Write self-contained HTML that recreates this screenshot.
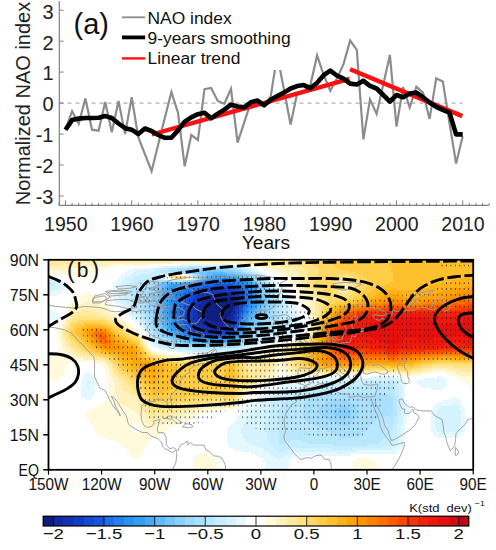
<!DOCTYPE html>
<html><head><meta charset="utf-8"><style>
html,body{margin:0;padding:0;background:#fff;}
svg{display:block;}
</style></head><body>
<svg width="496" height="550" viewBox="0 0 496 550">
<rect width="496" height="550" fill="#fff"/>
<line x1="59.5" y1="103.1" x2="462.5" y2="103.1" stroke="#9a9a9a" stroke-width="1" stroke-dasharray="4,4"/>
<polyline points="65.5,129.4 72.1,111.2 78.7,123.8 85.4,98.5 92.0,129.7 98.6,130.7 105.2,101.9 111.8,132.2 118.5,100.9 125.1,134.1 131.7,97.2 138.3,137.2 144.9,154.2 151.6,171.2 158.2,144.6 164.8,118.0 171.4,92.0 178.0,112.7 184.7,166.3 191.3,135.0 197.9,140.0 204.5,89.2 211.1,87.9 217.8,100.9 224.4,103.7 231.0,88.9 237.6,142.7 244.2,122.3 250.9,102.5 257.5,100.6 264.1,105.9 270.7,96.3 277.3,55.1 284.0,89.8 290.6,124.5 297.2,93.2 303.8,91.0 310.4,85.1 317.1,55.4 323.7,75.2 330.3,90.7 336.9,78.6 343.5,64.1 350.2,40.5 356.8,49.8 363.4,139.3 370.0,99.4 376.6,113.9 383.3,84.5 389.9,55.1 396.5,126.6 403.1,87.0 409.7,107.4 416.4,86.7 423.0,92.6 429.6,118.9 436.2,78.3 442.8,81.4 449.5,123.2 456.1,163.5 462.7,136.2" fill="none" stroke="#8c8c8c" stroke-width="2.2" stroke-linejoin="miter"/>
<line x1="151.9" y1="134.5" x2="349.5" y2="78.8" stroke="#ff1010" stroke-width="4.4"/>
<line x1="350.1" y1="69.3" x2="462.3" y2="116.1" stroke="#ff1010" stroke-width="4.4"/>
<polyline points="65.5,129.7 72.1,120.1 78.7,118.6 85.4,118.0 92.0,118.0 98.6,117.7 105.2,116.1 111.8,118.0 118.5,123.5 125.1,128.2 131.7,129.7 138.3,134.1 144.9,128.5 151.6,131.0 158.2,135.0 164.8,137.8 171.4,137.8 178.0,130.4 184.7,121.7 191.3,117.3 197.9,114.2 204.5,112.7 211.1,118.3 217.8,113.6 224.4,109.6 231.0,104.6 237.6,106.5 244.2,107.4 250.9,102.2 257.5,100.6 264.1,105.3 270.7,99.7 277.3,96.0 284.0,92.6 290.6,88.5 297.2,86.1 303.8,85.1 310.4,88.2 317.1,82.7 323.7,75.2 330.3,70.6 336.9,75.5 343.5,78.6 350.2,83.6 356.8,84.5 363.4,80.8 370.0,85.8 376.6,88.5 383.3,95.0 389.9,101.6 396.5,95.0 403.1,97.2 409.7,93.5 416.4,92.6 423.0,97.2 429.6,102.5 436.2,106.8 442.8,109.9 449.5,112.7 456.1,134.4 462.7,134.4" fill="none" stroke="#000" stroke-width="4.6" stroke-linejoin="round"/>
<rect x="118" y="0" width="185" height="70" fill="#fff"/>
<line x1="122" y1="17.3" x2="145.2" y2="17.3" stroke="#8c8c8c" stroke-width="1.8"/>
<line x1="122" y1="37.4" x2="145.2" y2="37.4" stroke="#000" stroke-width="3.8"/>
<line x1="122" y1="58.4" x2="145.2" y2="58.4" stroke="#ff1010" stroke-width="2.4"/>
<text x="147.5" y="23.8" font-size="17.4" font-family="Liberation Sans, sans-serif" fill="#111">NAO index</text>
<text x="147.5" y="44" font-size="17.4" font-family="Liberation Sans, sans-serif" fill="#111">9-years smoothing</text>
<text x="147.5" y="64.1" font-size="17.4" font-family="Liberation Sans, sans-serif" fill="#111">Linear trend</text>
<text x="73.5" y="33.6" font-size="29" font-family="Liberation Sans, sans-serif" fill="#111">(a)</text>
<line x1="59.3" y1="1" x2="59.3" y2="205.9" stroke="#808080" stroke-width="1.2"/>
<line x1="59.3" y1="205.3" x2="489" y2="205.3" stroke="#808080" stroke-width="1.2"/>
<line x1="59.3" y1="196.0" x2="63.6" y2="196.0" stroke="#808080" stroke-width="1"/>
<text x="53.5" y="204.3" font-size="20" text-anchor="end" font-family="Liberation Sans, sans-serif" fill="#222">-3</text>
<line x1="59.3" y1="165.0" x2="63.6" y2="165.0" stroke="#808080" stroke-width="1"/>
<text x="53.5" y="173.3" font-size="20" text-anchor="end" font-family="Liberation Sans, sans-serif" fill="#222">-2</text>
<line x1="59.3" y1="134.1" x2="63.6" y2="134.1" stroke="#808080" stroke-width="1"/>
<text x="53.5" y="142.4" font-size="20" text-anchor="end" font-family="Liberation Sans, sans-serif" fill="#222">-1</text>
<line x1="59.3" y1="103.1" x2="63.6" y2="103.1" stroke="#808080" stroke-width="1"/>
<text x="53.5" y="111.4" font-size="20" text-anchor="end" font-family="Liberation Sans, sans-serif" fill="#222">0</text>
<line x1="59.3" y1="72.1" x2="63.6" y2="72.1" stroke="#808080" stroke-width="1"/>
<text x="53.5" y="80.4" font-size="20" text-anchor="end" font-family="Liberation Sans, sans-serif" fill="#222">1</text>
<line x1="59.3" y1="41.2" x2="63.6" y2="41.2" stroke="#808080" stroke-width="1"/>
<text x="53.5" y="49.5" font-size="20" text-anchor="end" font-family="Liberation Sans, sans-serif" fill="#222">2</text>
<line x1="59.3" y1="10.2" x2="63.6" y2="10.2" stroke="#808080" stroke-width="1"/>
<text x="53.5" y="18.5" font-size="20" text-anchor="end" font-family="Liberation Sans, sans-serif" fill="#222">3</text>
<line x1="58.9" y1="205.3" x2="58.9" y2="202.8" stroke="#808080" stroke-width="1"/>
<line x1="65.5" y1="205.3" x2="65.5" y2="200.3" stroke="#808080" stroke-width="1"/>
<line x1="72.1" y1="205.3" x2="72.1" y2="202.8" stroke="#808080" stroke-width="1"/>
<line x1="78.7" y1="205.3" x2="78.7" y2="202.8" stroke="#808080" stroke-width="1"/>
<line x1="85.4" y1="205.3" x2="85.4" y2="202.8" stroke="#808080" stroke-width="1"/>
<line x1="92.0" y1="205.3" x2="92.0" y2="202.8" stroke="#808080" stroke-width="1"/>
<line x1="98.6" y1="205.3" x2="98.6" y2="202.8" stroke="#808080" stroke-width="1"/>
<line x1="105.2" y1="205.3" x2="105.2" y2="202.8" stroke="#808080" stroke-width="1"/>
<line x1="111.8" y1="205.3" x2="111.8" y2="202.8" stroke="#808080" stroke-width="1"/>
<line x1="118.5" y1="205.3" x2="118.5" y2="202.8" stroke="#808080" stroke-width="1"/>
<line x1="125.1" y1="205.3" x2="125.1" y2="202.8" stroke="#808080" stroke-width="1"/>
<line x1="131.7" y1="205.3" x2="131.7" y2="200.3" stroke="#808080" stroke-width="1"/>
<line x1="138.3" y1="205.3" x2="138.3" y2="202.8" stroke="#808080" stroke-width="1"/>
<line x1="144.9" y1="205.3" x2="144.9" y2="202.8" stroke="#808080" stroke-width="1"/>
<line x1="151.6" y1="205.3" x2="151.6" y2="202.8" stroke="#808080" stroke-width="1"/>
<line x1="158.2" y1="205.3" x2="158.2" y2="202.8" stroke="#808080" stroke-width="1"/>
<line x1="164.8" y1="205.3" x2="164.8" y2="202.8" stroke="#808080" stroke-width="1"/>
<line x1="171.4" y1="205.3" x2="171.4" y2="202.8" stroke="#808080" stroke-width="1"/>
<line x1="178.0" y1="205.3" x2="178.0" y2="202.8" stroke="#808080" stroke-width="1"/>
<line x1="184.7" y1="205.3" x2="184.7" y2="202.8" stroke="#808080" stroke-width="1"/>
<line x1="191.3" y1="205.3" x2="191.3" y2="202.8" stroke="#808080" stroke-width="1"/>
<line x1="197.9" y1="205.3" x2="197.9" y2="200.3" stroke="#808080" stroke-width="1"/>
<line x1="204.5" y1="205.3" x2="204.5" y2="202.8" stroke="#808080" stroke-width="1"/>
<line x1="211.1" y1="205.3" x2="211.1" y2="202.8" stroke="#808080" stroke-width="1"/>
<line x1="217.8" y1="205.3" x2="217.8" y2="202.8" stroke="#808080" stroke-width="1"/>
<line x1="224.4" y1="205.3" x2="224.4" y2="202.8" stroke="#808080" stroke-width="1"/>
<line x1="231.0" y1="205.3" x2="231.0" y2="202.8" stroke="#808080" stroke-width="1"/>
<line x1="237.6" y1="205.3" x2="237.6" y2="202.8" stroke="#808080" stroke-width="1"/>
<line x1="244.2" y1="205.3" x2="244.2" y2="202.8" stroke="#808080" stroke-width="1"/>
<line x1="250.9" y1="205.3" x2="250.9" y2="202.8" stroke="#808080" stroke-width="1"/>
<line x1="257.5" y1="205.3" x2="257.5" y2="202.8" stroke="#808080" stroke-width="1"/>
<line x1="264.1" y1="205.3" x2="264.1" y2="200.3" stroke="#808080" stroke-width="1"/>
<line x1="270.7" y1="205.3" x2="270.7" y2="202.8" stroke="#808080" stroke-width="1"/>
<line x1="277.3" y1="205.3" x2="277.3" y2="202.8" stroke="#808080" stroke-width="1"/>
<line x1="284.0" y1="205.3" x2="284.0" y2="202.8" stroke="#808080" stroke-width="1"/>
<line x1="290.6" y1="205.3" x2="290.6" y2="202.8" stroke="#808080" stroke-width="1"/>
<line x1="297.2" y1="205.3" x2="297.2" y2="202.8" stroke="#808080" stroke-width="1"/>
<line x1="303.8" y1="205.3" x2="303.8" y2="202.8" stroke="#808080" stroke-width="1"/>
<line x1="310.4" y1="205.3" x2="310.4" y2="202.8" stroke="#808080" stroke-width="1"/>
<line x1="317.1" y1="205.3" x2="317.1" y2="202.8" stroke="#808080" stroke-width="1"/>
<line x1="323.7" y1="205.3" x2="323.7" y2="202.8" stroke="#808080" stroke-width="1"/>
<line x1="330.3" y1="205.3" x2="330.3" y2="200.3" stroke="#808080" stroke-width="1"/>
<line x1="336.9" y1="205.3" x2="336.9" y2="202.8" stroke="#808080" stroke-width="1"/>
<line x1="343.5" y1="205.3" x2="343.5" y2="202.8" stroke="#808080" stroke-width="1"/>
<line x1="350.2" y1="205.3" x2="350.2" y2="202.8" stroke="#808080" stroke-width="1"/>
<line x1="356.8" y1="205.3" x2="356.8" y2="202.8" stroke="#808080" stroke-width="1"/>
<line x1="363.4" y1="205.3" x2="363.4" y2="202.8" stroke="#808080" stroke-width="1"/>
<line x1="370.0" y1="205.3" x2="370.0" y2="202.8" stroke="#808080" stroke-width="1"/>
<line x1="376.6" y1="205.3" x2="376.6" y2="202.8" stroke="#808080" stroke-width="1"/>
<line x1="383.3" y1="205.3" x2="383.3" y2="202.8" stroke="#808080" stroke-width="1"/>
<line x1="389.9" y1="205.3" x2="389.9" y2="202.8" stroke="#808080" stroke-width="1"/>
<line x1="396.5" y1="205.3" x2="396.5" y2="200.3" stroke="#808080" stroke-width="1"/>
<line x1="403.1" y1="205.3" x2="403.1" y2="202.8" stroke="#808080" stroke-width="1"/>
<line x1="409.7" y1="205.3" x2="409.7" y2="202.8" stroke="#808080" stroke-width="1"/>
<line x1="416.4" y1="205.3" x2="416.4" y2="202.8" stroke="#808080" stroke-width="1"/>
<line x1="423.0" y1="205.3" x2="423.0" y2="202.8" stroke="#808080" stroke-width="1"/>
<line x1="429.6" y1="205.3" x2="429.6" y2="202.8" stroke="#808080" stroke-width="1"/>
<line x1="436.2" y1="205.3" x2="436.2" y2="202.8" stroke="#808080" stroke-width="1"/>
<line x1="442.8" y1="205.3" x2="442.8" y2="202.8" stroke="#808080" stroke-width="1"/>
<line x1="449.5" y1="205.3" x2="449.5" y2="202.8" stroke="#808080" stroke-width="1"/>
<line x1="456.1" y1="205.3" x2="456.1" y2="202.8" stroke="#808080" stroke-width="1"/>
<line x1="462.7" y1="205.3" x2="462.7" y2="200.3" stroke="#808080" stroke-width="1"/>
<line x1="469.3" y1="205.3" x2="469.3" y2="202.8" stroke="#808080" stroke-width="1"/>
<line x1="475.9" y1="205.3" x2="475.9" y2="202.8" stroke="#808080" stroke-width="1"/>
<line x1="482.6" y1="205.3" x2="482.6" y2="202.8" stroke="#808080" stroke-width="1"/>
<line x1="489.2" y1="205.3" x2="489.2" y2="202.8" stroke="#808080" stroke-width="1"/>
<text x="65.8" y="230.6" font-size="19.5" text-anchor="middle" font-family="Liberation Sans, sans-serif" fill="#222">1950</text>
<text x="132.0" y="230.6" font-size="19.5" text-anchor="middle" font-family="Liberation Sans, sans-serif" fill="#222">1960</text>
<text x="198.2" y="230.6" font-size="19.5" text-anchor="middle" font-family="Liberation Sans, sans-serif" fill="#222">1970</text>
<text x="264.4" y="230.6" font-size="19.5" text-anchor="middle" font-family="Liberation Sans, sans-serif" fill="#222">1980</text>
<text x="330.6" y="230.6" font-size="19.5" text-anchor="middle" font-family="Liberation Sans, sans-serif" fill="#222">1990</text>
<text x="396.8" y="230.6" font-size="19.5" text-anchor="middle" font-family="Liberation Sans, sans-serif" fill="#222">2000</text>
<text x="463.0" y="230.6" font-size="19.5" text-anchor="middle" font-family="Liberation Sans, sans-serif" fill="#222">2010</text>
<text x="265.9" y="248.5" font-size="19.2" text-anchor="middle" font-family="Liberation Sans, sans-serif" fill="#111">Years</text>
<text transform="translate(29.8,103.5) rotate(-90)" font-size="20" text-anchor="middle" font-family="Liberation Sans, sans-serif" fill="#222">Normalized NAO index</text>
<defs><clipPath id="mclip"><rect x="48.5" y="259.8" width="424.7" height="210.0"/></clipPath>
<pattern id="dots" x="48.22" y="256.95" width="4.43" height="5.83" patternUnits="userSpaceOnUse"><rect x="3.63" y="2.1" width="1.6" height="1.6" fill="#1a1a1a"/></pattern></defs>
<g clip-path="url(#mclip)">
<g shape-rendering="crispEdges">
<rect x="48.5" y="259.8" width="196.0" height="2.0" fill="#ffeaa0"/>
<rect x="244.5" y="259.8" width="58.0" height="2.0" fill="#ffe282"/>
<rect x="302.5" y="259.8" width="26.0" height="2.0" fill="#ffd864"/>
<rect x="328.5" y="259.8" width="58.0" height="2.0" fill="#ffcd46"/>
<rect x="386.5" y="259.8" width="88.0" height="2.0" fill="#ffc02d"/>
<rect x="48.5" y="261.8" width="32.0" height="2.0" fill="#ffeaa0"/>
<rect x="80.5" y="261.8" width="90.0" height="2.0" fill="#fff2be"/>
<rect x="170.5" y="261.8" width="66.0" height="2.0" fill="#fffadc"/>
<rect x="236.5" y="261.8" width="12.0" height="2.0" fill="#fff2be"/>
<rect x="248.5" y="261.8" width="14.0" height="2.0" fill="#ffeaa0"/>
<rect x="262.5" y="261.8" width="46.0" height="2.0" fill="#ffe282"/>
<rect x="308.5" y="261.8" width="22.0" height="2.0" fill="#ffd864"/>
<rect x="330.5" y="261.8" width="58.0" height="2.0" fill="#ffcd46"/>
<rect x="388.5" y="261.8" width="86.0" height="2.0" fill="#ffc02d"/>
<rect x="48.5" y="263.8" width="14.0" height="2.0" fill="#ffeaa0"/>
<rect x="62.5" y="263.8" width="46.0" height="2.0" fill="#fff2be"/>
<rect x="108.5" y="263.8" width="40.0" height="2.0" fill="#fffadc"/>
<rect x="180.5" y="263.8" width="52.0" height="2.0" fill="#e4f8ff"/>
<rect x="246.5" y="263.8" width="8.0" height="2.0" fill="#fffadc"/>
<rect x="254.5" y="263.8" width="6.0" height="2.0" fill="#fff2be"/>
<rect x="260.5" y="263.8" width="36.0" height="2.0" fill="#ffeaa0"/>
<rect x="296.5" y="263.8" width="16.0" height="2.0" fill="#ffe282"/>
<rect x="312.5" y="263.8" width="20.0" height="2.0" fill="#ffd864"/>
<rect x="332.5" y="263.8" width="56.0" height="2.0" fill="#ffcd46"/>
<rect x="388.5" y="263.8" width="86.0" height="2.0" fill="#ffc02d"/>
<rect x="48.5" y="265.8" width="36.0" height="2.0" fill="#fff2be"/>
<rect x="84.5" y="265.8" width="30.0" height="2.0" fill="#fffadc"/>
<rect x="156.5" y="265.8" width="8.0" height="2.0" fill="#e4f8ff"/>
<rect x="164.5" y="265.8" width="12.0" height="2.0" fill="#d4f3ff"/>
<rect x="176.5" y="265.8" width="12.0" height="2.0" fill="#c6eefe"/>
<rect x="188.5" y="265.8" width="40.0" height="2.0" fill="#b8e7fe"/>
<rect x="228.5" y="265.8" width="8.0" height="2.0" fill="#c6eefe"/>
<rect x="236.5" y="265.8" width="4.0" height="2.0" fill="#d4f3ff"/>
<rect x="240.5" y="265.8" width="6.0" height="2.0" fill="#e4f8ff"/>
<rect x="256.5" y="265.8" width="6.0" height="2.0" fill="#fffadc"/>
<rect x="262.5" y="265.8" width="18.0" height="2.0" fill="#fff2be"/>
<rect x="280.5" y="265.8" width="22.0" height="2.0" fill="#ffeaa0"/>
<rect x="302.5" y="265.8" width="14.0" height="2.0" fill="#ffe282"/>
<rect x="316.5" y="265.8" width="18.0" height="2.0" fill="#ffd864"/>
<rect x="334.5" y="265.8" width="56.0" height="2.0" fill="#ffcd46"/>
<rect x="390.5" y="265.8" width="84.0" height="2.0" fill="#ffc02d"/>
<rect x="48.5" y="267.8" width="22.0" height="2.0" fill="#fff2be"/>
<rect x="70.5" y="267.8" width="34.0" height="2.0" fill="#fffadc"/>
<rect x="132.5" y="267.8" width="20.0" height="2.0" fill="#e4f8ff"/>
<rect x="152.5" y="267.8" width="8.0" height="2.0" fill="#d4f3ff"/>
<rect x="160.5" y="267.8" width="8.0" height="2.0" fill="#c6eefe"/>
<rect x="168.5" y="267.8" width="8.0" height="2.0" fill="#b8e7fe"/>
<rect x="176.5" y="267.8" width="10.0" height="2.0" fill="#aae0fd"/>
<rect x="186.5" y="267.8" width="44.0" height="2.0" fill="#9bd8fd"/>
<rect x="230.5" y="267.8" width="6.0" height="2.0" fill="#aae0fd"/>
<rect x="236.5" y="267.8" width="4.0" height="2.0" fill="#b8e7fe"/>
<rect x="240.5" y="267.8" width="4.0" height="2.0" fill="#c6eefe"/>
<rect x="244.5" y="267.8" width="6.0" height="2.0" fill="#d4f3ff"/>
<rect x="250.5" y="267.8" width="4.0" height="2.0" fill="#e4f8ff"/>
<rect x="262.5" y="267.8" width="10.0" height="2.0" fill="#fffadc"/>
<rect x="272.5" y="267.8" width="22.0" height="2.0" fill="#fff2be"/>
<rect x="294.5" y="267.8" width="12.0" height="2.0" fill="#ffeaa0"/>
<rect x="306.5" y="267.8" width="12.0" height="2.0" fill="#ffe282"/>
<rect x="318.5" y="267.8" width="20.0" height="2.0" fill="#ffd864"/>
<rect x="338.5" y="267.8" width="52.0" height="2.0" fill="#ffcd46"/>
<rect x="390.5" y="267.8" width="84.0" height="2.0" fill="#ffc02d"/>
<rect x="48.5" y="269.8" width="50.0" height="2.0" fill="#fffadc"/>
<rect x="126.5" y="269.8" width="10.0" height="2.0" fill="#e4f8ff"/>
<rect x="136.5" y="269.8" width="18.0" height="2.0" fill="#d4f3ff"/>
<rect x="154.5" y="269.8" width="6.0" height="2.0" fill="#c6eefe"/>
<rect x="160.5" y="269.8" width="8.0" height="2.0" fill="#b8e7fe"/>
<rect x="168.5" y="269.8" width="10.0" height="2.0" fill="#aae0fd"/>
<rect x="178.5" y="269.8" width="10.0" height="2.0" fill="#9bd8fd"/>
<rect x="188.5" y="269.8" width="12.0" height="2.0" fill="#8ad0fc"/>
<rect x="200.5" y="269.8" width="22.0" height="2.0" fill="#76c6fb"/>
<rect x="222.5" y="269.8" width="12.0" height="2.0" fill="#8ad0fc"/>
<rect x="234.5" y="269.8" width="4.0" height="2.0" fill="#9bd8fd"/>
<rect x="238.5" y="269.8" width="4.0" height="2.0" fill="#aae0fd"/>
<rect x="242.5" y="269.8" width="4.0" height="2.0" fill="#b8e7fe"/>
<rect x="246.5" y="269.8" width="4.0" height="2.0" fill="#c6eefe"/>
<rect x="250.5" y="269.8" width="4.0" height="2.0" fill="#d4f3ff"/>
<rect x="254.5" y="269.8" width="4.0" height="2.0" fill="#e4f8ff"/>
<rect x="268.5" y="269.8" width="10.0" height="2.0" fill="#fffadc"/>
<rect x="278.5" y="269.8" width="18.0" height="2.0" fill="#fff2be"/>
<rect x="296.5" y="269.8" width="10.0" height="2.0" fill="#ffeaa0"/>
<rect x="306.5" y="269.8" width="12.0" height="2.0" fill="#ffe282"/>
<rect x="318.5" y="269.8" width="30.0" height="2.0" fill="#ffd864"/>
<rect x="348.5" y="269.8" width="42.0" height="2.0" fill="#ffcd46"/>
<rect x="390.5" y="269.8" width="84.0" height="2.0" fill="#ffc02d"/>
<rect x="48.5" y="271.8" width="42.0" height="2.0" fill="#fffadc"/>
<rect x="124.5" y="271.8" width="8.0" height="2.0" fill="#e4f8ff"/>
<rect x="132.5" y="271.8" width="18.0" height="2.0" fill="#d4f3ff"/>
<rect x="150.5" y="271.8" width="10.0" height="2.0" fill="#c6eefe"/>
<rect x="160.5" y="271.8" width="20.0" height="2.0" fill="#b8e7fe"/>
<rect x="180.5" y="271.8" width="6.0" height="2.0" fill="#aae0fd"/>
<rect x="186.5" y="271.8" width="6.0" height="2.0" fill="#9bd8fd"/>
<rect x="192.5" y="271.8" width="6.0" height="2.0" fill="#8ad0fc"/>
<rect x="198.5" y="271.8" width="8.0" height="2.0" fill="#76c6fb"/>
<rect x="206.5" y="271.8" width="18.0" height="2.0" fill="#5fb9fa"/>
<rect x="224.5" y="271.8" width="10.0" height="2.0" fill="#76c6fb"/>
<rect x="234.5" y="271.8" width="6.0" height="2.0" fill="#8ad0fc"/>
<rect x="240.5" y="271.8" width="4.0" height="2.0" fill="#9bd8fd"/>
<rect x="244.5" y="271.8" width="4.0" height="2.0" fill="#aae0fd"/>
<rect x="248.5" y="271.8" width="4.0" height="2.0" fill="#b8e7fe"/>
<rect x="252.5" y="271.8" width="4.0" height="2.0" fill="#c6eefe"/>
<rect x="256.5" y="271.8" width="2.0" height="2.0" fill="#d4f3ff"/>
<rect x="258.5" y="271.8" width="4.0" height="2.0" fill="#e4f8ff"/>
<rect x="274.5" y="271.8" width="10.0" height="2.0" fill="#fffadc"/>
<rect x="284.5" y="271.8" width="14.0" height="2.0" fill="#fff2be"/>
<rect x="298.5" y="271.8" width="8.0" height="2.0" fill="#ffeaa0"/>
<rect x="306.5" y="271.8" width="12.0" height="2.0" fill="#ffe282"/>
<rect x="318.5" y="271.8" width="36.0" height="2.0" fill="#ffd864"/>
<rect x="354.5" y="271.8" width="38.0" height="2.0" fill="#ffcd46"/>
<rect x="392.5" y="271.8" width="82.0" height="2.0" fill="#ffc02d"/>
<rect x="68.5" y="273.8" width="12.0" height="2.0" fill="#fffadc"/>
<rect x="120.5" y="273.8" width="10.0" height="2.0" fill="#e4f8ff"/>
<rect x="130.5" y="273.8" width="10.0" height="2.0" fill="#d4f3ff"/>
<rect x="140.5" y="273.8" width="20.0" height="2.0" fill="#c6eefe"/>
<rect x="160.5" y="273.8" width="6.0" height="2.0" fill="#d4f3ff"/>
<rect x="166.5" y="273.8" width="4.0" height="2.0" fill="#e4f8ff"/>
<rect x="184.5" y="273.8" width="4.0" height="2.0" fill="#e4f8ff"/>
<rect x="188.5" y="273.8" width="2.0" height="2.0" fill="#d4f3ff"/>
<rect x="190.5" y="273.8" width="2.0" height="2.0" fill="#c6eefe"/>
<rect x="192.5" y="273.8" width="2.0" height="2.0" fill="#b8e7fe"/>
<rect x="194.5" y="273.8" width="2.0" height="2.0" fill="#aae0fd"/>
<rect x="196.5" y="273.8" width="2.0" height="2.0" fill="#9bd8fd"/>
<rect x="198.5" y="273.8" width="2.0" height="2.0" fill="#8ad0fc"/>
<rect x="200.5" y="273.8" width="4.0" height="2.0" fill="#76c6fb"/>
<rect x="204.5" y="273.8" width="8.0" height="2.0" fill="#5fb9fa"/>
<rect x="212.5" y="273.8" width="14.0" height="2.0" fill="#46aaf8"/>
<rect x="226.5" y="273.8" width="10.0" height="2.0" fill="#5fb9fa"/>
<rect x="236.5" y="273.8" width="4.0" height="2.0" fill="#76c6fb"/>
<rect x="240.5" y="273.8" width="6.0" height="2.0" fill="#8ad0fc"/>
<rect x="246.5" y="273.8" width="4.0" height="2.0" fill="#9bd8fd"/>
<rect x="250.5" y="273.8" width="2.0" height="2.0" fill="#aae0fd"/>
<rect x="252.5" y="273.8" width="4.0" height="2.0" fill="#b8e7fe"/>
<rect x="256.5" y="273.8" width="2.0" height="2.0" fill="#c6eefe"/>
<rect x="258.5" y="273.8" width="4.0" height="2.0" fill="#d4f3ff"/>
<rect x="262.5" y="273.8" width="4.0" height="2.0" fill="#e4f8ff"/>
<rect x="278.5" y="273.8" width="10.0" height="2.0" fill="#fffadc"/>
<rect x="288.5" y="273.8" width="10.0" height="2.0" fill="#fff2be"/>
<rect x="298.5" y="273.8" width="8.0" height="2.0" fill="#ffeaa0"/>
<rect x="306.5" y="273.8" width="10.0" height="2.0" fill="#ffe282"/>
<rect x="316.5" y="273.8" width="22.0" height="2.0" fill="#ffd864"/>
<rect x="338.5" y="273.8" width="10.0" height="2.0" fill="#ffe282"/>
<rect x="348.5" y="273.8" width="10.0" height="2.0" fill="#ffd864"/>
<rect x="358.5" y="273.8" width="34.0" height="2.0" fill="#ffcd46"/>
<rect x="392.5" y="273.8" width="82.0" height="2.0" fill="#ffc02d"/>
<rect x="118.5" y="275.8" width="8.0" height="2.0" fill="#e4f8ff"/>
<rect x="126.5" y="275.8" width="8.0" height="2.0" fill="#d4f3ff"/>
<rect x="134.5" y="275.8" width="22.0" height="2.0" fill="#c6eefe"/>
<rect x="156.5" y="275.8" width="4.0" height="2.0" fill="#d4f3ff"/>
<rect x="160.5" y="275.8" width="2.0" height="2.0" fill="#e4f8ff"/>
<rect x="166.5" y="275.8" width="2.0" height="2.0" fill="#fffadc"/>
<rect x="168.5" y="275.8" width="2.0" height="2.0" fill="#fff2be"/>
<rect x="170.5" y="275.8" width="2.0" height="2.0" fill="#ffeaa0"/>
<rect x="172.5" y="275.8" width="2.0" height="2.0" fill="#ffe282"/>
<rect x="174.5" y="275.8" width="2.0" height="2.0" fill="#ffd864"/>
<rect x="176.5" y="275.8" width="4.0" height="2.0" fill="#ffcd46"/>
<rect x="180.5" y="275.8" width="2.0" height="2.0" fill="#ffd864"/>
<rect x="182.5" y="275.8" width="2.0" height="2.0" fill="#ffe282"/>
<rect x="184.5" y="275.8" width="2.0" height="2.0" fill="#ffeaa0"/>
<rect x="186.5" y="275.8" width="2.0" height="2.0" fill="#fff2be"/>
<rect x="188.5" y="275.8" width="2.0" height="2.0" fill="#fffadc"/>
<rect x="192.5" y="275.8" width="2.0" height="2.0" fill="#d4f3ff"/>
<rect x="194.5" y="275.8" width="2.0" height="2.0" fill="#c6eefe"/>
<rect x="196.5" y="275.8" width="2.0" height="2.0" fill="#aae0fd"/>
<rect x="198.5" y="275.8" width="2.0" height="2.0" fill="#9bd8fd"/>
<rect x="200.5" y="275.8" width="2.0" height="2.0" fill="#8ad0fc"/>
<rect x="202.5" y="275.8" width="2.0" height="2.0" fill="#76c6fb"/>
<rect x="204.5" y="275.8" width="4.0" height="2.0" fill="#5fb9fa"/>
<rect x="208.5" y="275.8" width="6.0" height="2.0" fill="#46aaf8"/>
<rect x="214.5" y="275.8" width="16.0" height="2.0" fill="#349ef5"/>
<rect x="230.5" y="275.8" width="6.0" height="2.0" fill="#46aaf8"/>
<rect x="236.5" y="275.8" width="6.0" height="2.0" fill="#5fb9fa"/>
<rect x="242.5" y="275.8" width="6.0" height="2.0" fill="#76c6fb"/>
<rect x="248.5" y="275.8" width="2.0" height="2.0" fill="#8ad0fc"/>
<rect x="250.5" y="275.8" width="4.0" height="2.0" fill="#9bd8fd"/>
<rect x="254.5" y="275.8" width="2.0" height="2.0" fill="#aae0fd"/>
<rect x="256.5" y="275.8" width="2.0" height="2.0" fill="#b8e7fe"/>
<rect x="258.5" y="275.8" width="4.0" height="2.0" fill="#c6eefe"/>
<rect x="262.5" y="275.8" width="4.0" height="2.0" fill="#d4f3ff"/>
<rect x="266.5" y="275.8" width="4.0" height="2.0" fill="#e4f8ff"/>
<rect x="280.5" y="275.8" width="10.0" height="2.0" fill="#fffadc"/>
<rect x="290.5" y="275.8" width="10.0" height="2.0" fill="#fff2be"/>
<rect x="300.5" y="275.8" width="6.0" height="2.0" fill="#ffeaa0"/>
<rect x="306.5" y="275.8" width="10.0" height="2.0" fill="#ffe282"/>
<rect x="316.5" y="275.8" width="18.0" height="2.0" fill="#ffd864"/>
<rect x="334.5" y="275.8" width="18.0" height="2.0" fill="#ffe282"/>
<rect x="352.5" y="275.8" width="10.0" height="2.0" fill="#ffd864"/>
<rect x="362.5" y="275.8" width="30.0" height="2.0" fill="#ffcd46"/>
<rect x="392.5" y="275.8" width="74.0" height="2.0" fill="#ffc02d"/>
<rect x="466.5" y="275.8" width="8.0" height="2.0" fill="#ffb219"/>
<rect x="48.5" y="277.8" width="10.0" height="2.0" fill="#e4f8ff"/>
<rect x="116.5" y="277.8" width="8.0" height="2.0" fill="#e4f8ff"/>
<rect x="124.5" y="277.8" width="8.0" height="2.0" fill="#d4f3ff"/>
<rect x="132.5" y="277.8" width="14.0" height="2.0" fill="#c6eefe"/>
<rect x="146.5" y="277.8" width="2.0" height="2.0" fill="#b8e7fe"/>
<rect x="148.5" y="277.8" width="12.0" height="2.0" fill="#c6eefe"/>
<rect x="160.5" y="277.8" width="4.0" height="2.0" fill="#d4f3ff"/>
<rect x="164.5" y="277.8" width="2.0" height="2.0" fill="#e4f8ff"/>
<rect x="170.5" y="277.8" width="2.0" height="2.0" fill="#fffadc"/>
<rect x="172.5" y="277.8" width="2.0" height="2.0" fill="#fff2be"/>
<rect x="174.5" y="277.8" width="8.0" height="2.0" fill="#ffeaa0"/>
<rect x="182.5" y="277.8" width="2.0" height="2.0" fill="#fff2be"/>
<rect x="184.5" y="277.8" width="2.0" height="2.0" fill="#fffadc"/>
<rect x="190.5" y="277.8" width="2.0" height="2.0" fill="#d4f3ff"/>
<rect x="192.5" y="277.8" width="2.0" height="2.0" fill="#c6eefe"/>
<rect x="194.5" y="277.8" width="2.0" height="2.0" fill="#aae0fd"/>
<rect x="196.5" y="277.8" width="2.0" height="2.0" fill="#9bd8fd"/>
<rect x="198.5" y="277.8" width="2.0" height="2.0" fill="#8ad0fc"/>
<rect x="200.5" y="277.8" width="2.0" height="2.0" fill="#76c6fb"/>
<rect x="202.5" y="277.8" width="2.0" height="2.0" fill="#5fb9fa"/>
<rect x="204.5" y="277.8" width="2.0" height="2.0" fill="#46aaf8"/>
<rect x="206.5" y="277.8" width="6.0" height="2.0" fill="#349ef5"/>
<rect x="212.5" y="277.8" width="18.0" height="2.0" fill="#2a91f2"/>
<rect x="230.5" y="277.8" width="8.0" height="2.0" fill="#349ef5"/>
<rect x="238.5" y="277.8" width="6.0" height="2.0" fill="#46aaf8"/>
<rect x="244.5" y="277.8" width="4.0" height="2.0" fill="#5fb9fa"/>
<rect x="248.5" y="277.8" width="4.0" height="2.0" fill="#76c6fb"/>
<rect x="252.5" y="277.8" width="2.0" height="2.0" fill="#8ad0fc"/>
<rect x="254.5" y="277.8" width="2.0" height="2.0" fill="#9bd8fd"/>
<rect x="256.5" y="277.8" width="4.0" height="2.0" fill="#aae0fd"/>
<rect x="260.5" y="277.8" width="2.0" height="2.0" fill="#b8e7fe"/>
<rect x="262.5" y="277.8" width="4.0" height="2.0" fill="#c6eefe"/>
<rect x="266.5" y="277.8" width="2.0" height="2.0" fill="#d4f3ff"/>
<rect x="268.5" y="277.8" width="4.0" height="2.0" fill="#e4f8ff"/>
<rect x="282.5" y="277.8" width="10.0" height="2.0" fill="#fffadc"/>
<rect x="292.5" y="277.8" width="8.0" height="2.0" fill="#fff2be"/>
<rect x="300.5" y="277.8" width="6.0" height="2.0" fill="#ffeaa0"/>
<rect x="306.5" y="277.8" width="8.0" height="2.0" fill="#ffe282"/>
<rect x="314.5" y="277.8" width="20.0" height="2.0" fill="#ffd864"/>
<rect x="334.5" y="277.8" width="6.0" height="2.0" fill="#ffe282"/>
<rect x="340.5" y="277.8" width="8.0" height="2.0" fill="#ffeaa0"/>
<rect x="348.5" y="277.8" width="6.0" height="2.0" fill="#ffe282"/>
<rect x="354.5" y="277.8" width="12.0" height="2.0" fill="#ffd864"/>
<rect x="366.5" y="277.8" width="26.0" height="2.0" fill="#ffcd46"/>
<rect x="392.5" y="277.8" width="66.0" height="2.0" fill="#ffc02d"/>
<rect x="458.5" y="277.8" width="16.0" height="2.0" fill="#ffb219"/>
<rect x="48.5" y="279.8" width="8.0" height="2.0" fill="#d4f3ff"/>
<rect x="56.5" y="279.8" width="6.0" height="2.0" fill="#e4f8ff"/>
<rect x="114.5" y="279.8" width="8.0" height="2.0" fill="#e4f8ff"/>
<rect x="122.5" y="279.8" width="8.0" height="2.0" fill="#d4f3ff"/>
<rect x="130.5" y="279.8" width="8.0" height="2.0" fill="#c6eefe"/>
<rect x="138.5" y="279.8" width="14.0" height="2.0" fill="#b8e7fe"/>
<rect x="152.5" y="279.8" width="18.0" height="2.0" fill="#aae0fd"/>
<rect x="170.5" y="279.8" width="12.0" height="2.0" fill="#b8e7fe"/>
<rect x="182.5" y="279.8" width="4.0" height="2.0" fill="#aae0fd"/>
<rect x="186.5" y="279.8" width="2.0" height="2.0" fill="#9bd8fd"/>
<rect x="188.5" y="279.8" width="4.0" height="2.0" fill="#8ad0fc"/>
<rect x="192.5" y="279.8" width="2.0" height="2.0" fill="#76c6fb"/>
<rect x="194.5" y="279.8" width="2.0" height="2.0" fill="#5fb9fa"/>
<rect x="196.5" y="279.8" width="4.0" height="2.0" fill="#46aaf8"/>
<rect x="200.5" y="279.8" width="4.0" height="2.0" fill="#349ef5"/>
<rect x="204.5" y="279.8" width="8.0" height="2.0" fill="#2a91f2"/>
<rect x="212.5" y="279.8" width="20.0" height="2.0" fill="#2480ee"/>
<rect x="232.5" y="279.8" width="8.0" height="2.0" fill="#2a91f2"/>
<rect x="240.5" y="279.8" width="6.0" height="2.0" fill="#349ef5"/>
<rect x="246.5" y="279.8" width="4.0" height="2.0" fill="#46aaf8"/>
<rect x="250.5" y="279.8" width="2.0" height="2.0" fill="#5fb9fa"/>
<rect x="252.5" y="279.8" width="2.0" height="2.0" fill="#76c6fb"/>
<rect x="254.5" y="279.8" width="2.0" height="2.0" fill="#8ad0fc"/>
<rect x="256.5" y="279.8" width="4.0" height="2.0" fill="#9bd8fd"/>
<rect x="260.5" y="279.8" width="2.0" height="2.0" fill="#aae0fd"/>
<rect x="262.5" y="279.8" width="2.0" height="2.0" fill="#b8e7fe"/>
<rect x="264.5" y="279.8" width="4.0" height="2.0" fill="#c6eefe"/>
<rect x="268.5" y="279.8" width="4.0" height="2.0" fill="#d4f3ff"/>
<rect x="272.5" y="279.8" width="2.0" height="2.0" fill="#e4f8ff"/>
<rect x="284.5" y="279.8" width="10.0" height="2.0" fill="#fffadc"/>
<rect x="294.5" y="279.8" width="6.0" height="2.0" fill="#fff2be"/>
<rect x="300.5" y="279.8" width="6.0" height="2.0" fill="#ffeaa0"/>
<rect x="306.5" y="279.8" width="8.0" height="2.0" fill="#ffe282"/>
<rect x="314.5" y="279.8" width="18.0" height="2.0" fill="#ffd864"/>
<rect x="332.5" y="279.8" width="6.0" height="2.0" fill="#ffe282"/>
<rect x="338.5" y="279.8" width="12.0" height="2.0" fill="#ffeaa0"/>
<rect x="350.5" y="279.8" width="6.0" height="2.0" fill="#ffe282"/>
<rect x="356.5" y="279.8" width="12.0" height="2.0" fill="#ffd864"/>
<rect x="368.5" y="279.8" width="24.0" height="2.0" fill="#ffcd46"/>
<rect x="392.5" y="279.8" width="58.0" height="2.0" fill="#ffc02d"/>
<rect x="450.5" y="279.8" width="24.0" height="2.0" fill="#ffb219"/>
<rect x="48.5" y="281.8" width="12.0" height="2.0" fill="#d4f3ff"/>
<rect x="60.5" y="281.8" width="6.0" height="2.0" fill="#e4f8ff"/>
<rect x="112.5" y="281.8" width="8.0" height="2.0" fill="#e4f8ff"/>
<rect x="120.5" y="281.8" width="8.0" height="2.0" fill="#d4f3ff"/>
<rect x="128.5" y="281.8" width="6.0" height="2.0" fill="#c6eefe"/>
<rect x="134.5" y="281.8" width="10.0" height="2.0" fill="#b8e7fe"/>
<rect x="144.5" y="281.8" width="10.0" height="2.0" fill="#aae0fd"/>
<rect x="154.5" y="281.8" width="4.0" height="2.0" fill="#9bd8fd"/>
<rect x="158.5" y="281.8" width="4.0" height="2.0" fill="#8ad0fc"/>
<rect x="162.5" y="281.8" width="4.0" height="2.0" fill="#76c6fb"/>
<rect x="166.5" y="281.8" width="12.0" height="2.0" fill="#5fb9fa"/>
<rect x="178.5" y="281.8" width="8.0" height="2.0" fill="#46aaf8"/>
<rect x="186.5" y="281.8" width="6.0" height="2.0" fill="#349ef5"/>
<rect x="192.5" y="281.8" width="8.0" height="2.0" fill="#2a91f2"/>
<rect x="200.5" y="281.8" width="10.0" height="2.0" fill="#2480ee"/>
<rect x="210.5" y="281.8" width="24.0" height="2.0" fill="#1e6ee6"/>
<rect x="234.5" y="281.8" width="6.0" height="2.0" fill="#2480ee"/>
<rect x="240.5" y="281.8" width="6.0" height="2.0" fill="#2a91f2"/>
<rect x="246.5" y="281.8" width="4.0" height="2.0" fill="#349ef5"/>
<rect x="250.5" y="281.8" width="2.0" height="2.0" fill="#46aaf8"/>
<rect x="252.5" y="281.8" width="2.0" height="2.0" fill="#5fb9fa"/>
<rect x="254.5" y="281.8" width="2.0" height="2.0" fill="#76c6fb"/>
<rect x="256.5" y="281.8" width="4.0" height="2.0" fill="#8ad0fc"/>
<rect x="260.5" y="281.8" width="2.0" height="2.0" fill="#9bd8fd"/>
<rect x="262.5" y="281.8" width="2.0" height="2.0" fill="#aae0fd"/>
<rect x="264.5" y="281.8" width="4.0" height="2.0" fill="#b8e7fe"/>
<rect x="268.5" y="281.8" width="2.0" height="2.0" fill="#c6eefe"/>
<rect x="270.5" y="281.8" width="4.0" height="2.0" fill="#d4f3ff"/>
<rect x="274.5" y="281.8" width="2.0" height="2.0" fill="#e4f8ff"/>
<rect x="286.5" y="281.8" width="8.0" height="2.0" fill="#fffadc"/>
<rect x="294.5" y="281.8" width="6.0" height="2.0" fill="#fff2be"/>
<rect x="300.5" y="281.8" width="6.0" height="2.0" fill="#ffeaa0"/>
<rect x="306.5" y="281.8" width="8.0" height="2.0" fill="#ffe282"/>
<rect x="314.5" y="281.8" width="18.0" height="2.0" fill="#ffd864"/>
<rect x="332.5" y="281.8" width="4.0" height="2.0" fill="#ffe282"/>
<rect x="336.5" y="281.8" width="6.0" height="2.0" fill="#ffeaa0"/>
<rect x="342.5" y="281.8" width="4.0" height="2.0" fill="#fff2be"/>
<rect x="346.5" y="281.8" width="6.0" height="2.0" fill="#ffeaa0"/>
<rect x="352.5" y="281.8" width="6.0" height="2.0" fill="#ffe282"/>
<rect x="358.5" y="281.8" width="10.0" height="2.0" fill="#ffd864"/>
<rect x="368.5" y="281.8" width="20.0" height="2.0" fill="#ffcd46"/>
<rect x="388.5" y="281.8" width="54.0" height="2.0" fill="#ffc02d"/>
<rect x="442.5" y="281.8" width="32.0" height="2.0" fill="#ffb219"/>
<rect x="48.5" y="283.8" width="6.0" height="2.0" fill="#c6eefe"/>
<rect x="54.5" y="283.8" width="6.0" height="2.0" fill="#d4f3ff"/>
<rect x="60.5" y="283.8" width="6.0" height="2.0" fill="#e4f8ff"/>
<rect x="112.5" y="283.8" width="8.0" height="2.0" fill="#e4f8ff"/>
<rect x="120.5" y="283.8" width="6.0" height="2.0" fill="#d4f3ff"/>
<rect x="126.5" y="283.8" width="6.0" height="2.0" fill="#c6eefe"/>
<rect x="132.5" y="283.8" width="10.0" height="2.0" fill="#b8e7fe"/>
<rect x="142.5" y="283.8" width="8.0" height="2.0" fill="#aae0fd"/>
<rect x="150.5" y="283.8" width="4.0" height="2.0" fill="#9bd8fd"/>
<rect x="154.5" y="283.8" width="4.0" height="2.0" fill="#8ad0fc"/>
<rect x="158.5" y="283.8" width="4.0" height="2.0" fill="#76c6fb"/>
<rect x="162.5" y="283.8" width="4.0" height="2.0" fill="#5fb9fa"/>
<rect x="166.5" y="283.8" width="4.0" height="2.0" fill="#46aaf8"/>
<rect x="170.5" y="283.8" width="8.0" height="2.0" fill="#349ef5"/>
<rect x="178.5" y="283.8" width="8.0" height="2.0" fill="#2a91f2"/>
<rect x="186.5" y="283.8" width="12.0" height="2.0" fill="#2480ee"/>
<rect x="198.5" y="283.8" width="14.0" height="2.0" fill="#1e6ee6"/>
<rect x="212.5" y="283.8" width="20.0" height="2.0" fill="#1955dc"/>
<rect x="232.5" y="283.8" width="8.0" height="2.0" fill="#1e6ee6"/>
<rect x="240.5" y="283.8" width="6.0" height="2.0" fill="#2480ee"/>
<rect x="246.5" y="283.8" width="4.0" height="2.0" fill="#2a91f2"/>
<rect x="250.5" y="283.8" width="2.0" height="2.0" fill="#349ef5"/>
<rect x="252.5" y="283.8" width="2.0" height="2.0" fill="#46aaf8"/>
<rect x="254.5" y="283.8" width="2.0" height="2.0" fill="#5fb9fa"/>
<rect x="256.5" y="283.8" width="2.0" height="2.0" fill="#76c6fb"/>
<rect x="258.5" y="283.8" width="4.0" height="2.0" fill="#8ad0fc"/>
<rect x="262.5" y="283.8" width="2.0" height="2.0" fill="#9bd8fd"/>
<rect x="264.5" y="283.8" width="2.0" height="2.0" fill="#aae0fd"/>
<rect x="266.5" y="283.8" width="4.0" height="2.0" fill="#b8e7fe"/>
<rect x="270.5" y="283.8" width="2.0" height="2.0" fill="#c6eefe"/>
<rect x="272.5" y="283.8" width="2.0" height="2.0" fill="#d4f3ff"/>
<rect x="274.5" y="283.8" width="4.0" height="2.0" fill="#e4f8ff"/>
<rect x="288.5" y="283.8" width="8.0" height="2.0" fill="#fffadc"/>
<rect x="296.5" y="283.8" width="6.0" height="2.0" fill="#fff2be"/>
<rect x="302.5" y="283.8" width="6.0" height="2.0" fill="#ffeaa0"/>
<rect x="308.5" y="283.8" width="6.0" height="2.0" fill="#ffe282"/>
<rect x="314.5" y="283.8" width="18.0" height="2.0" fill="#ffd864"/>
<rect x="332.5" y="283.8" width="4.0" height="2.0" fill="#ffe282"/>
<rect x="336.5" y="283.8" width="4.0" height="2.0" fill="#ffeaa0"/>
<rect x="340.5" y="283.8" width="6.0" height="2.0" fill="#fff2be"/>
<rect x="346.5" y="283.8" width="6.0" height="2.0" fill="#ffeaa0"/>
<rect x="352.5" y="283.8" width="6.0" height="2.0" fill="#ffe282"/>
<rect x="358.5" y="283.8" width="10.0" height="2.0" fill="#ffd864"/>
<rect x="368.5" y="283.8" width="16.0" height="2.0" fill="#ffcd46"/>
<rect x="384.5" y="283.8" width="50.0" height="2.0" fill="#ffc02d"/>
<rect x="434.5" y="283.8" width="40.0" height="2.0" fill="#ffb219"/>
<rect x="48.5" y="285.8" width="12.0" height="2.0" fill="#d4f3ff"/>
<rect x="60.5" y="285.8" width="6.0" height="2.0" fill="#e4f8ff"/>
<rect x="112.5" y="285.8" width="6.0" height="2.0" fill="#e4f8ff"/>
<rect x="118.5" y="285.8" width="8.0" height="2.0" fill="#d4f3ff"/>
<rect x="126.5" y="285.8" width="6.0" height="2.0" fill="#c6eefe"/>
<rect x="132.5" y="285.8" width="8.0" height="2.0" fill="#b8e7fe"/>
<rect x="140.5" y="285.8" width="10.0" height="2.0" fill="#aae0fd"/>
<rect x="150.5" y="285.8" width="4.0" height="2.0" fill="#9bd8fd"/>
<rect x="154.5" y="285.8" width="4.0" height="2.0" fill="#8ad0fc"/>
<rect x="158.5" y="285.8" width="2.0" height="2.0" fill="#76c6fb"/>
<rect x="160.5" y="285.8" width="4.0" height="2.0" fill="#5fb9fa"/>
<rect x="164.5" y="285.8" width="4.0" height="2.0" fill="#46aaf8"/>
<rect x="168.5" y="285.8" width="6.0" height="2.0" fill="#349ef5"/>
<rect x="174.5" y="285.8" width="8.0" height="2.0" fill="#2a91f2"/>
<rect x="182.5" y="285.8" width="8.0" height="2.0" fill="#2480ee"/>
<rect x="190.5" y="285.8" width="12.0" height="2.0" fill="#1e6ee6"/>
<rect x="202.5" y="285.8" width="14.0" height="2.0" fill="#1955dc"/>
<rect x="216.5" y="285.8" width="14.0" height="2.0" fill="#1648d2"/>
<rect x="230.5" y="285.8" width="8.0" height="2.0" fill="#1955dc"/>
<rect x="238.5" y="285.8" width="4.0" height="2.0" fill="#1e6ee6"/>
<rect x="242.5" y="285.8" width="6.0" height="2.0" fill="#2480ee"/>
<rect x="248.5" y="285.8" width="2.0" height="2.0" fill="#2a91f2"/>
<rect x="250.5" y="285.8" width="2.0" height="2.0" fill="#349ef5"/>
<rect x="252.5" y="285.8" width="4.0" height="2.0" fill="#46aaf8"/>
<rect x="256.5" y="285.8" width="2.0" height="2.0" fill="#5fb9fa"/>
<rect x="258.5" y="285.8" width="2.0" height="2.0" fill="#76c6fb"/>
<rect x="260.5" y="285.8" width="2.0" height="2.0" fill="#8ad0fc"/>
<rect x="262.5" y="285.8" width="2.0" height="2.0" fill="#9bd8fd"/>
<rect x="264.5" y="285.8" width="4.0" height="2.0" fill="#aae0fd"/>
<rect x="268.5" y="285.8" width="2.0" height="2.0" fill="#b8e7fe"/>
<rect x="270.5" y="285.8" width="4.0" height="2.0" fill="#c6eefe"/>
<rect x="274.5" y="285.8" width="2.0" height="2.0" fill="#d4f3ff"/>
<rect x="276.5" y="285.8" width="4.0" height="2.0" fill="#e4f8ff"/>
<rect x="290.5" y="285.8" width="6.0" height="2.0" fill="#fffadc"/>
<rect x="296.5" y="285.8" width="6.0" height="2.0" fill="#fff2be"/>
<rect x="302.5" y="285.8" width="6.0" height="2.0" fill="#ffeaa0"/>
<rect x="308.5" y="285.8" width="10.0" height="2.0" fill="#ffe282"/>
<rect x="318.5" y="285.8" width="14.0" height="2.0" fill="#ffd864"/>
<rect x="332.5" y="285.8" width="4.0" height="2.0" fill="#ffe282"/>
<rect x="336.5" y="285.8" width="6.0" height="2.0" fill="#ffeaa0"/>
<rect x="342.5" y="285.8" width="4.0" height="2.0" fill="#fff2be"/>
<rect x="346.5" y="285.8" width="6.0" height="2.0" fill="#ffeaa0"/>
<rect x="352.5" y="285.8" width="6.0" height="2.0" fill="#ffe282"/>
<rect x="358.5" y="285.8" width="8.0" height="2.0" fill="#ffd864"/>
<rect x="366.5" y="285.8" width="10.0" height="2.0" fill="#ffcd46"/>
<rect x="376.5" y="285.8" width="52.0" height="2.0" fill="#ffc02d"/>
<rect x="428.5" y="285.8" width="36.0" height="2.0" fill="#ffb219"/>
<rect x="464.5" y="285.8" width="10.0" height="2.0" fill="#ffa30a"/>
<rect x="48.5" y="287.8" width="10.0" height="2.0" fill="#d4f3ff"/>
<rect x="58.5" y="287.8" width="6.0" height="2.0" fill="#e4f8ff"/>
<rect x="112.5" y="287.8" width="6.0" height="2.0" fill="#e4f8ff"/>
<rect x="118.5" y="287.8" width="6.0" height="2.0" fill="#d4f3ff"/>
<rect x="124.5" y="287.8" width="8.0" height="2.0" fill="#c6eefe"/>
<rect x="132.5" y="287.8" width="6.0" height="2.0" fill="#b8e7fe"/>
<rect x="138.5" y="287.8" width="10.0" height="2.0" fill="#aae0fd"/>
<rect x="148.5" y="287.8" width="6.0" height="2.0" fill="#9bd8fd"/>
<rect x="154.5" y="287.8" width="2.0" height="2.0" fill="#8ad0fc"/>
<rect x="156.5" y="287.8" width="4.0" height="2.0" fill="#76c6fb"/>
<rect x="160.5" y="287.8" width="4.0" height="2.0" fill="#5fb9fa"/>
<rect x="164.5" y="287.8" width="2.0" height="2.0" fill="#46aaf8"/>
<rect x="166.5" y="287.8" width="6.0" height="2.0" fill="#349ef5"/>
<rect x="172.5" y="287.8" width="8.0" height="2.0" fill="#2a91f2"/>
<rect x="180.5" y="287.8" width="6.0" height="2.0" fill="#2480ee"/>
<rect x="186.5" y="287.8" width="10.0" height="2.0" fill="#1e6ee6"/>
<rect x="196.5" y="287.8" width="10.0" height="2.0" fill="#1955dc"/>
<rect x="206.5" y="287.8" width="30.0" height="2.0" fill="#1648d2"/>
<rect x="236.5" y="287.8" width="4.0" height="2.0" fill="#1955dc"/>
<rect x="240.5" y="287.8" width="4.0" height="2.0" fill="#1e6ee6"/>
<rect x="244.5" y="287.8" width="4.0" height="2.0" fill="#2480ee"/>
<rect x="248.5" y="287.8" width="2.0" height="2.0" fill="#2a91f2"/>
<rect x="250.5" y="287.8" width="4.0" height="2.0" fill="#349ef5"/>
<rect x="254.5" y="287.8" width="2.0" height="2.0" fill="#46aaf8"/>
<rect x="256.5" y="287.8" width="2.0" height="2.0" fill="#5fb9fa"/>
<rect x="258.5" y="287.8" width="2.0" height="2.0" fill="#76c6fb"/>
<rect x="260.5" y="287.8" width="4.0" height="2.0" fill="#8ad0fc"/>
<rect x="264.5" y="287.8" width="2.0" height="2.0" fill="#9bd8fd"/>
<rect x="266.5" y="287.8" width="2.0" height="2.0" fill="#aae0fd"/>
<rect x="268.5" y="287.8" width="4.0" height="2.0" fill="#b8e7fe"/>
<rect x="272.5" y="287.8" width="2.0" height="2.0" fill="#c6eefe"/>
<rect x="274.5" y="287.8" width="4.0" height="2.0" fill="#d4f3ff"/>
<rect x="278.5" y="287.8" width="2.0" height="2.0" fill="#e4f8ff"/>
<rect x="292.5" y="287.8" width="6.0" height="2.0" fill="#fffadc"/>
<rect x="298.5" y="287.8" width="6.0" height="2.0" fill="#fff2be"/>
<rect x="304.5" y="287.8" width="6.0" height="2.0" fill="#ffeaa0"/>
<rect x="310.5" y="287.8" width="10.0" height="2.0" fill="#ffe282"/>
<rect x="320.5" y="287.8" width="12.0" height="2.0" fill="#ffd864"/>
<rect x="332.5" y="287.8" width="6.0" height="2.0" fill="#ffe282"/>
<rect x="338.5" y="287.8" width="12.0" height="2.0" fill="#ffeaa0"/>
<rect x="350.5" y="287.8" width="6.0" height="2.0" fill="#ffe282"/>
<rect x="356.5" y="287.8" width="8.0" height="2.0" fill="#ffd864"/>
<rect x="364.5" y="287.8" width="10.0" height="2.0" fill="#ffcd46"/>
<rect x="374.5" y="287.8" width="18.0" height="2.0" fill="#ffc02d"/>
<rect x="392.5" y="287.8" width="2.0" height="2.0" fill="#ffb219"/>
<rect x="394.5" y="287.8" width="26.0" height="2.0" fill="#ffc02d"/>
<rect x="420.5" y="287.8" width="30.0" height="2.0" fill="#ffb219"/>
<rect x="450.5" y="287.8" width="24.0" height="2.0" fill="#ffa30a"/>
<rect x="48.5" y="289.8" width="4.0" height="2.0" fill="#d4f3ff"/>
<rect x="52.5" y="289.8" width="10.0" height="2.0" fill="#e4f8ff"/>
<rect x="112.5" y="289.8" width="6.0" height="2.0" fill="#e4f8ff"/>
<rect x="118.5" y="289.8" width="6.0" height="2.0" fill="#d4f3ff"/>
<rect x="124.5" y="289.8" width="6.0" height="2.0" fill="#c6eefe"/>
<rect x="130.5" y="289.8" width="8.0" height="2.0" fill="#b8e7fe"/>
<rect x="138.5" y="289.8" width="10.0" height="2.0" fill="#aae0fd"/>
<rect x="148.5" y="289.8" width="6.0" height="2.0" fill="#9bd8fd"/>
<rect x="154.5" y="289.8" width="2.0" height="2.0" fill="#8ad0fc"/>
<rect x="156.5" y="289.8" width="4.0" height="2.0" fill="#76c6fb"/>
<rect x="160.5" y="289.8" width="2.0" height="2.0" fill="#5fb9fa"/>
<rect x="162.5" y="289.8" width="4.0" height="2.0" fill="#46aaf8"/>
<rect x="166.5" y="289.8" width="6.0" height="2.0" fill="#349ef5"/>
<rect x="172.5" y="289.8" width="6.0" height="2.0" fill="#2a91f2"/>
<rect x="178.5" y="289.8" width="6.0" height="2.0" fill="#2480ee"/>
<rect x="184.5" y="289.8" width="8.0" height="2.0" fill="#1e6ee6"/>
<rect x="192.5" y="289.8" width="6.0" height="2.0" fill="#1955dc"/>
<rect x="198.5" y="289.8" width="12.0" height="2.0" fill="#1648d2"/>
<rect x="210.5" y="289.8" width="24.0" height="2.0" fill="#143cc3"/>
<rect x="234.5" y="289.8" width="4.0" height="2.0" fill="#1648d2"/>
<rect x="238.5" y="289.8" width="4.0" height="2.0" fill="#1955dc"/>
<rect x="242.5" y="289.8" width="4.0" height="2.0" fill="#1e6ee6"/>
<rect x="246.5" y="289.8" width="2.0" height="2.0" fill="#2480ee"/>
<rect x="248.5" y="289.8" width="4.0" height="2.0" fill="#2a91f2"/>
<rect x="252.5" y="289.8" width="2.0" height="2.0" fill="#349ef5"/>
<rect x="254.5" y="289.8" width="2.0" height="2.0" fill="#46aaf8"/>
<rect x="256.5" y="289.8" width="4.0" height="2.0" fill="#5fb9fa"/>
<rect x="260.5" y="289.8" width="2.0" height="2.0" fill="#76c6fb"/>
<rect x="262.5" y="289.8" width="2.0" height="2.0" fill="#8ad0fc"/>
<rect x="264.5" y="289.8" width="4.0" height="2.0" fill="#9bd8fd"/>
<rect x="268.5" y="289.8" width="2.0" height="2.0" fill="#aae0fd"/>
<rect x="270.5" y="289.8" width="2.0" height="2.0" fill="#b8e7fe"/>
<rect x="272.5" y="289.8" width="4.0" height="2.0" fill="#c6eefe"/>
<rect x="276.5" y="289.8" width="2.0" height="2.0" fill="#d4f3ff"/>
<rect x="278.5" y="289.8" width="4.0" height="2.0" fill="#e4f8ff"/>
<rect x="292.5" y="289.8" width="6.0" height="2.0" fill="#fffadc"/>
<rect x="298.5" y="289.8" width="8.0" height="2.0" fill="#fff2be"/>
<rect x="306.5" y="289.8" width="6.0" height="2.0" fill="#ffeaa0"/>
<rect x="312.5" y="289.8" width="10.0" height="2.0" fill="#ffe282"/>
<rect x="322.5" y="289.8" width="10.0" height="2.0" fill="#ffd864"/>
<rect x="332.5" y="289.8" width="6.0" height="2.0" fill="#ffe282"/>
<rect x="338.5" y="289.8" width="10.0" height="2.0" fill="#ffeaa0"/>
<rect x="348.5" y="289.8" width="6.0" height="2.0" fill="#ffe282"/>
<rect x="354.5" y="289.8" width="8.0" height="2.0" fill="#ffd864"/>
<rect x="362.5" y="289.8" width="8.0" height="2.0" fill="#ffcd46"/>
<rect x="370.5" y="289.8" width="14.0" height="2.0" fill="#ffc02d"/>
<rect x="384.5" y="289.8" width="58.0" height="2.0" fill="#ffb219"/>
<rect x="442.5" y="289.8" width="24.0" height="2.0" fill="#ffa30a"/>
<rect x="466.5" y="289.8" width="8.0" height="2.0" fill="#ff9400"/>
<rect x="48.5" y="291.8" width="12.0" height="2.0" fill="#e4f8ff"/>
<rect x="84.5" y="291.8" width="6.0" height="2.0" fill="#fffadc"/>
<rect x="112.5" y="291.8" width="6.0" height="2.0" fill="#e4f8ff"/>
<rect x="118.5" y="291.8" width="6.0" height="2.0" fill="#d4f3ff"/>
<rect x="124.5" y="291.8" width="6.0" height="2.0" fill="#c6eefe"/>
<rect x="130.5" y="291.8" width="8.0" height="2.0" fill="#b8e7fe"/>
<rect x="138.5" y="291.8" width="8.0" height="2.0" fill="#aae0fd"/>
<rect x="146.5" y="291.8" width="6.0" height="2.0" fill="#9bd8fd"/>
<rect x="152.5" y="291.8" width="4.0" height="2.0" fill="#8ad0fc"/>
<rect x="156.5" y="291.8" width="4.0" height="2.0" fill="#76c6fb"/>
<rect x="160.5" y="291.8" width="2.0" height="2.0" fill="#5fb9fa"/>
<rect x="162.5" y="291.8" width="4.0" height="2.0" fill="#46aaf8"/>
<rect x="166.5" y="291.8" width="4.0" height="2.0" fill="#349ef5"/>
<rect x="170.5" y="291.8" width="6.0" height="2.0" fill="#2a91f2"/>
<rect x="176.5" y="291.8" width="6.0" height="2.0" fill="#2480ee"/>
<rect x="182.5" y="291.8" width="6.0" height="2.0" fill="#1e6ee6"/>
<rect x="188.5" y="291.8" width="6.0" height="2.0" fill="#1955dc"/>
<rect x="194.5" y="291.8" width="8.0" height="2.0" fill="#1648d2"/>
<rect x="202.5" y="291.8" width="10.0" height="2.0" fill="#143cc3"/>
<rect x="212.5" y="291.8" width="20.0" height="2.0" fill="#1432b4"/>
<rect x="232.5" y="291.8" width="4.0" height="2.0" fill="#143cc3"/>
<rect x="236.5" y="291.8" width="4.0" height="2.0" fill="#1648d2"/>
<rect x="240.5" y="291.8" width="2.0" height="2.0" fill="#1955dc"/>
<rect x="242.5" y="291.8" width="4.0" height="2.0" fill="#1e6ee6"/>
<rect x="246.5" y="291.8" width="2.0" height="2.0" fill="#2480ee"/>
<rect x="248.5" y="291.8" width="4.0" height="2.0" fill="#2a91f2"/>
<rect x="252.5" y="291.8" width="2.0" height="2.0" fill="#349ef5"/>
<rect x="254.5" y="291.8" width="4.0" height="2.0" fill="#46aaf8"/>
<rect x="258.5" y="291.8" width="2.0" height="2.0" fill="#5fb9fa"/>
<rect x="260.5" y="291.8" width="2.0" height="2.0" fill="#76c6fb"/>
<rect x="262.5" y="291.8" width="4.0" height="2.0" fill="#8ad0fc"/>
<rect x="266.5" y="291.8" width="2.0" height="2.0" fill="#9bd8fd"/>
<rect x="268.5" y="291.8" width="4.0" height="2.0" fill="#aae0fd"/>
<rect x="272.5" y="291.8" width="2.0" height="2.0" fill="#b8e7fe"/>
<rect x="274.5" y="291.8" width="4.0" height="2.0" fill="#c6eefe"/>
<rect x="278.5" y="291.8" width="2.0" height="2.0" fill="#d4f3ff"/>
<rect x="280.5" y="291.8" width="4.0" height="2.0" fill="#e4f8ff"/>
<rect x="294.5" y="291.8" width="6.0" height="2.0" fill="#fffadc"/>
<rect x="300.5" y="291.8" width="6.0" height="2.0" fill="#fff2be"/>
<rect x="306.5" y="291.8" width="8.0" height="2.0" fill="#ffeaa0"/>
<rect x="314.5" y="291.8" width="10.0" height="2.0" fill="#ffe282"/>
<rect x="324.5" y="291.8" width="8.0" height="2.0" fill="#ffd864"/>
<rect x="332.5" y="291.8" width="8.0" height="2.0" fill="#ffe282"/>
<rect x="340.5" y="291.8" width="6.0" height="2.0" fill="#ffeaa0"/>
<rect x="346.5" y="291.8" width="6.0" height="2.0" fill="#ffe282"/>
<rect x="352.5" y="291.8" width="8.0" height="2.0" fill="#ffd864"/>
<rect x="360.5" y="291.8" width="8.0" height="2.0" fill="#ffcd46"/>
<rect x="368.5" y="291.8" width="10.0" height="2.0" fill="#ffc02d"/>
<rect x="378.5" y="291.8" width="58.0" height="2.0" fill="#ffb219"/>
<rect x="436.5" y="291.8" width="20.0" height="2.0" fill="#ffa30a"/>
<rect x="456.5" y="291.8" width="18.0" height="2.0" fill="#ff9400"/>
<rect x="48.5" y="293.8" width="8.0" height="2.0" fill="#e4f8ff"/>
<rect x="80.5" y="293.8" width="16.0" height="2.0" fill="#fffadc"/>
<rect x="112.5" y="293.8" width="6.0" height="2.0" fill="#e4f8ff"/>
<rect x="118.5" y="293.8" width="6.0" height="2.0" fill="#d4f3ff"/>
<rect x="124.5" y="293.8" width="6.0" height="2.0" fill="#c6eefe"/>
<rect x="130.5" y="293.8" width="8.0" height="2.0" fill="#b8e7fe"/>
<rect x="138.5" y="293.8" width="8.0" height="2.0" fill="#aae0fd"/>
<rect x="146.5" y="293.8" width="6.0" height="2.0" fill="#9bd8fd"/>
<rect x="152.5" y="293.8" width="4.0" height="2.0" fill="#8ad0fc"/>
<rect x="156.5" y="293.8" width="2.0" height="2.0" fill="#76c6fb"/>
<rect x="158.5" y="293.8" width="4.0" height="2.0" fill="#5fb9fa"/>
<rect x="162.5" y="293.8" width="4.0" height="2.0" fill="#46aaf8"/>
<rect x="166.5" y="293.8" width="4.0" height="2.0" fill="#349ef5"/>
<rect x="170.5" y="293.8" width="6.0" height="2.0" fill="#2a91f2"/>
<rect x="176.5" y="293.8" width="6.0" height="2.0" fill="#2480ee"/>
<rect x="182.5" y="293.8" width="4.0" height="2.0" fill="#1e6ee6"/>
<rect x="186.5" y="293.8" width="6.0" height="2.0" fill="#1955dc"/>
<rect x="192.5" y="293.8" width="6.0" height="2.0" fill="#1648d2"/>
<rect x="198.5" y="293.8" width="8.0" height="2.0" fill="#143cc3"/>
<rect x="206.5" y="293.8" width="10.0" height="2.0" fill="#1432b4"/>
<rect x="216.5" y="293.8" width="14.0" height="2.0" fill="#1228a0"/>
<rect x="230.5" y="293.8" width="4.0" height="2.0" fill="#1432b4"/>
<rect x="234.5" y="293.8" width="4.0" height="2.0" fill="#143cc3"/>
<rect x="238.5" y="293.8" width="2.0" height="2.0" fill="#1648d2"/>
<rect x="240.5" y="293.8" width="4.0" height="2.0" fill="#1955dc"/>
<rect x="244.5" y="293.8" width="2.0" height="2.0" fill="#1e6ee6"/>
<rect x="246.5" y="293.8" width="4.0" height="2.0" fill="#2480ee"/>
<rect x="250.5" y="293.8" width="2.0" height="2.0" fill="#2a91f2"/>
<rect x="252.5" y="293.8" width="4.0" height="2.0" fill="#349ef5"/>
<rect x="256.5" y="293.8" width="2.0" height="2.0" fill="#46aaf8"/>
<rect x="258.5" y="293.8" width="2.0" height="2.0" fill="#5fb9fa"/>
<rect x="260.5" y="293.8" width="4.0" height="2.0" fill="#76c6fb"/>
<rect x="264.5" y="293.8" width="2.0" height="2.0" fill="#8ad0fc"/>
<rect x="266.5" y="293.8" width="4.0" height="2.0" fill="#9bd8fd"/>
<rect x="270.5" y="293.8" width="2.0" height="2.0" fill="#aae0fd"/>
<rect x="272.5" y="293.8" width="4.0" height="2.0" fill="#b8e7fe"/>
<rect x="276.5" y="293.8" width="2.0" height="2.0" fill="#c6eefe"/>
<rect x="278.5" y="293.8" width="4.0" height="2.0" fill="#d4f3ff"/>
<rect x="282.5" y="293.8" width="4.0" height="2.0" fill="#e4f8ff"/>
<rect x="294.5" y="293.8" width="6.0" height="2.0" fill="#fffadc"/>
<rect x="300.5" y="293.8" width="8.0" height="2.0" fill="#fff2be"/>
<rect x="308.5" y="293.8" width="8.0" height="2.0" fill="#ffeaa0"/>
<rect x="316.5" y="293.8" width="10.0" height="2.0" fill="#ffe282"/>
<rect x="326.5" y="293.8" width="6.0" height="2.0" fill="#ffd864"/>
<rect x="332.5" y="293.8" width="18.0" height="2.0" fill="#ffe282"/>
<rect x="350.5" y="293.8" width="8.0" height="2.0" fill="#ffd864"/>
<rect x="358.5" y="293.8" width="8.0" height="2.0" fill="#ffcd46"/>
<rect x="366.5" y="293.8" width="8.0" height="2.0" fill="#ffc02d"/>
<rect x="374.5" y="293.8" width="12.0" height="2.0" fill="#ffb219"/>
<rect x="386.5" y="293.8" width="12.0" height="2.0" fill="#ffa30a"/>
<rect x="398.5" y="293.8" width="30.0" height="2.0" fill="#ffb219"/>
<rect x="428.5" y="293.8" width="22.0" height="2.0" fill="#ffa30a"/>
<rect x="450.5" y="293.8" width="18.0" height="2.0" fill="#ff9400"/>
<rect x="468.5" y="293.8" width="6.0" height="2.0" fill="#ff8200"/>
<rect x="76.5" y="295.8" width="24.0" height="2.0" fill="#fffadc"/>
<rect x="112.5" y="295.8" width="6.0" height="2.0" fill="#e4f8ff"/>
<rect x="118.5" y="295.8" width="6.0" height="2.0" fill="#d4f3ff"/>
<rect x="124.5" y="295.8" width="6.0" height="2.0" fill="#c6eefe"/>
<rect x="130.5" y="295.8" width="6.0" height="2.0" fill="#b8e7fe"/>
<rect x="136.5" y="295.8" width="8.0" height="2.0" fill="#aae0fd"/>
<rect x="144.5" y="295.8" width="8.0" height="2.0" fill="#9bd8fd"/>
<rect x="152.5" y="295.8" width="4.0" height="2.0" fill="#8ad0fc"/>
<rect x="156.5" y="295.8" width="2.0" height="2.0" fill="#76c6fb"/>
<rect x="158.5" y="295.8" width="4.0" height="2.0" fill="#5fb9fa"/>
<rect x="162.5" y="295.8" width="2.0" height="2.0" fill="#46aaf8"/>
<rect x="164.5" y="295.8" width="4.0" height="2.0" fill="#349ef5"/>
<rect x="168.5" y="295.8" width="6.0" height="2.0" fill="#2a91f2"/>
<rect x="174.5" y="295.8" width="6.0" height="2.0" fill="#2480ee"/>
<rect x="180.5" y="295.8" width="6.0" height="2.0" fill="#1e6ee6"/>
<rect x="186.5" y="295.8" width="4.0" height="2.0" fill="#1955dc"/>
<rect x="190.5" y="295.8" width="4.0" height="2.0" fill="#1648d2"/>
<rect x="194.5" y="295.8" width="6.0" height="2.0" fill="#143cc3"/>
<rect x="200.5" y="295.8" width="8.0" height="2.0" fill="#1432b4"/>
<rect x="208.5" y="295.8" width="26.0" height="2.0" fill="#1228a0"/>
<rect x="234.5" y="295.8" width="2.0" height="2.0" fill="#1432b4"/>
<rect x="236.5" y="295.8" width="2.0" height="2.0" fill="#143cc3"/>
<rect x="238.5" y="295.8" width="4.0" height="2.0" fill="#1648d2"/>
<rect x="242.5" y="295.8" width="2.0" height="2.0" fill="#1955dc"/>
<rect x="244.5" y="295.8" width="2.0" height="2.0" fill="#1e6ee6"/>
<rect x="246.5" y="295.8" width="4.0" height="2.0" fill="#2480ee"/>
<rect x="250.5" y="295.8" width="2.0" height="2.0" fill="#2a91f2"/>
<rect x="252.5" y="295.8" width="4.0" height="2.0" fill="#349ef5"/>
<rect x="256.5" y="295.8" width="2.0" height="2.0" fill="#46aaf8"/>
<rect x="258.5" y="295.8" width="4.0" height="2.0" fill="#5fb9fa"/>
<rect x="262.5" y="295.8" width="2.0" height="2.0" fill="#76c6fb"/>
<rect x="264.5" y="295.8" width="4.0" height="2.0" fill="#8ad0fc"/>
<rect x="268.5" y="295.8" width="2.0" height="2.0" fill="#9bd8fd"/>
<rect x="270.5" y="295.8" width="4.0" height="2.0" fill="#aae0fd"/>
<rect x="274.5" y="295.8" width="4.0" height="2.0" fill="#b8e7fe"/>
<rect x="278.5" y="295.8" width="2.0" height="2.0" fill="#c6eefe"/>
<rect x="280.5" y="295.8" width="4.0" height="2.0" fill="#d4f3ff"/>
<rect x="284.5" y="295.8" width="4.0" height="2.0" fill="#e4f8ff"/>
<rect x="296.5" y="295.8" width="6.0" height="2.0" fill="#fffadc"/>
<rect x="302.5" y="295.8" width="10.0" height="2.0" fill="#fff2be"/>
<rect x="312.5" y="295.8" width="6.0" height="2.0" fill="#ffeaa0"/>
<rect x="318.5" y="295.8" width="8.0" height="2.0" fill="#ffe282"/>
<rect x="326.5" y="295.8" width="6.0" height="2.0" fill="#ffd864"/>
<rect x="332.5" y="295.8" width="16.0" height="2.0" fill="#ffe282"/>
<rect x="348.5" y="295.8" width="6.0" height="2.0" fill="#ffd864"/>
<rect x="354.5" y="295.8" width="8.0" height="2.0" fill="#ffcd46"/>
<rect x="362.5" y="295.8" width="10.0" height="2.0" fill="#ffc02d"/>
<rect x="372.5" y="295.8" width="10.0" height="2.0" fill="#ffb219"/>
<rect x="382.5" y="295.8" width="20.0" height="2.0" fill="#ffa30a"/>
<rect x="402.5" y="295.8" width="18.0" height="2.0" fill="#ffb219"/>
<rect x="420.5" y="295.8" width="24.0" height="2.0" fill="#ffa30a"/>
<rect x="444.5" y="295.8" width="14.0" height="2.0" fill="#ff9400"/>
<rect x="458.5" y="295.8" width="16.0" height="2.0" fill="#ff8200"/>
<rect x="72.5" y="297.8" width="30.0" height="2.0" fill="#fffadc"/>
<rect x="112.5" y="297.8" width="6.0" height="2.0" fill="#e4f8ff"/>
<rect x="118.5" y="297.8" width="6.0" height="2.0" fill="#d4f3ff"/>
<rect x="124.5" y="297.8" width="6.0" height="2.0" fill="#c6eefe"/>
<rect x="130.5" y="297.8" width="6.0" height="2.0" fill="#b8e7fe"/>
<rect x="136.5" y="297.8" width="8.0" height="2.0" fill="#aae0fd"/>
<rect x="144.5" y="297.8" width="8.0" height="2.0" fill="#9bd8fd"/>
<rect x="152.5" y="297.8" width="2.0" height="2.0" fill="#8ad0fc"/>
<rect x="154.5" y="297.8" width="4.0" height="2.0" fill="#76c6fb"/>
<rect x="158.5" y="297.8" width="4.0" height="2.0" fill="#5fb9fa"/>
<rect x="162.5" y="297.8" width="2.0" height="2.0" fill="#46aaf8"/>
<rect x="164.5" y="297.8" width="4.0" height="2.0" fill="#349ef5"/>
<rect x="168.5" y="297.8" width="6.0" height="2.0" fill="#2a91f2"/>
<rect x="174.5" y="297.8" width="4.0" height="2.0" fill="#2480ee"/>
<rect x="178.5" y="297.8" width="6.0" height="2.0" fill="#1e6ee6"/>
<rect x="184.5" y="297.8" width="4.0" height="2.0" fill="#1955dc"/>
<rect x="188.5" y="297.8" width="4.0" height="2.0" fill="#1648d2"/>
<rect x="192.5" y="297.8" width="6.0" height="2.0" fill="#143cc3"/>
<rect x="198.5" y="297.8" width="6.0" height="2.0" fill="#1432b4"/>
<rect x="204.5" y="297.8" width="8.0" height="2.0" fill="#1228a0"/>
<rect x="212.5" y="297.8" width="20.0" height="2.0" fill="#0f1e82"/>
<rect x="232.5" y="297.8" width="2.0" height="2.0" fill="#1228a0"/>
<rect x="234.5" y="297.8" width="4.0" height="2.0" fill="#1432b4"/>
<rect x="238.5" y="297.8" width="2.0" height="2.0" fill="#143cc3"/>
<rect x="240.5" y="297.8" width="2.0" height="2.0" fill="#1648d2"/>
<rect x="242.5" y="297.8" width="2.0" height="2.0" fill="#1955dc"/>
<rect x="244.5" y="297.8" width="4.0" height="2.0" fill="#1e6ee6"/>
<rect x="248.5" y="297.8" width="2.0" height="2.0" fill="#2480ee"/>
<rect x="250.5" y="297.8" width="4.0" height="2.0" fill="#2a91f2"/>
<rect x="254.5" y="297.8" width="2.0" height="2.0" fill="#349ef5"/>
<rect x="256.5" y="297.8" width="4.0" height="2.0" fill="#46aaf8"/>
<rect x="260.5" y="297.8" width="2.0" height="2.0" fill="#5fb9fa"/>
<rect x="262.5" y="297.8" width="4.0" height="2.0" fill="#76c6fb"/>
<rect x="266.5" y="297.8" width="2.0" height="2.0" fill="#8ad0fc"/>
<rect x="268.5" y="297.8" width="4.0" height="2.0" fill="#9bd8fd"/>
<rect x="272.5" y="297.8" width="4.0" height="2.0" fill="#aae0fd"/>
<rect x="276.5" y="297.8" width="2.0" height="2.0" fill="#b8e7fe"/>
<rect x="278.5" y="297.8" width="4.0" height="2.0" fill="#c6eefe"/>
<rect x="282.5" y="297.8" width="4.0" height="2.0" fill="#d4f3ff"/>
<rect x="286.5" y="297.8" width="2.0" height="2.0" fill="#e4f8ff"/>
<rect x="296.5" y="297.8" width="8.0" height="2.0" fill="#fffadc"/>
<rect x="304.5" y="297.8" width="10.0" height="2.0" fill="#fff2be"/>
<rect x="314.5" y="297.8" width="6.0" height="2.0" fill="#ffeaa0"/>
<rect x="320.5" y="297.8" width="8.0" height="2.0" fill="#ffe282"/>
<rect x="328.5" y="297.8" width="10.0" height="2.0" fill="#ffd864"/>
<rect x="338.5" y="297.8" width="4.0" height="2.0" fill="#ffe282"/>
<rect x="342.5" y="297.8" width="10.0" height="2.0" fill="#ffd864"/>
<rect x="352.5" y="297.8" width="8.0" height="2.0" fill="#ffcd46"/>
<rect x="360.5" y="297.8" width="8.0" height="2.0" fill="#ffc02d"/>
<rect x="368.5" y="297.8" width="8.0" height="2.0" fill="#ffb219"/>
<rect x="376.5" y="297.8" width="12.0" height="2.0" fill="#ffa30a"/>
<rect x="388.5" y="297.8" width="8.0" height="2.0" fill="#ff9400"/>
<rect x="396.5" y="297.8" width="44.0" height="2.0" fill="#ffa30a"/>
<rect x="440.5" y="297.8" width="12.0" height="2.0" fill="#ff9400"/>
<rect x="452.5" y="297.8" width="16.0" height="2.0" fill="#ff8200"/>
<rect x="468.5" y="297.8" width="6.0" height="2.0" fill="#ff7000"/>
<rect x="70.5" y="299.8" width="16.0" height="2.0" fill="#fffadc"/>
<rect x="86.5" y="299.8" width="2.0" height="2.0" fill="#fff2be"/>
<rect x="88.5" y="299.8" width="16.0" height="2.0" fill="#fffadc"/>
<rect x="114.5" y="299.8" width="4.0" height="2.0" fill="#e4f8ff"/>
<rect x="118.5" y="299.8" width="6.0" height="2.0" fill="#d4f3ff"/>
<rect x="124.5" y="299.8" width="6.0" height="2.0" fill="#c6eefe"/>
<rect x="130.5" y="299.8" width="6.0" height="2.0" fill="#b8e7fe"/>
<rect x="136.5" y="299.8" width="8.0" height="2.0" fill="#aae0fd"/>
<rect x="144.5" y="299.8" width="6.0" height="2.0" fill="#9bd8fd"/>
<rect x="150.5" y="299.8" width="4.0" height="2.0" fill="#8ad0fc"/>
<rect x="154.5" y="299.8" width="4.0" height="2.0" fill="#76c6fb"/>
<rect x="158.5" y="299.8" width="4.0" height="2.0" fill="#5fb9fa"/>
<rect x="162.5" y="299.8" width="2.0" height="2.0" fill="#46aaf8"/>
<rect x="164.5" y="299.8" width="4.0" height="2.0" fill="#349ef5"/>
<rect x="168.5" y="299.8" width="4.0" height="2.0" fill="#2a91f2"/>
<rect x="172.5" y="299.8" width="6.0" height="2.0" fill="#2480ee"/>
<rect x="178.5" y="299.8" width="6.0" height="2.0" fill="#1e6ee6"/>
<rect x="184.5" y="299.8" width="4.0" height="2.0" fill="#1955dc"/>
<rect x="188.5" y="299.8" width="4.0" height="2.0" fill="#1648d2"/>
<rect x="192.5" y="299.8" width="4.0" height="2.0" fill="#143cc3"/>
<rect x="196.5" y="299.8" width="4.0" height="2.0" fill="#1432b4"/>
<rect x="200.5" y="299.8" width="8.0" height="2.0" fill="#1228a0"/>
<rect x="208.5" y="299.8" width="24.0" height="2.0" fill="#0f1e82"/>
<rect x="232.5" y="299.8" width="4.0" height="2.0" fill="#1228a0"/>
<rect x="236.5" y="299.8" width="2.0" height="2.0" fill="#1432b4"/>
<rect x="238.5" y="299.8" width="2.0" height="2.0" fill="#143cc3"/>
<rect x="240.5" y="299.8" width="2.0" height="2.0" fill="#1648d2"/>
<rect x="242.5" y="299.8" width="2.0" height="2.0" fill="#1955dc"/>
<rect x="244.5" y="299.8" width="2.0" height="2.0" fill="#1e6ee6"/>
<rect x="246.5" y="299.8" width="4.0" height="2.0" fill="#2480ee"/>
<rect x="250.5" y="299.8" width="2.0" height="2.0" fill="#2a91f2"/>
<rect x="252.5" y="299.8" width="4.0" height="2.0" fill="#349ef5"/>
<rect x="256.5" y="299.8" width="4.0" height="2.0" fill="#46aaf8"/>
<rect x="260.5" y="299.8" width="2.0" height="2.0" fill="#5fb9fa"/>
<rect x="262.5" y="299.8" width="4.0" height="2.0" fill="#76c6fb"/>
<rect x="266.5" y="299.8" width="4.0" height="2.0" fill="#8ad0fc"/>
<rect x="270.5" y="299.8" width="2.0" height="2.0" fill="#9bd8fd"/>
<rect x="272.5" y="299.8" width="4.0" height="2.0" fill="#aae0fd"/>
<rect x="276.5" y="299.8" width="4.0" height="2.0" fill="#b8e7fe"/>
<rect x="280.5" y="299.8" width="2.0" height="2.0" fill="#c6eefe"/>
<rect x="282.5" y="299.8" width="4.0" height="2.0" fill="#d4f3ff"/>
<rect x="286.5" y="299.8" width="4.0" height="2.0" fill="#e4f8ff"/>
<rect x="298.5" y="299.8" width="8.0" height="2.0" fill="#fffadc"/>
<rect x="306.5" y="299.8" width="8.0" height="2.0" fill="#fff2be"/>
<rect x="314.5" y="299.8" width="6.0" height="2.0" fill="#ffeaa0"/>
<rect x="320.5" y="299.8" width="6.0" height="2.0" fill="#ffe282"/>
<rect x="326.5" y="299.8" width="20.0" height="2.0" fill="#ffd864"/>
<rect x="346.5" y="299.8" width="8.0" height="2.0" fill="#ffcd46"/>
<rect x="354.5" y="299.8" width="8.0" height="2.0" fill="#ffc02d"/>
<rect x="362.5" y="299.8" width="8.0" height="2.0" fill="#ffb219"/>
<rect x="370.5" y="299.8" width="10.0" height="2.0" fill="#ffa30a"/>
<rect x="380.5" y="299.8" width="24.0" height="2.0" fill="#ff9400"/>
<rect x="404.5" y="299.8" width="16.0" height="2.0" fill="#ffa30a"/>
<rect x="420.5" y="299.8" width="24.0" height="2.0" fill="#ff9400"/>
<rect x="444.5" y="299.8" width="14.0" height="2.0" fill="#ff8200"/>
<rect x="458.5" y="299.8" width="16.0" height="2.0" fill="#ff7000"/>
<rect x="68.5" y="301.8" width="14.0" height="2.0" fill="#fffadc"/>
<rect x="82.5" y="301.8" width="12.0" height="2.0" fill="#fff2be"/>
<rect x="94.5" y="301.8" width="12.0" height="2.0" fill="#fffadc"/>
<rect x="114.5" y="301.8" width="6.0" height="2.0" fill="#e4f8ff"/>
<rect x="120.5" y="301.8" width="6.0" height="2.0" fill="#d4f3ff"/>
<rect x="126.5" y="301.8" width="6.0" height="2.0" fill="#c6eefe"/>
<rect x="132.5" y="301.8" width="6.0" height="2.0" fill="#b8e7fe"/>
<rect x="138.5" y="301.8" width="6.0" height="2.0" fill="#aae0fd"/>
<rect x="144.5" y="301.8" width="6.0" height="2.0" fill="#9bd8fd"/>
<rect x="150.5" y="301.8" width="4.0" height="2.0" fill="#8ad0fc"/>
<rect x="154.5" y="301.8" width="4.0" height="2.0" fill="#76c6fb"/>
<rect x="158.5" y="301.8" width="4.0" height="2.0" fill="#5fb9fa"/>
<rect x="162.5" y="301.8" width="2.0" height="2.0" fill="#46aaf8"/>
<rect x="164.5" y="301.8" width="4.0" height="2.0" fill="#349ef5"/>
<rect x="168.5" y="301.8" width="4.0" height="2.0" fill="#2a91f2"/>
<rect x="172.5" y="301.8" width="6.0" height="2.0" fill="#2480ee"/>
<rect x="178.5" y="301.8" width="4.0" height="2.0" fill="#1e6ee6"/>
<rect x="182.5" y="301.8" width="4.0" height="2.0" fill="#1955dc"/>
<rect x="186.5" y="301.8" width="4.0" height="2.0" fill="#1648d2"/>
<rect x="190.5" y="301.8" width="4.0" height="2.0" fill="#143cc3"/>
<rect x="194.5" y="301.8" width="6.0" height="2.0" fill="#1432b4"/>
<rect x="200.5" y="301.8" width="6.0" height="2.0" fill="#1228a0"/>
<rect x="206.5" y="301.8" width="26.0" height="2.0" fill="#0f1e82"/>
<rect x="232.5" y="301.8" width="4.0" height="2.0" fill="#1228a0"/>
<rect x="236.5" y="301.8" width="2.0" height="2.0" fill="#1432b4"/>
<rect x="238.5" y="301.8" width="2.0" height="2.0" fill="#143cc3"/>
<rect x="240.5" y="301.8" width="2.0" height="2.0" fill="#1648d2"/>
<rect x="242.5" y="301.8" width="2.0" height="2.0" fill="#1955dc"/>
<rect x="244.5" y="301.8" width="2.0" height="2.0" fill="#1e6ee6"/>
<rect x="246.5" y="301.8" width="2.0" height="2.0" fill="#2480ee"/>
<rect x="248.5" y="301.8" width="4.0" height="2.0" fill="#2a91f2"/>
<rect x="252.5" y="301.8" width="4.0" height="2.0" fill="#349ef5"/>
<rect x="256.5" y="301.8" width="2.0" height="2.0" fill="#46aaf8"/>
<rect x="258.5" y="301.8" width="4.0" height="2.0" fill="#5fb9fa"/>
<rect x="262.5" y="301.8" width="4.0" height="2.0" fill="#76c6fb"/>
<rect x="266.5" y="301.8" width="4.0" height="2.0" fill="#8ad0fc"/>
<rect x="270.5" y="301.8" width="2.0" height="2.0" fill="#9bd8fd"/>
<rect x="272.5" y="301.8" width="4.0" height="2.0" fill="#aae0fd"/>
<rect x="276.5" y="301.8" width="4.0" height="2.0" fill="#b8e7fe"/>
<rect x="280.5" y="301.8" width="4.0" height="2.0" fill="#c6eefe"/>
<rect x="284.5" y="301.8" width="2.0" height="2.0" fill="#d4f3ff"/>
<rect x="286.5" y="301.8" width="4.0" height="2.0" fill="#e4f8ff"/>
<rect x="300.5" y="301.8" width="8.0" height="2.0" fill="#fffadc"/>
<rect x="308.5" y="301.8" width="6.0" height="2.0" fill="#fff2be"/>
<rect x="314.5" y="301.8" width="6.0" height="2.0" fill="#ffeaa0"/>
<rect x="320.5" y="301.8" width="4.0" height="2.0" fill="#ffe282"/>
<rect x="324.5" y="301.8" width="10.0" height="2.0" fill="#ffd864"/>
<rect x="334.5" y="301.8" width="12.0" height="2.0" fill="#ffcd46"/>
<rect x="346.5" y="301.8" width="8.0" height="2.0" fill="#ffc02d"/>
<rect x="354.5" y="301.8" width="8.0" height="2.0" fill="#ffb219"/>
<rect x="362.5" y="301.8" width="8.0" height="2.0" fill="#ffa30a"/>
<rect x="370.5" y="301.8" width="12.0" height="2.0" fill="#ff9400"/>
<rect x="382.5" y="301.8" width="20.0" height="2.0" fill="#ff8200"/>
<rect x="402.5" y="301.8" width="20.0" height="2.0" fill="#ff9400"/>
<rect x="422.5" y="301.8" width="26.0" height="2.0" fill="#ff8200"/>
<rect x="448.5" y="301.8" width="16.0" height="2.0" fill="#ff7000"/>
<rect x="464.5" y="301.8" width="10.0" height="2.0" fill="#fc5c00"/>
<rect x="66.5" y="303.8" width="10.0" height="2.0" fill="#fffadc"/>
<rect x="76.5" y="303.8" width="22.0" height="2.0" fill="#fff2be"/>
<rect x="98.5" y="303.8" width="8.0" height="2.0" fill="#fffadc"/>
<rect x="116.5" y="303.8" width="6.0" height="2.0" fill="#e4f8ff"/>
<rect x="122.5" y="303.8" width="6.0" height="2.0" fill="#d4f3ff"/>
<rect x="128.5" y="303.8" width="6.0" height="2.0" fill="#c6eefe"/>
<rect x="134.5" y="303.8" width="6.0" height="2.0" fill="#b8e7fe"/>
<rect x="140.5" y="303.8" width="6.0" height="2.0" fill="#aae0fd"/>
<rect x="146.5" y="303.8" width="4.0" height="2.0" fill="#9bd8fd"/>
<rect x="150.5" y="303.8" width="4.0" height="2.0" fill="#8ad0fc"/>
<rect x="154.5" y="303.8" width="4.0" height="2.0" fill="#76c6fb"/>
<rect x="158.5" y="303.8" width="4.0" height="2.0" fill="#5fb9fa"/>
<rect x="162.5" y="303.8" width="2.0" height="2.0" fill="#46aaf8"/>
<rect x="164.5" y="303.8" width="4.0" height="2.0" fill="#349ef5"/>
<rect x="168.5" y="303.8" width="4.0" height="2.0" fill="#2a91f2"/>
<rect x="172.5" y="303.8" width="6.0" height="2.0" fill="#2480ee"/>
<rect x="178.5" y="303.8" width="4.0" height="2.0" fill="#1e6ee6"/>
<rect x="182.5" y="303.8" width="4.0" height="2.0" fill="#1955dc"/>
<rect x="186.5" y="303.8" width="4.0" height="2.0" fill="#1648d2"/>
<rect x="190.5" y="303.8" width="4.0" height="2.0" fill="#143cc3"/>
<rect x="194.5" y="303.8" width="4.0" height="2.0" fill="#1432b4"/>
<rect x="198.5" y="303.8" width="8.0" height="2.0" fill="#1228a0"/>
<rect x="206.5" y="303.8" width="26.0" height="2.0" fill="#0f1e82"/>
<rect x="232.5" y="303.8" width="2.0" height="2.0" fill="#1228a0"/>
<rect x="234.5" y="303.8" width="4.0" height="2.0" fill="#1432b4"/>
<rect x="238.5" y="303.8" width="2.0" height="2.0" fill="#143cc3"/>
<rect x="240.5" y="303.8" width="2.0" height="2.0" fill="#1648d2"/>
<rect x="242.5" y="303.8" width="2.0" height="2.0" fill="#1955dc"/>
<rect x="244.5" y="303.8" width="2.0" height="2.0" fill="#1e6ee6"/>
<rect x="246.5" y="303.8" width="2.0" height="2.0" fill="#2480ee"/>
<rect x="248.5" y="303.8" width="2.0" height="2.0" fill="#2a91f2"/>
<rect x="250.5" y="303.8" width="4.0" height="2.0" fill="#349ef5"/>
<rect x="254.5" y="303.8" width="4.0" height="2.0" fill="#46aaf8"/>
<rect x="258.5" y="303.8" width="4.0" height="2.0" fill="#5fb9fa"/>
<rect x="262.5" y="303.8" width="4.0" height="2.0" fill="#76c6fb"/>
<rect x="266.5" y="303.8" width="2.0" height="2.0" fill="#8ad0fc"/>
<rect x="268.5" y="303.8" width="4.0" height="2.0" fill="#9bd8fd"/>
<rect x="272.5" y="303.8" width="4.0" height="2.0" fill="#aae0fd"/>
<rect x="276.5" y="303.8" width="4.0" height="2.0" fill="#b8e7fe"/>
<rect x="280.5" y="303.8" width="4.0" height="2.0" fill="#c6eefe"/>
<rect x="284.5" y="303.8" width="4.0" height="2.0" fill="#d4f3ff"/>
<rect x="288.5" y="303.8" width="4.0" height="2.0" fill="#e4f8ff"/>
<rect x="302.5" y="303.8" width="6.0" height="2.0" fill="#fffadc"/>
<rect x="308.5" y="303.8" width="6.0" height="2.0" fill="#fff2be"/>
<rect x="314.5" y="303.8" width="4.0" height="2.0" fill="#ffeaa0"/>
<rect x="318.5" y="303.8" width="6.0" height="2.0" fill="#ffe282"/>
<rect x="324.5" y="303.8" width="4.0" height="2.0" fill="#ffd864"/>
<rect x="328.5" y="303.8" width="10.0" height="2.0" fill="#ffcd46"/>
<rect x="338.5" y="303.8" width="8.0" height="2.0" fill="#ffc02d"/>
<rect x="346.5" y="303.8" width="8.0" height="2.0" fill="#ffb219"/>
<rect x="354.5" y="303.8" width="6.0" height="2.0" fill="#ffa30a"/>
<rect x="360.5" y="303.8" width="10.0" height="2.0" fill="#ff9400"/>
<rect x="370.5" y="303.8" width="12.0" height="2.0" fill="#ff8200"/>
<rect x="382.5" y="303.8" width="20.0" height="2.0" fill="#ff7000"/>
<rect x="402.5" y="303.8" width="20.0" height="2.0" fill="#ff8200"/>
<rect x="422.5" y="303.8" width="28.0" height="2.0" fill="#ff7000"/>
<rect x="450.5" y="303.8" width="18.0" height="2.0" fill="#fc5c00"/>
<rect x="468.5" y="303.8" width="6.0" height="2.0" fill="#f84800"/>
<rect x="66.5" y="305.8" width="6.0" height="2.0" fill="#fffadc"/>
<rect x="72.5" y="305.8" width="28.0" height="2.0" fill="#fff2be"/>
<rect x="100.5" y="305.8" width="8.0" height="2.0" fill="#fffadc"/>
<rect x="118.5" y="305.8" width="6.0" height="2.0" fill="#e4f8ff"/>
<rect x="124.5" y="305.8" width="6.0" height="2.0" fill="#d4f3ff"/>
<rect x="130.5" y="305.8" width="4.0" height="2.0" fill="#c6eefe"/>
<rect x="134.5" y="305.8" width="6.0" height="2.0" fill="#b8e7fe"/>
<rect x="140.5" y="305.8" width="6.0" height="2.0" fill="#aae0fd"/>
<rect x="146.5" y="305.8" width="6.0" height="2.0" fill="#9bd8fd"/>
<rect x="152.5" y="305.8" width="2.0" height="2.0" fill="#8ad0fc"/>
<rect x="154.5" y="305.8" width="4.0" height="2.0" fill="#76c6fb"/>
<rect x="158.5" y="305.8" width="4.0" height="2.0" fill="#5fb9fa"/>
<rect x="162.5" y="305.8" width="2.0" height="2.0" fill="#46aaf8"/>
<rect x="164.5" y="305.8" width="4.0" height="2.0" fill="#349ef5"/>
<rect x="168.5" y="305.8" width="4.0" height="2.0" fill="#2a91f2"/>
<rect x="172.5" y="305.8" width="4.0" height="2.0" fill="#2480ee"/>
<rect x="176.5" y="305.8" width="6.0" height="2.0" fill="#1e6ee6"/>
<rect x="182.5" y="305.8" width="4.0" height="2.0" fill="#1955dc"/>
<rect x="186.5" y="305.8" width="4.0" height="2.0" fill="#1648d2"/>
<rect x="190.5" y="305.8" width="4.0" height="2.0" fill="#143cc3"/>
<rect x="194.5" y="305.8" width="4.0" height="2.0" fill="#1432b4"/>
<rect x="198.5" y="305.8" width="8.0" height="2.0" fill="#1228a0"/>
<rect x="206.5" y="305.8" width="26.0" height="2.0" fill="#0f1e82"/>
<rect x="232.5" y="305.8" width="2.0" height="2.0" fill="#1228a0"/>
<rect x="234.5" y="305.8" width="2.0" height="2.0" fill="#1432b4"/>
<rect x="236.5" y="305.8" width="2.0" height="2.0" fill="#143cc3"/>
<rect x="238.5" y="305.8" width="2.0" height="2.0" fill="#1648d2"/>
<rect x="240.5" y="305.8" width="2.0" height="2.0" fill="#1955dc"/>
<rect x="242.5" y="305.8" width="2.0" height="2.0" fill="#1e6ee6"/>
<rect x="244.5" y="305.8" width="2.0" height="2.0" fill="#2480ee"/>
<rect x="246.5" y="305.8" width="4.0" height="2.0" fill="#2a91f2"/>
<rect x="250.5" y="305.8" width="4.0" height="2.0" fill="#349ef5"/>
<rect x="254.5" y="305.8" width="2.0" height="2.0" fill="#46aaf8"/>
<rect x="256.5" y="305.8" width="4.0" height="2.0" fill="#5fb9fa"/>
<rect x="260.5" y="305.8" width="4.0" height="2.0" fill="#76c6fb"/>
<rect x="264.5" y="305.8" width="4.0" height="2.0" fill="#8ad0fc"/>
<rect x="268.5" y="305.8" width="4.0" height="2.0" fill="#9bd8fd"/>
<rect x="272.5" y="305.8" width="4.0" height="2.0" fill="#aae0fd"/>
<rect x="276.5" y="305.8" width="4.0" height="2.0" fill="#b8e7fe"/>
<rect x="280.5" y="305.8" width="4.0" height="2.0" fill="#c6eefe"/>
<rect x="284.5" y="305.8" width="4.0" height="2.0" fill="#d4f3ff"/>
<rect x="288.5" y="305.8" width="4.0" height="2.0" fill="#e4f8ff"/>
<rect x="304.5" y="305.8" width="6.0" height="2.0" fill="#fffadc"/>
<rect x="310.5" y="305.8" width="4.0" height="2.0" fill="#fff2be"/>
<rect x="314.5" y="305.8" width="4.0" height="2.0" fill="#ffeaa0"/>
<rect x="318.5" y="305.8" width="4.0" height="2.0" fill="#ffe282"/>
<rect x="322.5" y="305.8" width="4.0" height="2.0" fill="#ffd864"/>
<rect x="326.5" y="305.8" width="6.0" height="2.0" fill="#ffcd46"/>
<rect x="332.5" y="305.8" width="6.0" height="2.0" fill="#ffc02d"/>
<rect x="338.5" y="305.8" width="6.0" height="2.0" fill="#ffb219"/>
<rect x="344.5" y="305.8" width="8.0" height="2.0" fill="#ffa30a"/>
<rect x="352.5" y="305.8" width="8.0" height="2.0" fill="#ff9400"/>
<rect x="360.5" y="305.8" width="10.0" height="2.0" fill="#ff8200"/>
<rect x="370.5" y="305.8" width="12.0" height="2.0" fill="#ff7000"/>
<rect x="382.5" y="305.8" width="22.0" height="2.0" fill="#fc5c00"/>
<rect x="404.5" y="305.8" width="14.0" height="2.0" fill="#ff7000"/>
<rect x="418.5" y="305.8" width="36.0" height="2.0" fill="#fc5c00"/>
<rect x="454.5" y="305.8" width="20.0" height="2.0" fill="#f84800"/>
<rect x="64.5" y="307.8" width="6.0" height="2.0" fill="#fffadc"/>
<rect x="70.5" y="307.8" width="16.0" height="2.0" fill="#fff2be"/>
<rect x="86.5" y="307.8" width="2.0" height="2.0" fill="#ffeaa0"/>
<rect x="88.5" y="307.8" width="16.0" height="2.0" fill="#fff2be"/>
<rect x="104.5" y="307.8" width="6.0" height="2.0" fill="#fffadc"/>
<rect x="120.5" y="307.8" width="6.0" height="2.0" fill="#e4f8ff"/>
<rect x="126.5" y="307.8" width="4.0" height="2.0" fill="#d4f3ff"/>
<rect x="130.5" y="307.8" width="6.0" height="2.0" fill="#c6eefe"/>
<rect x="136.5" y="307.8" width="6.0" height="2.0" fill="#b8e7fe"/>
<rect x="142.5" y="307.8" width="4.0" height="2.0" fill="#aae0fd"/>
<rect x="146.5" y="307.8" width="6.0" height="2.0" fill="#9bd8fd"/>
<rect x="152.5" y="307.8" width="2.0" height="2.0" fill="#8ad0fc"/>
<rect x="154.5" y="307.8" width="4.0" height="2.0" fill="#76c6fb"/>
<rect x="158.5" y="307.8" width="4.0" height="2.0" fill="#5fb9fa"/>
<rect x="162.5" y="307.8" width="2.0" height="2.0" fill="#46aaf8"/>
<rect x="164.5" y="307.8" width="4.0" height="2.0" fill="#349ef5"/>
<rect x="168.5" y="307.8" width="4.0" height="2.0" fill="#2a91f2"/>
<rect x="172.5" y="307.8" width="4.0" height="2.0" fill="#2480ee"/>
<rect x="176.5" y="307.8" width="6.0" height="2.0" fill="#1e6ee6"/>
<rect x="182.5" y="307.8" width="4.0" height="2.0" fill="#1955dc"/>
<rect x="186.5" y="307.8" width="4.0" height="2.0" fill="#1648d2"/>
<rect x="190.5" y="307.8" width="4.0" height="2.0" fill="#143cc3"/>
<rect x="194.5" y="307.8" width="4.0" height="2.0" fill="#1432b4"/>
<rect x="198.5" y="307.8" width="6.0" height="2.0" fill="#1228a0"/>
<rect x="204.5" y="307.8" width="28.0" height="2.0" fill="#0f1e82"/>
<rect x="232.5" y="307.8" width="2.0" height="2.0" fill="#1228a0"/>
<rect x="234.5" y="307.8" width="2.0" height="2.0" fill="#1432b4"/>
<rect x="236.5" y="307.8" width="2.0" height="2.0" fill="#143cc3"/>
<rect x="238.5" y="307.8" width="2.0" height="2.0" fill="#1648d2"/>
<rect x="240.5" y="307.8" width="2.0" height="2.0" fill="#1955dc"/>
<rect x="242.5" y="307.8" width="2.0" height="2.0" fill="#1e6ee6"/>
<rect x="244.5" y="307.8" width="2.0" height="2.0" fill="#2480ee"/>
<rect x="246.5" y="307.8" width="2.0" height="2.0" fill="#2a91f2"/>
<rect x="248.5" y="307.8" width="4.0" height="2.0" fill="#349ef5"/>
<rect x="252.5" y="307.8" width="4.0" height="2.0" fill="#46aaf8"/>
<rect x="256.5" y="307.8" width="4.0" height="2.0" fill="#5fb9fa"/>
<rect x="260.5" y="307.8" width="4.0" height="2.0" fill="#76c6fb"/>
<rect x="264.5" y="307.8" width="4.0" height="2.0" fill="#8ad0fc"/>
<rect x="268.5" y="307.8" width="4.0" height="2.0" fill="#9bd8fd"/>
<rect x="272.5" y="307.8" width="4.0" height="2.0" fill="#aae0fd"/>
<rect x="276.5" y="307.8" width="4.0" height="2.0" fill="#b8e7fe"/>
<rect x="280.5" y="307.8" width="6.0" height="2.0" fill="#c6eefe"/>
<rect x="286.5" y="307.8" width="4.0" height="2.0" fill="#d4f3ff"/>
<rect x="290.5" y="307.8" width="4.0" height="2.0" fill="#e4f8ff"/>
<rect x="304.5" y="307.8" width="6.0" height="2.0" fill="#fffadc"/>
<rect x="310.5" y="307.8" width="4.0" height="2.0" fill="#fff2be"/>
<rect x="314.5" y="307.8" width="4.0" height="2.0" fill="#ffeaa0"/>
<rect x="318.5" y="307.8" width="4.0" height="2.0" fill="#ffe282"/>
<rect x="322.5" y="307.8" width="4.0" height="2.0" fill="#ffd864"/>
<rect x="326.5" y="307.8" width="4.0" height="2.0" fill="#ffcd46"/>
<rect x="330.5" y="307.8" width="4.0" height="2.0" fill="#ffc02d"/>
<rect x="334.5" y="307.8" width="4.0" height="2.0" fill="#ffb219"/>
<rect x="338.5" y="307.8" width="6.0" height="2.0" fill="#ffa30a"/>
<rect x="344.5" y="307.8" width="6.0" height="2.0" fill="#ff9400"/>
<rect x="350.5" y="307.8" width="8.0" height="2.0" fill="#ff8200"/>
<rect x="358.5" y="307.8" width="10.0" height="2.0" fill="#ff7000"/>
<rect x="368.5" y="307.8" width="12.0" height="2.0" fill="#fc5c00"/>
<rect x="380.5" y="307.8" width="28.0" height="2.0" fill="#f84800"/>
<rect x="408.5" y="307.8" width="2.0" height="2.0" fill="#fc5c00"/>
<rect x="410.5" y="307.8" width="50.0" height="2.0" fill="#f84800"/>
<rect x="460.5" y="307.8" width="14.0" height="2.0" fill="#f43405"/>
<rect x="48.5" y="309.8" width="4.0" height="2.0" fill="#e4f8ff"/>
<rect x="64.5" y="309.8" width="4.0" height="2.0" fill="#fffadc"/>
<rect x="68.5" y="309.8" width="12.0" height="2.0" fill="#fff2be"/>
<rect x="80.5" y="309.8" width="14.0" height="2.0" fill="#ffeaa0"/>
<rect x="94.5" y="309.8" width="12.0" height="2.0" fill="#fff2be"/>
<rect x="106.5" y="309.8" width="6.0" height="2.0" fill="#fffadc"/>
<rect x="122.5" y="309.8" width="6.0" height="2.0" fill="#e4f8ff"/>
<rect x="128.5" y="309.8" width="4.0" height="2.0" fill="#d4f3ff"/>
<rect x="132.5" y="309.8" width="6.0" height="2.0" fill="#c6eefe"/>
<rect x="138.5" y="309.8" width="4.0" height="2.0" fill="#b8e7fe"/>
<rect x="142.5" y="309.8" width="4.0" height="2.0" fill="#aae0fd"/>
<rect x="146.5" y="309.8" width="6.0" height="2.0" fill="#9bd8fd"/>
<rect x="152.5" y="309.8" width="2.0" height="2.0" fill="#8ad0fc"/>
<rect x="154.5" y="309.8" width="4.0" height="2.0" fill="#76c6fb"/>
<rect x="158.5" y="309.8" width="4.0" height="2.0" fill="#5fb9fa"/>
<rect x="162.5" y="309.8" width="2.0" height="2.0" fill="#46aaf8"/>
<rect x="164.5" y="309.8" width="4.0" height="2.0" fill="#349ef5"/>
<rect x="168.5" y="309.8" width="4.0" height="2.0" fill="#2a91f2"/>
<rect x="172.5" y="309.8" width="4.0" height="2.0" fill="#2480ee"/>
<rect x="176.5" y="309.8" width="4.0" height="2.0" fill="#1e6ee6"/>
<rect x="180.5" y="309.8" width="4.0" height="2.0" fill="#1955dc"/>
<rect x="184.5" y="309.8" width="4.0" height="2.0" fill="#1648d2"/>
<rect x="188.5" y="309.8" width="4.0" height="2.0" fill="#143cc3"/>
<rect x="192.5" y="309.8" width="4.0" height="2.0" fill="#1432b4"/>
<rect x="196.5" y="309.8" width="8.0" height="2.0" fill="#1228a0"/>
<rect x="204.5" y="309.8" width="28.0" height="2.0" fill="#0f1e82"/>
<rect x="232.5" y="309.8" width="2.0" height="2.0" fill="#1228a0"/>
<rect x="234.5" y="309.8" width="2.0" height="2.0" fill="#1432b4"/>
<rect x="236.5" y="309.8" width="2.0" height="2.0" fill="#143cc3"/>
<rect x="238.5" y="309.8" width="2.0" height="2.0" fill="#1648d2"/>
<rect x="240.5" y="309.8" width="2.0" height="2.0" fill="#1955dc"/>
<rect x="242.5" y="309.8" width="2.0" height="2.0" fill="#1e6ee6"/>
<rect x="244.5" y="309.8" width="2.0" height="2.0" fill="#2480ee"/>
<rect x="246.5" y="309.8" width="2.0" height="2.0" fill="#2a91f2"/>
<rect x="248.5" y="309.8" width="2.0" height="2.0" fill="#349ef5"/>
<rect x="250.5" y="309.8" width="4.0" height="2.0" fill="#46aaf8"/>
<rect x="254.5" y="309.8" width="4.0" height="2.0" fill="#5fb9fa"/>
<rect x="258.5" y="309.8" width="4.0" height="2.0" fill="#76c6fb"/>
<rect x="262.5" y="309.8" width="4.0" height="2.0" fill="#8ad0fc"/>
<rect x="266.5" y="309.8" width="6.0" height="2.0" fill="#9bd8fd"/>
<rect x="272.5" y="309.8" width="4.0" height="2.0" fill="#aae0fd"/>
<rect x="276.5" y="309.8" width="6.0" height="2.0" fill="#b8e7fe"/>
<rect x="282.5" y="309.8" width="4.0" height="2.0" fill="#c6eefe"/>
<rect x="286.5" y="309.8" width="4.0" height="2.0" fill="#d4f3ff"/>
<rect x="290.5" y="309.8" width="6.0" height="2.0" fill="#e4f8ff"/>
<rect x="306.5" y="309.8" width="4.0" height="2.0" fill="#fffadc"/>
<rect x="310.5" y="309.8" width="4.0" height="2.0" fill="#fff2be"/>
<rect x="314.5" y="309.8" width="4.0" height="2.0" fill="#ffeaa0"/>
<rect x="318.5" y="309.8" width="2.0" height="2.0" fill="#ffe282"/>
<rect x="320.5" y="309.8" width="4.0" height="2.0" fill="#ffd864"/>
<rect x="324.5" y="309.8" width="4.0" height="2.0" fill="#ffcd46"/>
<rect x="328.5" y="309.8" width="4.0" height="2.0" fill="#ffc02d"/>
<rect x="332.5" y="309.8" width="4.0" height="2.0" fill="#ffb219"/>
<rect x="336.5" y="309.8" width="4.0" height="2.0" fill="#ffa30a"/>
<rect x="340.5" y="309.8" width="4.0" height="2.0" fill="#ff9400"/>
<rect x="344.5" y="309.8" width="6.0" height="2.0" fill="#ff8200"/>
<rect x="350.5" y="309.8" width="6.0" height="2.0" fill="#ff7000"/>
<rect x="356.5" y="309.8" width="10.0" height="2.0" fill="#fc5c00"/>
<rect x="366.5" y="309.8" width="14.0" height="2.0" fill="#f84800"/>
<rect x="380.5" y="309.8" width="86.0" height="2.0" fill="#f43405"/>
<rect x="466.5" y="309.8" width="8.0" height="2.0" fill="#ee240a"/>
<rect x="48.5" y="311.8" width="8.0" height="2.0" fill="#e4f8ff"/>
<rect x="64.5" y="311.8" width="4.0" height="2.0" fill="#fffadc"/>
<rect x="68.5" y="311.8" width="6.0" height="2.0" fill="#fff2be"/>
<rect x="74.5" y="311.8" width="24.0" height="2.0" fill="#ffeaa0"/>
<rect x="98.5" y="311.8" width="10.0" height="2.0" fill="#fff2be"/>
<rect x="108.5" y="311.8" width="6.0" height="2.0" fill="#fffadc"/>
<rect x="124.5" y="311.8" width="4.0" height="2.0" fill="#e4f8ff"/>
<rect x="128.5" y="311.8" width="6.0" height="2.0" fill="#d4f3ff"/>
<rect x="134.5" y="311.8" width="4.0" height="2.0" fill="#c6eefe"/>
<rect x="138.5" y="311.8" width="4.0" height="2.0" fill="#b8e7fe"/>
<rect x="142.5" y="311.8" width="6.0" height="2.0" fill="#aae0fd"/>
<rect x="148.5" y="311.8" width="4.0" height="2.0" fill="#9bd8fd"/>
<rect x="152.5" y="311.8" width="2.0" height="2.0" fill="#8ad0fc"/>
<rect x="154.5" y="311.8" width="4.0" height="2.0" fill="#76c6fb"/>
<rect x="158.5" y="311.8" width="4.0" height="2.0" fill="#5fb9fa"/>
<rect x="162.5" y="311.8" width="2.0" height="2.0" fill="#46aaf8"/>
<rect x="164.5" y="311.8" width="4.0" height="2.0" fill="#349ef5"/>
<rect x="168.5" y="311.8" width="4.0" height="2.0" fill="#2a91f2"/>
<rect x="172.5" y="311.8" width="4.0" height="2.0" fill="#2480ee"/>
<rect x="176.5" y="311.8" width="4.0" height="2.0" fill="#1e6ee6"/>
<rect x="180.5" y="311.8" width="4.0" height="2.0" fill="#1955dc"/>
<rect x="184.5" y="311.8" width="4.0" height="2.0" fill="#1648d2"/>
<rect x="188.5" y="311.8" width="4.0" height="2.0" fill="#143cc3"/>
<rect x="192.5" y="311.8" width="4.0" height="2.0" fill="#1432b4"/>
<rect x="196.5" y="311.8" width="6.0" height="2.0" fill="#1228a0"/>
<rect x="202.5" y="311.8" width="28.0" height="2.0" fill="#0f1e82"/>
<rect x="230.5" y="311.8" width="4.0" height="2.0" fill="#1228a0"/>
<rect x="234.5" y="311.8" width="2.0" height="2.0" fill="#1432b4"/>
<rect x="236.5" y="311.8" width="2.0" height="2.0" fill="#143cc3"/>
<rect x="238.5" y="311.8" width="2.0" height="2.0" fill="#1955dc"/>
<rect x="240.5" y="311.8" width="2.0" height="2.0" fill="#1e6ee6"/>
<rect x="242.5" y="311.8" width="2.0" height="2.0" fill="#2480ee"/>
<rect x="244.5" y="311.8" width="2.0" height="2.0" fill="#2a91f2"/>
<rect x="246.5" y="311.8" width="2.0" height="2.0" fill="#349ef5"/>
<rect x="248.5" y="311.8" width="4.0" height="2.0" fill="#46aaf8"/>
<rect x="252.5" y="311.8" width="4.0" height="2.0" fill="#5fb9fa"/>
<rect x="256.5" y="311.8" width="4.0" height="2.0" fill="#76c6fb"/>
<rect x="260.5" y="311.8" width="6.0" height="2.0" fill="#8ad0fc"/>
<rect x="266.5" y="311.8" width="4.0" height="2.0" fill="#9bd8fd"/>
<rect x="270.5" y="311.8" width="6.0" height="2.0" fill="#aae0fd"/>
<rect x="276.5" y="311.8" width="6.0" height="2.0" fill="#b8e7fe"/>
<rect x="282.5" y="311.8" width="4.0" height="2.0" fill="#c6eefe"/>
<rect x="286.5" y="311.8" width="6.0" height="2.0" fill="#d4f3ff"/>
<rect x="292.5" y="311.8" width="6.0" height="2.0" fill="#e4f8ff"/>
<rect x="306.5" y="311.8" width="4.0" height="2.0" fill="#fffadc"/>
<rect x="310.5" y="311.8" width="4.0" height="2.0" fill="#fff2be"/>
<rect x="314.5" y="311.8" width="4.0" height="2.0" fill="#ffeaa0"/>
<rect x="318.5" y="311.8" width="2.0" height="2.0" fill="#ffe282"/>
<rect x="320.5" y="311.8" width="4.0" height="2.0" fill="#ffd864"/>
<rect x="324.5" y="311.8" width="2.0" height="2.0" fill="#ffcd46"/>
<rect x="326.5" y="311.8" width="4.0" height="2.0" fill="#ffc02d"/>
<rect x="330.5" y="311.8" width="2.0" height="2.0" fill="#ffb219"/>
<rect x="332.5" y="311.8" width="4.0" height="2.0" fill="#ffa30a"/>
<rect x="336.5" y="311.8" width="4.0" height="2.0" fill="#ff9400"/>
<rect x="340.5" y="311.8" width="4.0" height="2.0" fill="#ff8200"/>
<rect x="344.5" y="311.8" width="4.0" height="2.0" fill="#ff7000"/>
<rect x="348.5" y="311.8" width="8.0" height="2.0" fill="#fc5c00"/>
<rect x="356.5" y="311.8" width="10.0" height="2.0" fill="#f84800"/>
<rect x="366.5" y="311.8" width="14.0" height="2.0" fill="#f43405"/>
<rect x="380.5" y="311.8" width="94.0" height="2.0" fill="#ee240a"/>
<rect x="48.5" y="313.8" width="8.0" height="2.0" fill="#e4f8ff"/>
<rect x="64.5" y="313.8" width="2.0" height="2.0" fill="#fffadc"/>
<rect x="66.5" y="313.8" width="4.0" height="2.0" fill="#fff2be"/>
<rect x="70.5" y="313.8" width="32.0" height="2.0" fill="#ffeaa0"/>
<rect x="102.5" y="313.8" width="8.0" height="2.0" fill="#fff2be"/>
<rect x="110.5" y="313.8" width="6.0" height="2.0" fill="#fffadc"/>
<rect x="126.5" y="313.8" width="4.0" height="2.0" fill="#e4f8ff"/>
<rect x="130.5" y="313.8" width="6.0" height="2.0" fill="#d4f3ff"/>
<rect x="136.5" y="313.8" width="4.0" height="2.0" fill="#c6eefe"/>
<rect x="140.5" y="313.8" width="4.0" height="2.0" fill="#b8e7fe"/>
<rect x="144.5" y="313.8" width="4.0" height="2.0" fill="#aae0fd"/>
<rect x="148.5" y="313.8" width="4.0" height="2.0" fill="#9bd8fd"/>
<rect x="152.5" y="313.8" width="2.0" height="2.0" fill="#8ad0fc"/>
<rect x="154.5" y="313.8" width="4.0" height="2.0" fill="#76c6fb"/>
<rect x="158.5" y="313.8" width="4.0" height="2.0" fill="#5fb9fa"/>
<rect x="162.5" y="313.8" width="2.0" height="2.0" fill="#46aaf8"/>
<rect x="164.5" y="313.8" width="4.0" height="2.0" fill="#349ef5"/>
<rect x="168.5" y="313.8" width="4.0" height="2.0" fill="#2a91f2"/>
<rect x="172.5" y="313.8" width="4.0" height="2.0" fill="#2480ee"/>
<rect x="176.5" y="313.8" width="4.0" height="2.0" fill="#1e6ee6"/>
<rect x="180.5" y="313.8" width="4.0" height="2.0" fill="#1955dc"/>
<rect x="184.5" y="313.8" width="4.0" height="2.0" fill="#1648d2"/>
<rect x="188.5" y="313.8" width="4.0" height="2.0" fill="#143cc3"/>
<rect x="192.5" y="313.8" width="4.0" height="2.0" fill="#1432b4"/>
<rect x="196.5" y="313.8" width="6.0" height="2.0" fill="#1228a0"/>
<rect x="202.5" y="313.8" width="28.0" height="2.0" fill="#0f1e82"/>
<rect x="230.5" y="313.8" width="2.0" height="2.0" fill="#1228a0"/>
<rect x="232.5" y="313.8" width="2.0" height="2.0" fill="#1432b4"/>
<rect x="234.5" y="313.8" width="2.0" height="2.0" fill="#143cc3"/>
<rect x="236.5" y="313.8" width="2.0" height="2.0" fill="#1648d2"/>
<rect x="238.5" y="313.8" width="2.0" height="2.0" fill="#1955dc"/>
<rect x="240.5" y="313.8" width="2.0" height="2.0" fill="#1e6ee6"/>
<rect x="242.5" y="313.8" width="2.0" height="2.0" fill="#2480ee"/>
<rect x="244.5" y="313.8" width="2.0" height="2.0" fill="#2a91f2"/>
<rect x="246.5" y="313.8" width="2.0" height="2.0" fill="#349ef5"/>
<rect x="248.5" y="313.8" width="2.0" height="2.0" fill="#46aaf8"/>
<rect x="250.5" y="313.8" width="6.0" height="2.0" fill="#5fb9fa"/>
<rect x="256.5" y="313.8" width="4.0" height="2.0" fill="#76c6fb"/>
<rect x="260.5" y="313.8" width="4.0" height="2.0" fill="#8ad0fc"/>
<rect x="264.5" y="313.8" width="6.0" height="2.0" fill="#9bd8fd"/>
<rect x="270.5" y="313.8" width="6.0" height="2.0" fill="#aae0fd"/>
<rect x="276.5" y="313.8" width="6.0" height="2.0" fill="#b8e7fe"/>
<rect x="282.5" y="313.8" width="6.0" height="2.0" fill="#c6eefe"/>
<rect x="288.5" y="313.8" width="6.0" height="2.0" fill="#d4f3ff"/>
<rect x="294.5" y="313.8" width="4.0" height="2.0" fill="#e4f8ff"/>
<rect x="306.5" y="313.8" width="4.0" height="2.0" fill="#fffadc"/>
<rect x="310.5" y="313.8" width="4.0" height="2.0" fill="#fff2be"/>
<rect x="314.5" y="313.8" width="2.0" height="2.0" fill="#ffeaa0"/>
<rect x="316.5" y="313.8" width="4.0" height="2.0" fill="#ffe282"/>
<rect x="320.5" y="313.8" width="2.0" height="2.0" fill="#ffd864"/>
<rect x="322.5" y="313.8" width="4.0" height="2.0" fill="#ffcd46"/>
<rect x="326.5" y="313.8" width="2.0" height="2.0" fill="#ffc02d"/>
<rect x="328.5" y="313.8" width="2.0" height="2.0" fill="#ffb219"/>
<rect x="330.5" y="313.8" width="4.0" height="2.0" fill="#ffa30a"/>
<rect x="334.5" y="313.8" width="2.0" height="2.0" fill="#ff9400"/>
<rect x="336.5" y="313.8" width="4.0" height="2.0" fill="#ff8200"/>
<rect x="340.5" y="313.8" width="4.0" height="2.0" fill="#ff7000"/>
<rect x="344.5" y="313.8" width="4.0" height="2.0" fill="#fc5c00"/>
<rect x="348.5" y="313.8" width="8.0" height="2.0" fill="#f84800"/>
<rect x="356.5" y="313.8" width="10.0" height="2.0" fill="#f43405"/>
<rect x="366.5" y="313.8" width="18.0" height="2.0" fill="#ee240a"/>
<rect x="384.5" y="313.8" width="48.0" height="2.0" fill="#ee180c"/>
<rect x="432.5" y="313.8" width="26.0" height="2.0" fill="#ee240a"/>
<rect x="458.5" y="313.8" width="16.0" height="2.0" fill="#ee180c"/>
<rect x="48.5" y="315.8" width="8.0" height="2.0" fill="#e4f8ff"/>
<rect x="62.5" y="315.8" width="4.0" height="2.0" fill="#fffadc"/>
<rect x="66.5" y="315.8" width="4.0" height="2.0" fill="#fff2be"/>
<rect x="70.5" y="315.8" width="8.0" height="2.0" fill="#ffeaa0"/>
<rect x="78.5" y="315.8" width="16.0" height="2.0" fill="#ffe282"/>
<rect x="94.5" y="315.8" width="12.0" height="2.0" fill="#ffeaa0"/>
<rect x="106.5" y="315.8" width="6.0" height="2.0" fill="#fff2be"/>
<rect x="112.5" y="315.8" width="6.0" height="2.0" fill="#fffadc"/>
<rect x="128.5" y="315.8" width="4.0" height="2.0" fill="#e4f8ff"/>
<rect x="132.5" y="315.8" width="4.0" height="2.0" fill="#d4f3ff"/>
<rect x="136.5" y="315.8" width="4.0" height="2.0" fill="#c6eefe"/>
<rect x="140.5" y="315.8" width="4.0" height="2.0" fill="#b8e7fe"/>
<rect x="144.5" y="315.8" width="4.0" height="2.0" fill="#aae0fd"/>
<rect x="148.5" y="315.8" width="4.0" height="2.0" fill="#9bd8fd"/>
<rect x="152.5" y="315.8" width="4.0" height="2.0" fill="#8ad0fc"/>
<rect x="156.5" y="315.8" width="2.0" height="2.0" fill="#76c6fb"/>
<rect x="158.5" y="315.8" width="4.0" height="2.0" fill="#5fb9fa"/>
<rect x="162.5" y="315.8" width="2.0" height="2.0" fill="#46aaf8"/>
<rect x="164.5" y="315.8" width="4.0" height="2.0" fill="#349ef5"/>
<rect x="168.5" y="315.8" width="4.0" height="2.0" fill="#2a91f2"/>
<rect x="172.5" y="315.8" width="4.0" height="2.0" fill="#2480ee"/>
<rect x="176.5" y="315.8" width="4.0" height="2.0" fill="#1e6ee6"/>
<rect x="180.5" y="315.8" width="4.0" height="2.0" fill="#1955dc"/>
<rect x="184.5" y="315.8" width="4.0" height="2.0" fill="#1648d2"/>
<rect x="188.5" y="315.8" width="4.0" height="2.0" fill="#143cc3"/>
<rect x="192.5" y="315.8" width="4.0" height="2.0" fill="#1432b4"/>
<rect x="196.5" y="315.8" width="6.0" height="2.0" fill="#1228a0"/>
<rect x="202.5" y="315.8" width="26.0" height="2.0" fill="#0f1e82"/>
<rect x="228.5" y="315.8" width="4.0" height="2.0" fill="#1228a0"/>
<rect x="232.5" y="315.8" width="2.0" height="2.0" fill="#1432b4"/>
<rect x="234.5" y="315.8" width="2.0" height="2.0" fill="#143cc3"/>
<rect x="236.5" y="315.8" width="2.0" height="2.0" fill="#1648d2"/>
<rect x="238.5" y="315.8" width="2.0" height="2.0" fill="#1955dc"/>
<rect x="240.5" y="315.8" width="2.0" height="2.0" fill="#1e6ee6"/>
<rect x="242.5" y="315.8" width="2.0" height="2.0" fill="#2a91f2"/>
<rect x="244.5" y="315.8" width="2.0" height="2.0" fill="#349ef5"/>
<rect x="246.5" y="315.8" width="4.0" height="2.0" fill="#46aaf8"/>
<rect x="250.5" y="315.8" width="4.0" height="2.0" fill="#5fb9fa"/>
<rect x="254.5" y="315.8" width="4.0" height="2.0" fill="#76c6fb"/>
<rect x="258.5" y="315.8" width="6.0" height="2.0" fill="#8ad0fc"/>
<rect x="264.5" y="315.8" width="6.0" height="2.0" fill="#9bd8fd"/>
<rect x="270.5" y="315.8" width="6.0" height="2.0" fill="#aae0fd"/>
<rect x="276.5" y="315.8" width="6.0" height="2.0" fill="#b8e7fe"/>
<rect x="282.5" y="315.8" width="6.0" height="2.0" fill="#c6eefe"/>
<rect x="288.5" y="315.8" width="8.0" height="2.0" fill="#d4f3ff"/>
<rect x="296.5" y="315.8" width="4.0" height="2.0" fill="#e4f8ff"/>
<rect x="308.5" y="315.8" width="2.0" height="2.0" fill="#fffadc"/>
<rect x="310.5" y="315.8" width="4.0" height="2.0" fill="#fff2be"/>
<rect x="314.5" y="315.8" width="2.0" height="2.0" fill="#ffeaa0"/>
<rect x="316.5" y="315.8" width="2.0" height="2.0" fill="#ffe282"/>
<rect x="318.5" y="315.8" width="4.0" height="2.0" fill="#ffd864"/>
<rect x="322.5" y="315.8" width="2.0" height="2.0" fill="#ffcd46"/>
<rect x="324.5" y="315.8" width="2.0" height="2.0" fill="#ffc02d"/>
<rect x="326.5" y="315.8" width="4.0" height="2.0" fill="#ffb219"/>
<rect x="330.5" y="315.8" width="2.0" height="2.0" fill="#ffa30a"/>
<rect x="332.5" y="315.8" width="2.0" height="2.0" fill="#ff9400"/>
<rect x="334.5" y="315.8" width="4.0" height="2.0" fill="#ff8200"/>
<rect x="338.5" y="315.8" width="2.0" height="2.0" fill="#ff7000"/>
<rect x="340.5" y="315.8" width="4.0" height="2.0" fill="#fc5c00"/>
<rect x="344.5" y="315.8" width="6.0" height="2.0" fill="#f84800"/>
<rect x="350.5" y="315.8" width="8.0" height="2.0" fill="#f43405"/>
<rect x="358.5" y="315.8" width="12.0" height="2.0" fill="#ee240a"/>
<rect x="370.5" y="315.8" width="104.0" height="2.0" fill="#ee180c"/>
<rect x="48.5" y="317.8" width="6.0" height="2.0" fill="#e4f8ff"/>
<rect x="62.5" y="317.8" width="4.0" height="2.0" fill="#fffadc"/>
<rect x="66.5" y="317.8" width="2.0" height="2.0" fill="#fff2be"/>
<rect x="68.5" y="317.8" width="4.0" height="2.0" fill="#ffeaa0"/>
<rect x="72.5" y="317.8" width="32.0" height="2.0" fill="#ffe282"/>
<rect x="104.5" y="317.8" width="6.0" height="2.0" fill="#ffeaa0"/>
<rect x="110.5" y="317.8" width="6.0" height="2.0" fill="#fff2be"/>
<rect x="116.5" y="317.8" width="6.0" height="2.0" fill="#fffadc"/>
<rect x="130.5" y="317.8" width="4.0" height="2.0" fill="#e4f8ff"/>
<rect x="134.5" y="317.8" width="4.0" height="2.0" fill="#d4f3ff"/>
<rect x="138.5" y="317.8" width="4.0" height="2.0" fill="#c6eefe"/>
<rect x="142.5" y="317.8" width="4.0" height="2.0" fill="#b8e7fe"/>
<rect x="146.5" y="317.8" width="4.0" height="2.0" fill="#aae0fd"/>
<rect x="150.5" y="317.8" width="2.0" height="2.0" fill="#9bd8fd"/>
<rect x="152.5" y="317.8" width="4.0" height="2.0" fill="#8ad0fc"/>
<rect x="156.5" y="317.8" width="4.0" height="2.0" fill="#76c6fb"/>
<rect x="160.5" y="317.8" width="2.0" height="2.0" fill="#5fb9fa"/>
<rect x="162.5" y="317.8" width="4.0" height="2.0" fill="#46aaf8"/>
<rect x="166.5" y="317.8" width="4.0" height="2.0" fill="#349ef5"/>
<rect x="170.5" y="317.8" width="2.0" height="2.0" fill="#2a91f2"/>
<rect x="172.5" y="317.8" width="4.0" height="2.0" fill="#2480ee"/>
<rect x="176.5" y="317.8" width="4.0" height="2.0" fill="#1e6ee6"/>
<rect x="180.5" y="317.8" width="4.0" height="2.0" fill="#1955dc"/>
<rect x="184.5" y="317.8" width="4.0" height="2.0" fill="#1648d2"/>
<rect x="188.5" y="317.8" width="4.0" height="2.0" fill="#143cc3"/>
<rect x="192.5" y="317.8" width="6.0" height="2.0" fill="#1432b4"/>
<rect x="198.5" y="317.8" width="8.0" height="2.0" fill="#1228a0"/>
<rect x="206.5" y="317.8" width="18.0" height="2.0" fill="#0f1e82"/>
<rect x="224.5" y="317.8" width="8.0" height="2.0" fill="#1228a0"/>
<rect x="232.5" y="317.8" width="2.0" height="2.0" fill="#1432b4"/>
<rect x="234.5" y="317.8" width="2.0" height="2.0" fill="#143cc3"/>
<rect x="236.5" y="317.8" width="2.0" height="2.0" fill="#1648d2"/>
<rect x="238.5" y="317.8" width="2.0" height="2.0" fill="#1e6ee6"/>
<rect x="240.5" y="317.8" width="2.0" height="2.0" fill="#2480ee"/>
<rect x="242.5" y="317.8" width="2.0" height="2.0" fill="#2a91f2"/>
<rect x="244.5" y="317.8" width="2.0" height="2.0" fill="#349ef5"/>
<rect x="246.5" y="317.8" width="2.0" height="2.0" fill="#46aaf8"/>
<rect x="248.5" y="317.8" width="4.0" height="2.0" fill="#5fb9fa"/>
<rect x="252.5" y="317.8" width="6.0" height="2.0" fill="#76c6fb"/>
<rect x="258.5" y="317.8" width="4.0" height="2.0" fill="#8ad0fc"/>
<rect x="262.5" y="317.8" width="6.0" height="2.0" fill="#9bd8fd"/>
<rect x="268.5" y="317.8" width="8.0" height="2.0" fill="#aae0fd"/>
<rect x="276.5" y="317.8" width="6.0" height="2.0" fill="#b8e7fe"/>
<rect x="282.5" y="317.8" width="8.0" height="2.0" fill="#c6eefe"/>
<rect x="290.5" y="317.8" width="6.0" height="2.0" fill="#d4f3ff"/>
<rect x="296.5" y="317.8" width="4.0" height="2.0" fill="#e4f8ff"/>
<rect x="308.5" y="317.8" width="2.0" height="2.0" fill="#fffadc"/>
<rect x="310.5" y="317.8" width="4.0" height="2.0" fill="#fff2be"/>
<rect x="314.5" y="317.8" width="2.0" height="2.0" fill="#ffeaa0"/>
<rect x="316.5" y="317.8" width="2.0" height="2.0" fill="#ffe282"/>
<rect x="318.5" y="317.8" width="2.0" height="2.0" fill="#ffd864"/>
<rect x="320.5" y="317.8" width="2.0" height="2.0" fill="#ffcd46"/>
<rect x="322.5" y="317.8" width="4.0" height="2.0" fill="#ffc02d"/>
<rect x="326.5" y="317.8" width="2.0" height="2.0" fill="#ffb219"/>
<rect x="328.5" y="317.8" width="2.0" height="2.0" fill="#ffa30a"/>
<rect x="330.5" y="317.8" width="4.0" height="2.0" fill="#ff9400"/>
<rect x="334.5" y="317.8" width="2.0" height="2.0" fill="#ff8200"/>
<rect x="336.5" y="317.8" width="2.0" height="2.0" fill="#ff7000"/>
<rect x="338.5" y="317.8" width="4.0" height="2.0" fill="#fc5c00"/>
<rect x="342.5" y="317.8" width="4.0" height="2.0" fill="#f84800"/>
<rect x="346.5" y="317.8" width="8.0" height="2.0" fill="#f43405"/>
<rect x="354.5" y="317.8" width="10.0" height="2.0" fill="#ee240a"/>
<rect x="364.5" y="317.8" width="22.0" height="2.0" fill="#ee180c"/>
<rect x="386.5" y="317.8" width="42.0" height="2.0" fill="#e6100e"/>
<rect x="428.5" y="317.8" width="38.0" height="2.0" fill="#ee180c"/>
<rect x="466.5" y="317.8" width="8.0" height="2.0" fill="#e6100e"/>
<rect x="62.5" y="319.8" width="2.0" height="2.0" fill="#fffadc"/>
<rect x="64.5" y="319.8" width="2.0" height="2.0" fill="#fff2be"/>
<rect x="66.5" y="319.8" width="4.0" height="2.0" fill="#ffeaa0"/>
<rect x="70.5" y="319.8" width="8.0" height="2.0" fill="#ffe282"/>
<rect x="78.5" y="319.8" width="26.0" height="2.0" fill="#ffd864"/>
<rect x="104.5" y="319.8" width="6.0" height="2.0" fill="#ffe282"/>
<rect x="110.5" y="319.8" width="4.0" height="2.0" fill="#ffeaa0"/>
<rect x="114.5" y="319.8" width="6.0" height="2.0" fill="#fff2be"/>
<rect x="120.5" y="319.8" width="4.0" height="2.0" fill="#fffadc"/>
<rect x="134.5" y="319.8" width="4.0" height="2.0" fill="#e4f8ff"/>
<rect x="138.5" y="319.8" width="2.0" height="2.0" fill="#d4f3ff"/>
<rect x="140.5" y="319.8" width="4.0" height="2.0" fill="#c6eefe"/>
<rect x="144.5" y="319.8" width="2.0" height="2.0" fill="#b8e7fe"/>
<rect x="146.5" y="319.8" width="4.0" height="2.0" fill="#aae0fd"/>
<rect x="150.5" y="319.8" width="4.0" height="2.0" fill="#9bd8fd"/>
<rect x="154.5" y="319.8" width="2.0" height="2.0" fill="#8ad0fc"/>
<rect x="156.5" y="319.8" width="4.0" height="2.0" fill="#76c6fb"/>
<rect x="160.5" y="319.8" width="4.0" height="2.0" fill="#5fb9fa"/>
<rect x="164.5" y="319.8" width="2.0" height="2.0" fill="#46aaf8"/>
<rect x="166.5" y="319.8" width="4.0" height="2.0" fill="#349ef5"/>
<rect x="170.5" y="319.8" width="4.0" height="2.0" fill="#2a91f2"/>
<rect x="174.5" y="319.8" width="4.0" height="2.0" fill="#2480ee"/>
<rect x="178.5" y="319.8" width="4.0" height="2.0" fill="#1e6ee6"/>
<rect x="182.5" y="319.8" width="4.0" height="2.0" fill="#1955dc"/>
<rect x="186.5" y="319.8" width="4.0" height="2.0" fill="#1648d2"/>
<rect x="190.5" y="319.8" width="4.0" height="2.0" fill="#143cc3"/>
<rect x="194.5" y="319.8" width="4.0" height="2.0" fill="#1432b4"/>
<rect x="198.5" y="319.8" width="12.0" height="2.0" fill="#1228a0"/>
<rect x="210.5" y="319.8" width="10.0" height="2.0" fill="#0f1e82"/>
<rect x="220.5" y="319.8" width="10.0" height="2.0" fill="#1228a0"/>
<rect x="230.5" y="319.8" width="2.0" height="2.0" fill="#1432b4"/>
<rect x="232.5" y="319.8" width="2.0" height="2.0" fill="#143cc3"/>
<rect x="234.5" y="319.8" width="2.0" height="2.0" fill="#1648d2"/>
<rect x="236.5" y="319.8" width="2.0" height="2.0" fill="#1955dc"/>
<rect x="238.5" y="319.8" width="2.0" height="2.0" fill="#1e6ee6"/>
<rect x="240.5" y="319.8" width="2.0" height="2.0" fill="#2480ee"/>
<rect x="242.5" y="319.8" width="2.0" height="2.0" fill="#2a91f2"/>
<rect x="244.5" y="319.8" width="2.0" height="2.0" fill="#349ef5"/>
<rect x="246.5" y="319.8" width="2.0" height="2.0" fill="#46aaf8"/>
<rect x="248.5" y="319.8" width="2.0" height="2.0" fill="#5fb9fa"/>
<rect x="250.5" y="319.8" width="6.0" height="2.0" fill="#76c6fb"/>
<rect x="256.5" y="319.8" width="4.0" height="2.0" fill="#8ad0fc"/>
<rect x="260.5" y="319.8" width="6.0" height="2.0" fill="#9bd8fd"/>
<rect x="266.5" y="319.8" width="8.0" height="2.0" fill="#aae0fd"/>
<rect x="274.5" y="319.8" width="8.0" height="2.0" fill="#b8e7fe"/>
<rect x="282.5" y="319.8" width="8.0" height="2.0" fill="#c6eefe"/>
<rect x="290.5" y="319.8" width="6.0" height="2.0" fill="#d4f3ff"/>
<rect x="296.5" y="319.8" width="4.0" height="2.0" fill="#e4f8ff"/>
<rect x="306.5" y="319.8" width="4.0" height="2.0" fill="#fffadc"/>
<rect x="310.5" y="319.8" width="2.0" height="2.0" fill="#fff2be"/>
<rect x="312.5" y="319.8" width="4.0" height="2.0" fill="#ffeaa0"/>
<rect x="316.5" y="319.8" width="2.0" height="2.0" fill="#ffe282"/>
<rect x="318.5" y="319.8" width="2.0" height="2.0" fill="#ffd864"/>
<rect x="320.5" y="319.8" width="2.0" height="2.0" fill="#ffcd46"/>
<rect x="322.5" y="319.8" width="2.0" height="2.0" fill="#ffc02d"/>
<rect x="324.5" y="319.8" width="2.0" height="2.0" fill="#ffb219"/>
<rect x="326.5" y="319.8" width="2.0" height="2.0" fill="#ffa30a"/>
<rect x="328.5" y="319.8" width="4.0" height="2.0" fill="#ff9400"/>
<rect x="332.5" y="319.8" width="2.0" height="2.0" fill="#ff8200"/>
<rect x="334.5" y="319.8" width="2.0" height="2.0" fill="#ff7000"/>
<rect x="336.5" y="319.8" width="4.0" height="2.0" fill="#fc5c00"/>
<rect x="340.5" y="319.8" width="4.0" height="2.0" fill="#f84800"/>
<rect x="344.5" y="319.8" width="6.0" height="2.0" fill="#f43405"/>
<rect x="350.5" y="319.8" width="10.0" height="2.0" fill="#ee240a"/>
<rect x="360.5" y="319.8" width="18.0" height="2.0" fill="#ee180c"/>
<rect x="378.5" y="319.8" width="56.0" height="2.0" fill="#e6100e"/>
<rect x="434.5" y="319.8" width="28.0" height="2.0" fill="#ee180c"/>
<rect x="462.5" y="319.8" width="12.0" height="2.0" fill="#e6100e"/>
<rect x="60.5" y="321.8" width="4.0" height="2.0" fill="#fffadc"/>
<rect x="64.5" y="321.8" width="2.0" height="2.0" fill="#fff2be"/>
<rect x="66.5" y="321.8" width="2.0" height="2.0" fill="#ffeaa0"/>
<rect x="68.5" y="321.8" width="4.0" height="2.0" fill="#ffe282"/>
<rect x="72.5" y="321.8" width="10.0" height="2.0" fill="#ffd864"/>
<rect x="82.5" y="321.8" width="20.0" height="2.0" fill="#ffcd46"/>
<rect x="102.5" y="321.8" width="6.0" height="2.0" fill="#ffd864"/>
<rect x="108.5" y="321.8" width="6.0" height="2.0" fill="#ffe282"/>
<rect x="114.5" y="321.8" width="4.0" height="2.0" fill="#ffeaa0"/>
<rect x="118.5" y="321.8" width="6.0" height="2.0" fill="#fff2be"/>
<rect x="124.5" y="321.8" width="4.0" height="2.0" fill="#fffadc"/>
<rect x="136.5" y="321.8" width="2.0" height="2.0" fill="#e4f8ff"/>
<rect x="138.5" y="321.8" width="4.0" height="2.0" fill="#d4f3ff"/>
<rect x="142.5" y="321.8" width="2.0" height="2.0" fill="#c6eefe"/>
<rect x="144.5" y="321.8" width="4.0" height="2.0" fill="#b8e7fe"/>
<rect x="148.5" y="321.8" width="4.0" height="2.0" fill="#aae0fd"/>
<rect x="152.5" y="321.8" width="2.0" height="2.0" fill="#9bd8fd"/>
<rect x="154.5" y="321.8" width="4.0" height="2.0" fill="#8ad0fc"/>
<rect x="158.5" y="321.8" width="2.0" height="2.0" fill="#76c6fb"/>
<rect x="160.5" y="321.8" width="4.0" height="2.0" fill="#5fb9fa"/>
<rect x="164.5" y="321.8" width="4.0" height="2.0" fill="#46aaf8"/>
<rect x="168.5" y="321.8" width="2.0" height="2.0" fill="#349ef5"/>
<rect x="170.5" y="321.8" width="4.0" height="2.0" fill="#2a91f2"/>
<rect x="174.5" y="321.8" width="4.0" height="2.0" fill="#2480ee"/>
<rect x="178.5" y="321.8" width="4.0" height="2.0" fill="#1e6ee6"/>
<rect x="182.5" y="321.8" width="4.0" height="2.0" fill="#1955dc"/>
<rect x="186.5" y="321.8" width="4.0" height="2.0" fill="#1648d2"/>
<rect x="190.5" y="321.8" width="4.0" height="2.0" fill="#143cc3"/>
<rect x="194.5" y="321.8" width="6.0" height="2.0" fill="#1432b4"/>
<rect x="200.5" y="321.8" width="14.0" height="2.0" fill="#1228a0"/>
<rect x="214.5" y="321.8" width="2.0" height="2.0" fill="#0f1e82"/>
<rect x="216.5" y="321.8" width="10.0" height="2.0" fill="#1228a0"/>
<rect x="226.5" y="321.8" width="6.0" height="2.0" fill="#1432b4"/>
<rect x="232.5" y="321.8" width="2.0" height="2.0" fill="#143cc3"/>
<rect x="234.5" y="321.8" width="2.0" height="2.0" fill="#1648d2"/>
<rect x="236.5" y="321.8" width="2.0" height="2.0" fill="#1955dc"/>
<rect x="238.5" y="321.8" width="2.0" height="2.0" fill="#1e6ee6"/>
<rect x="240.5" y="321.8" width="2.0" height="2.0" fill="#2a91f2"/>
<rect x="242.5" y="321.8" width="2.0" height="2.0" fill="#349ef5"/>
<rect x="244.5" y="321.8" width="2.0" height="2.0" fill="#46aaf8"/>
<rect x="246.5" y="321.8" width="4.0" height="2.0" fill="#5fb9fa"/>
<rect x="250.5" y="321.8" width="4.0" height="2.0" fill="#76c6fb"/>
<rect x="254.5" y="321.8" width="6.0" height="2.0" fill="#8ad0fc"/>
<rect x="260.5" y="321.8" width="4.0" height="2.0" fill="#9bd8fd"/>
<rect x="264.5" y="321.8" width="10.0" height="2.0" fill="#aae0fd"/>
<rect x="274.5" y="321.8" width="8.0" height="2.0" fill="#b8e7fe"/>
<rect x="282.5" y="321.8" width="8.0" height="2.0" fill="#c6eefe"/>
<rect x="290.5" y="321.8" width="6.0" height="2.0" fill="#d4f3ff"/>
<rect x="296.5" y="321.8" width="4.0" height="2.0" fill="#e4f8ff"/>
<rect x="306.5" y="321.8" width="4.0" height="2.0" fill="#fffadc"/>
<rect x="310.5" y="321.8" width="2.0" height="2.0" fill="#fff2be"/>
<rect x="312.5" y="321.8" width="2.0" height="2.0" fill="#ffeaa0"/>
<rect x="314.5" y="321.8" width="2.0" height="2.0" fill="#ffe282"/>
<rect x="316.5" y="321.8" width="2.0" height="2.0" fill="#ffd864"/>
<rect x="318.5" y="321.8" width="2.0" height="2.0" fill="#ffcd46"/>
<rect x="320.5" y="321.8" width="2.0" height="2.0" fill="#ffc02d"/>
<rect x="322.5" y="321.8" width="2.0" height="2.0" fill="#ffb219"/>
<rect x="324.5" y="321.8" width="2.0" height="2.0" fill="#ffa30a"/>
<rect x="326.5" y="321.8" width="4.0" height="2.0" fill="#ff9400"/>
<rect x="330.5" y="321.8" width="2.0" height="2.0" fill="#ff8200"/>
<rect x="332.5" y="321.8" width="4.0" height="2.0" fill="#ff7000"/>
<rect x="336.5" y="321.8" width="2.0" height="2.0" fill="#fc5c00"/>
<rect x="338.5" y="321.8" width="4.0" height="2.0" fill="#f84800"/>
<rect x="342.5" y="321.8" width="4.0" height="2.0" fill="#f43405"/>
<rect x="346.5" y="321.8" width="12.0" height="2.0" fill="#ee240a"/>
<rect x="358.5" y="321.8" width="16.0" height="2.0" fill="#ee180c"/>
<rect x="374.5" y="321.8" width="64.0" height="2.0" fill="#e6100e"/>
<rect x="438.5" y="321.8" width="20.0" height="2.0" fill="#ee180c"/>
<rect x="458.5" y="321.8" width="16.0" height="2.0" fill="#e6100e"/>
<rect x="60.5" y="323.8" width="2.0" height="2.0" fill="#fffadc"/>
<rect x="62.5" y="323.8" width="2.0" height="2.0" fill="#fff2be"/>
<rect x="64.5" y="323.8" width="4.0" height="2.0" fill="#ffeaa0"/>
<rect x="68.5" y="323.8" width="2.0" height="2.0" fill="#ffe282"/>
<rect x="70.5" y="323.8" width="6.0" height="2.0" fill="#ffd864"/>
<rect x="76.5" y="323.8" width="8.0" height="2.0" fill="#ffcd46"/>
<rect x="84.5" y="323.8" width="18.0" height="2.0" fill="#ffc02d"/>
<rect x="102.5" y="323.8" width="6.0" height="2.0" fill="#ffcd46"/>
<rect x="108.5" y="323.8" width="4.0" height="2.0" fill="#ffd864"/>
<rect x="112.5" y="323.8" width="6.0" height="2.0" fill="#ffe282"/>
<rect x="118.5" y="323.8" width="4.0" height="2.0" fill="#ffeaa0"/>
<rect x="122.5" y="323.8" width="4.0" height="2.0" fill="#fff2be"/>
<rect x="126.5" y="323.8" width="4.0" height="2.0" fill="#fffadc"/>
<rect x="138.5" y="323.8" width="2.0" height="2.0" fill="#e4f8ff"/>
<rect x="140.5" y="323.8" width="4.0" height="2.0" fill="#d4f3ff"/>
<rect x="144.5" y="323.8" width="2.0" height="2.0" fill="#c6eefe"/>
<rect x="146.5" y="323.8" width="2.0" height="2.0" fill="#b8e7fe"/>
<rect x="148.5" y="323.8" width="4.0" height="2.0" fill="#aae0fd"/>
<rect x="152.5" y="323.8" width="4.0" height="2.0" fill="#9bd8fd"/>
<rect x="156.5" y="323.8" width="2.0" height="2.0" fill="#8ad0fc"/>
<rect x="158.5" y="323.8" width="4.0" height="2.0" fill="#76c6fb"/>
<rect x="162.5" y="323.8" width="2.0" height="2.0" fill="#5fb9fa"/>
<rect x="164.5" y="323.8" width="4.0" height="2.0" fill="#46aaf8"/>
<rect x="168.5" y="323.8" width="4.0" height="2.0" fill="#349ef5"/>
<rect x="172.5" y="323.8" width="4.0" height="2.0" fill="#2a91f2"/>
<rect x="176.5" y="323.8" width="4.0" height="2.0" fill="#2480ee"/>
<rect x="180.5" y="323.8" width="4.0" height="2.0" fill="#1e6ee6"/>
<rect x="184.5" y="323.8" width="4.0" height="2.0" fill="#1955dc"/>
<rect x="188.5" y="323.8" width="4.0" height="2.0" fill="#1648d2"/>
<rect x="192.5" y="323.8" width="4.0" height="2.0" fill="#143cc3"/>
<rect x="196.5" y="323.8" width="6.0" height="2.0" fill="#1432b4"/>
<rect x="202.5" y="323.8" width="20.0" height="2.0" fill="#1228a0"/>
<rect x="222.5" y="323.8" width="8.0" height="2.0" fill="#1432b4"/>
<rect x="230.5" y="323.8" width="2.0" height="2.0" fill="#143cc3"/>
<rect x="232.5" y="323.8" width="2.0" height="2.0" fill="#1648d2"/>
<rect x="234.5" y="323.8" width="2.0" height="2.0" fill="#1955dc"/>
<rect x="236.5" y="323.8" width="2.0" height="2.0" fill="#1e6ee6"/>
<rect x="238.5" y="323.8" width="2.0" height="2.0" fill="#2480ee"/>
<rect x="240.5" y="323.8" width="2.0" height="2.0" fill="#2a91f2"/>
<rect x="242.5" y="323.8" width="2.0" height="2.0" fill="#349ef5"/>
<rect x="244.5" y="323.8" width="2.0" height="2.0" fill="#46aaf8"/>
<rect x="246.5" y="323.8" width="2.0" height="2.0" fill="#5fb9fa"/>
<rect x="248.5" y="323.8" width="4.0" height="2.0" fill="#76c6fb"/>
<rect x="252.5" y="323.8" width="6.0" height="2.0" fill="#8ad0fc"/>
<rect x="258.5" y="323.8" width="6.0" height="2.0" fill="#9bd8fd"/>
<rect x="264.5" y="323.8" width="8.0" height="2.0" fill="#aae0fd"/>
<rect x="272.5" y="323.8" width="10.0" height="2.0" fill="#b8e7fe"/>
<rect x="282.5" y="323.8" width="10.0" height="2.0" fill="#c6eefe"/>
<rect x="292.5" y="323.8" width="6.0" height="2.0" fill="#d4f3ff"/>
<rect x="298.5" y="323.8" width="2.0" height="2.0" fill="#e4f8ff"/>
<rect x="306.5" y="323.8" width="4.0" height="2.0" fill="#fffadc"/>
<rect x="310.5" y="323.8" width="2.0" height="2.0" fill="#fff2be"/>
<rect x="312.5" y="323.8" width="2.0" height="2.0" fill="#ffeaa0"/>
<rect x="314.5" y="323.8" width="2.0" height="2.0" fill="#ffe282"/>
<rect x="316.5" y="323.8" width="2.0" height="2.0" fill="#ffd864"/>
<rect x="318.5" y="323.8" width="2.0" height="2.0" fill="#ffcd46"/>
<rect x="320.5" y="323.8" width="2.0" height="2.0" fill="#ffc02d"/>
<rect x="322.5" y="323.8" width="2.0" height="2.0" fill="#ffb219"/>
<rect x="324.5" y="323.8" width="2.0" height="2.0" fill="#ffa30a"/>
<rect x="326.5" y="323.8" width="2.0" height="2.0" fill="#ff9400"/>
<rect x="328.5" y="323.8" width="2.0" height="2.0" fill="#ff8200"/>
<rect x="330.5" y="323.8" width="4.0" height="2.0" fill="#ff7000"/>
<rect x="334.5" y="323.8" width="2.0" height="2.0" fill="#fc5c00"/>
<rect x="336.5" y="323.8" width="4.0" height="2.0" fill="#f84800"/>
<rect x="340.5" y="323.8" width="4.0" height="2.0" fill="#f43405"/>
<rect x="344.5" y="323.8" width="10.0" height="2.0" fill="#ee240a"/>
<rect x="354.5" y="323.8" width="16.0" height="2.0" fill="#ee180c"/>
<rect x="370.5" y="323.8" width="104.0" height="2.0" fill="#e6100e"/>
<rect x="58.5" y="325.8" width="4.0" height="2.0" fill="#fffadc"/>
<rect x="62.5" y="325.8" width="2.0" height="2.0" fill="#fff2be"/>
<rect x="64.5" y="325.8" width="2.0" height="2.0" fill="#ffeaa0"/>
<rect x="66.5" y="325.8" width="4.0" height="2.0" fill="#ffe282"/>
<rect x="70.5" y="325.8" width="4.0" height="2.0" fill="#ffd864"/>
<rect x="74.5" y="325.8" width="6.0" height="2.0" fill="#ffcd46"/>
<rect x="80.5" y="325.8" width="6.0" height="2.0" fill="#ffc02d"/>
<rect x="86.5" y="325.8" width="18.0" height="2.0" fill="#ffb219"/>
<rect x="104.5" y="325.8" width="4.0" height="2.0" fill="#ffc02d"/>
<rect x="108.5" y="325.8" width="4.0" height="2.0" fill="#ffcd46"/>
<rect x="112.5" y="325.8" width="4.0" height="2.0" fill="#ffd864"/>
<rect x="116.5" y="325.8" width="4.0" height="2.0" fill="#ffe282"/>
<rect x="120.5" y="325.8" width="4.0" height="2.0" fill="#ffeaa0"/>
<rect x="124.5" y="325.8" width="4.0" height="2.0" fill="#fff2be"/>
<rect x="128.5" y="325.8" width="4.0" height="2.0" fill="#fffadc"/>
<rect x="140.5" y="325.8" width="2.0" height="2.0" fill="#e4f8ff"/>
<rect x="142.5" y="325.8" width="2.0" height="2.0" fill="#d4f3ff"/>
<rect x="144.5" y="325.8" width="4.0" height="2.0" fill="#c6eefe"/>
<rect x="148.5" y="325.8" width="2.0" height="2.0" fill="#b8e7fe"/>
<rect x="150.5" y="325.8" width="2.0" height="2.0" fill="#aae0fd"/>
<rect x="152.5" y="325.8" width="4.0" height="2.0" fill="#9bd8fd"/>
<rect x="156.5" y="325.8" width="4.0" height="2.0" fill="#8ad0fc"/>
<rect x="160.5" y="325.8" width="2.0" height="2.0" fill="#76c6fb"/>
<rect x="162.5" y="325.8" width="4.0" height="2.0" fill="#5fb9fa"/>
<rect x="166.5" y="325.8" width="2.0" height="2.0" fill="#46aaf8"/>
<rect x="168.5" y="325.8" width="4.0" height="2.0" fill="#349ef5"/>
<rect x="172.5" y="325.8" width="4.0" height="2.0" fill="#2a91f2"/>
<rect x="176.5" y="325.8" width="4.0" height="2.0" fill="#2480ee"/>
<rect x="180.5" y="325.8" width="4.0" height="2.0" fill="#1e6ee6"/>
<rect x="184.5" y="325.8" width="4.0" height="2.0" fill="#1955dc"/>
<rect x="188.5" y="325.8" width="4.0" height="2.0" fill="#1648d2"/>
<rect x="192.5" y="325.8" width="4.0" height="2.0" fill="#143cc3"/>
<rect x="196.5" y="325.8" width="10.0" height="2.0" fill="#1432b4"/>
<rect x="206.5" y="325.8" width="14.0" height="2.0" fill="#1228a0"/>
<rect x="220.5" y="325.8" width="6.0" height="2.0" fill="#1432b4"/>
<rect x="226.5" y="325.8" width="6.0" height="2.0" fill="#143cc3"/>
<rect x="232.5" y="325.8" width="2.0" height="2.0" fill="#1648d2"/>
<rect x="234.5" y="325.8" width="2.0" height="2.0" fill="#1955dc"/>
<rect x="236.5" y="325.8" width="2.0" height="2.0" fill="#1e6ee6"/>
<rect x="238.5" y="325.8" width="2.0" height="2.0" fill="#2480ee"/>
<rect x="240.5" y="325.8" width="2.0" height="2.0" fill="#2a91f2"/>
<rect x="242.5" y="325.8" width="2.0" height="2.0" fill="#46aaf8"/>
<rect x="244.5" y="325.8" width="2.0" height="2.0" fill="#5fb9fa"/>
<rect x="246.5" y="325.8" width="4.0" height="2.0" fill="#76c6fb"/>
<rect x="250.5" y="325.8" width="6.0" height="2.0" fill="#8ad0fc"/>
<rect x="256.5" y="325.8" width="6.0" height="2.0" fill="#9bd8fd"/>
<rect x="262.5" y="325.8" width="8.0" height="2.0" fill="#aae0fd"/>
<rect x="270.5" y="325.8" width="12.0" height="2.0" fill="#b8e7fe"/>
<rect x="282.5" y="325.8" width="10.0" height="2.0" fill="#c6eefe"/>
<rect x="292.5" y="325.8" width="6.0" height="2.0" fill="#d4f3ff"/>
<rect x="298.5" y="325.8" width="2.0" height="2.0" fill="#e4f8ff"/>
<rect x="306.5" y="325.8" width="4.0" height="2.0" fill="#fffadc"/>
<rect x="310.5" y="325.8" width="2.0" height="2.0" fill="#fff2be"/>
<rect x="312.5" y="325.8" width="2.0" height="2.0" fill="#ffeaa0"/>
<rect x="314.5" y="325.8" width="2.0" height="2.0" fill="#ffe282"/>
<rect x="316.5" y="325.8" width="2.0" height="2.0" fill="#ffd864"/>
<rect x="318.5" y="325.8" width="2.0" height="2.0" fill="#ffc02d"/>
<rect x="320.5" y="325.8" width="2.0" height="2.0" fill="#ffb219"/>
<rect x="322.5" y="325.8" width="2.0" height="2.0" fill="#ffa30a"/>
<rect x="324.5" y="325.8" width="2.0" height="2.0" fill="#ff9400"/>
<rect x="326.5" y="325.8" width="2.0" height="2.0" fill="#ff8200"/>
<rect x="328.5" y="325.8" width="2.0" height="2.0" fill="#ff7000"/>
<rect x="330.5" y="325.8" width="4.0" height="2.0" fill="#fc5c00"/>
<rect x="334.5" y="325.8" width="4.0" height="2.0" fill="#f84800"/>
<rect x="338.5" y="325.8" width="4.0" height="2.0" fill="#f43405"/>
<rect x="342.5" y="325.8" width="8.0" height="2.0" fill="#ee240a"/>
<rect x="350.5" y="325.8" width="18.0" height="2.0" fill="#ee180c"/>
<rect x="368.5" y="325.8" width="106.0" height="2.0" fill="#e6100e"/>
<rect x="58.5" y="327.8" width="2.0" height="2.0" fill="#fffadc"/>
<rect x="60.5" y="327.8" width="4.0" height="2.0" fill="#fff2be"/>
<rect x="64.5" y="327.8" width="2.0" height="2.0" fill="#ffeaa0"/>
<rect x="66.5" y="327.8" width="2.0" height="2.0" fill="#ffe282"/>
<rect x="68.5" y="327.8" width="4.0" height="2.0" fill="#ffd864"/>
<rect x="72.5" y="327.8" width="4.0" height="2.0" fill="#ffcd46"/>
<rect x="76.5" y="327.8" width="6.0" height="2.0" fill="#ffc02d"/>
<rect x="82.5" y="327.8" width="6.0" height="2.0" fill="#ffb219"/>
<rect x="88.5" y="327.8" width="6.0" height="2.0" fill="#ffa30a"/>
<rect x="94.5" y="327.8" width="4.0" height="2.0" fill="#ff9400"/>
<rect x="98.5" y="327.8" width="6.0" height="2.0" fill="#ffa30a"/>
<rect x="104.5" y="327.8" width="4.0" height="2.0" fill="#ffb219"/>
<rect x="108.5" y="327.8" width="2.0" height="2.0" fill="#ffc02d"/>
<rect x="110.5" y="327.8" width="4.0" height="2.0" fill="#ffcd46"/>
<rect x="114.5" y="327.8" width="6.0" height="2.0" fill="#ffd864"/>
<rect x="120.5" y="327.8" width="4.0" height="2.0" fill="#ffe282"/>
<rect x="124.5" y="327.8" width="4.0" height="2.0" fill="#ffeaa0"/>
<rect x="128.5" y="327.8" width="4.0" height="2.0" fill="#fff2be"/>
<rect x="132.5" y="327.8" width="4.0" height="2.0" fill="#fffadc"/>
<rect x="140.5" y="327.8" width="4.0" height="2.0" fill="#e4f8ff"/>
<rect x="144.5" y="327.8" width="2.0" height="2.0" fill="#d4f3ff"/>
<rect x="146.5" y="327.8" width="2.0" height="2.0" fill="#c6eefe"/>
<rect x="148.5" y="327.8" width="2.0" height="2.0" fill="#b8e7fe"/>
<rect x="150.5" y="327.8" width="4.0" height="2.0" fill="#aae0fd"/>
<rect x="154.5" y="327.8" width="2.0" height="2.0" fill="#9bd8fd"/>
<rect x="156.5" y="327.8" width="4.0" height="2.0" fill="#8ad0fc"/>
<rect x="160.5" y="327.8" width="4.0" height="2.0" fill="#76c6fb"/>
<rect x="164.5" y="327.8" width="2.0" height="2.0" fill="#5fb9fa"/>
<rect x="166.5" y="327.8" width="4.0" height="2.0" fill="#46aaf8"/>
<rect x="170.5" y="327.8" width="4.0" height="2.0" fill="#349ef5"/>
<rect x="174.5" y="327.8" width="4.0" height="2.0" fill="#2a91f2"/>
<rect x="178.5" y="327.8" width="4.0" height="2.0" fill="#2480ee"/>
<rect x="182.5" y="327.8" width="4.0" height="2.0" fill="#1e6ee6"/>
<rect x="186.5" y="327.8" width="4.0" height="2.0" fill="#1955dc"/>
<rect x="190.5" y="327.8" width="4.0" height="2.0" fill="#1648d2"/>
<rect x="194.5" y="327.8" width="4.0" height="2.0" fill="#143cc3"/>
<rect x="198.5" y="327.8" width="12.0" height="2.0" fill="#1432b4"/>
<rect x="210.5" y="327.8" width="8.0" height="2.0" fill="#1228a0"/>
<rect x="218.5" y="327.8" width="6.0" height="2.0" fill="#1432b4"/>
<rect x="224.5" y="327.8" width="6.0" height="2.0" fill="#143cc3"/>
<rect x="230.5" y="327.8" width="2.0" height="2.0" fill="#1648d2"/>
<rect x="232.5" y="327.8" width="2.0" height="2.0" fill="#1955dc"/>
<rect x="234.5" y="327.8" width="2.0" height="2.0" fill="#1e6ee6"/>
<rect x="236.5" y="327.8" width="2.0" height="2.0" fill="#2480ee"/>
<rect x="238.5" y="327.8" width="2.0" height="2.0" fill="#2a91f2"/>
<rect x="240.5" y="327.8" width="2.0" height="2.0" fill="#349ef5"/>
<rect x="242.5" y="327.8" width="2.0" height="2.0" fill="#46aaf8"/>
<rect x="244.5" y="327.8" width="2.0" height="2.0" fill="#5fb9fa"/>
<rect x="246.5" y="327.8" width="2.0" height="2.0" fill="#76c6fb"/>
<rect x="248.5" y="327.8" width="6.0" height="2.0" fill="#8ad0fc"/>
<rect x="254.5" y="327.8" width="6.0" height="2.0" fill="#9bd8fd"/>
<rect x="260.5" y="327.8" width="8.0" height="2.0" fill="#aae0fd"/>
<rect x="268.5" y="327.8" width="12.0" height="2.0" fill="#b8e7fe"/>
<rect x="280.5" y="327.8" width="12.0" height="2.0" fill="#c6eefe"/>
<rect x="292.5" y="327.8" width="6.0" height="2.0" fill="#d4f3ff"/>
<rect x="298.5" y="327.8" width="2.0" height="2.0" fill="#e4f8ff"/>
<rect x="306.5" y="327.8" width="4.0" height="2.0" fill="#fffadc"/>
<rect x="310.5" y="327.8" width="2.0" height="2.0" fill="#fff2be"/>
<rect x="312.5" y="327.8" width="2.0" height="2.0" fill="#ffeaa0"/>
<rect x="314.5" y="327.8" width="2.0" height="2.0" fill="#ffd864"/>
<rect x="316.5" y="327.8" width="2.0" height="2.0" fill="#ffcd46"/>
<rect x="318.5" y="327.8" width="2.0" height="2.0" fill="#ffc02d"/>
<rect x="320.5" y="327.8" width="2.0" height="2.0" fill="#ffb219"/>
<rect x="322.5" y="327.8" width="2.0" height="2.0" fill="#ffa30a"/>
<rect x="324.5" y="327.8" width="2.0" height="2.0" fill="#ff8200"/>
<rect x="326.5" y="327.8" width="2.0" height="2.0" fill="#ff7000"/>
<rect x="328.5" y="327.8" width="4.0" height="2.0" fill="#fc5c00"/>
<rect x="332.5" y="327.8" width="4.0" height="2.0" fill="#f84800"/>
<rect x="336.5" y="327.8" width="4.0" height="2.0" fill="#f43405"/>
<rect x="340.5" y="327.8" width="4.0" height="2.0" fill="#ee240a"/>
<rect x="344.5" y="327.8" width="20.0" height="2.0" fill="#ee180c"/>
<rect x="364.5" y="327.8" width="110.0" height="2.0" fill="#e6100e"/>
<rect x="56.5" y="329.8" width="4.0" height="2.0" fill="#fffadc"/>
<rect x="60.5" y="329.8" width="2.0" height="2.0" fill="#fff2be"/>
<rect x="62.5" y="329.8" width="2.0" height="2.0" fill="#ffeaa0"/>
<rect x="64.5" y="329.8" width="4.0" height="2.0" fill="#ffe282"/>
<rect x="68.5" y="329.8" width="2.0" height="2.0" fill="#ffd864"/>
<rect x="70.5" y="329.8" width="4.0" height="2.0" fill="#ffcd46"/>
<rect x="74.5" y="329.8" width="6.0" height="2.0" fill="#ffc02d"/>
<rect x="80.5" y="329.8" width="4.0" height="2.0" fill="#ffb219"/>
<rect x="84.5" y="329.8" width="4.0" height="2.0" fill="#ffa30a"/>
<rect x="88.5" y="329.8" width="6.0" height="2.0" fill="#ff9400"/>
<rect x="94.5" y="329.8" width="8.0" height="2.0" fill="#ff8200"/>
<rect x="102.5" y="329.8" width="2.0" height="2.0" fill="#ff9400"/>
<rect x="104.5" y="329.8" width="4.0" height="2.0" fill="#ffa30a"/>
<rect x="108.5" y="329.8" width="2.0" height="2.0" fill="#ffb219"/>
<rect x="110.5" y="329.8" width="4.0" height="2.0" fill="#ffc02d"/>
<rect x="114.5" y="329.8" width="4.0" height="2.0" fill="#ffcd46"/>
<rect x="118.5" y="329.8" width="4.0" height="2.0" fill="#ffd864"/>
<rect x="122.5" y="329.8" width="4.0" height="2.0" fill="#ffe282"/>
<rect x="126.5" y="329.8" width="4.0" height="2.0" fill="#ffeaa0"/>
<rect x="130.5" y="329.8" width="4.0" height="2.0" fill="#fff2be"/>
<rect x="134.5" y="329.8" width="2.0" height="2.0" fill="#fffadc"/>
<rect x="142.5" y="329.8" width="2.0" height="2.0" fill="#e4f8ff"/>
<rect x="144.5" y="329.8" width="2.0" height="2.0" fill="#d4f3ff"/>
<rect x="146.5" y="329.8" width="2.0" height="2.0" fill="#c6eefe"/>
<rect x="148.5" y="329.8" width="4.0" height="2.0" fill="#b8e7fe"/>
<rect x="152.5" y="329.8" width="2.0" height="2.0" fill="#aae0fd"/>
<rect x="154.5" y="329.8" width="4.0" height="2.0" fill="#9bd8fd"/>
<rect x="158.5" y="329.8" width="2.0" height="2.0" fill="#8ad0fc"/>
<rect x="160.5" y="329.8" width="4.0" height="2.0" fill="#76c6fb"/>
<rect x="164.5" y="329.8" width="4.0" height="2.0" fill="#5fb9fa"/>
<rect x="168.5" y="329.8" width="4.0" height="2.0" fill="#46aaf8"/>
<rect x="172.5" y="329.8" width="4.0" height="2.0" fill="#349ef5"/>
<rect x="176.5" y="329.8" width="4.0" height="2.0" fill="#2a91f2"/>
<rect x="180.5" y="329.8" width="4.0" height="2.0" fill="#2480ee"/>
<rect x="184.5" y="329.8" width="4.0" height="2.0" fill="#1e6ee6"/>
<rect x="188.5" y="329.8" width="4.0" height="2.0" fill="#1955dc"/>
<rect x="192.5" y="329.8" width="4.0" height="2.0" fill="#1648d2"/>
<rect x="196.5" y="329.8" width="6.0" height="2.0" fill="#143cc3"/>
<rect x="202.5" y="329.8" width="18.0" height="2.0" fill="#1432b4"/>
<rect x="220.5" y="329.8" width="6.0" height="2.0" fill="#143cc3"/>
<rect x="226.5" y="329.8" width="6.0" height="2.0" fill="#1648d2"/>
<rect x="232.5" y="329.8" width="2.0" height="2.0" fill="#1955dc"/>
<rect x="234.5" y="329.8" width="2.0" height="2.0" fill="#1e6ee6"/>
<rect x="236.5" y="329.8" width="2.0" height="2.0" fill="#2480ee"/>
<rect x="238.5" y="329.8" width="2.0" height="2.0" fill="#2a91f2"/>
<rect x="240.5" y="329.8" width="2.0" height="2.0" fill="#349ef5"/>
<rect x="242.5" y="329.8" width="2.0" height="2.0" fill="#46aaf8"/>
<rect x="244.5" y="329.8" width="2.0" height="2.0" fill="#5fb9fa"/>
<rect x="246.5" y="329.8" width="2.0" height="2.0" fill="#76c6fb"/>
<rect x="248.5" y="329.8" width="4.0" height="2.0" fill="#8ad0fc"/>
<rect x="252.5" y="329.8" width="6.0" height="2.0" fill="#9bd8fd"/>
<rect x="258.5" y="329.8" width="6.0" height="2.0" fill="#aae0fd"/>
<rect x="264.5" y="329.8" width="14.0" height="2.0" fill="#b8e7fe"/>
<rect x="278.5" y="329.8" width="14.0" height="2.0" fill="#c6eefe"/>
<rect x="292.5" y="329.8" width="6.0" height="2.0" fill="#d4f3ff"/>
<rect x="298.5" y="329.8" width="2.0" height="2.0" fill="#e4f8ff"/>
<rect x="306.5" y="329.8" width="2.0" height="2.0" fill="#fffadc"/>
<rect x="308.5" y="329.8" width="2.0" height="2.0" fill="#fff2be"/>
<rect x="310.5" y="329.8" width="2.0" height="2.0" fill="#ffeaa0"/>
<rect x="312.5" y="329.8" width="2.0" height="2.0" fill="#ffe282"/>
<rect x="314.5" y="329.8" width="2.0" height="2.0" fill="#ffd864"/>
<rect x="316.5" y="329.8" width="2.0" height="2.0" fill="#ffcd46"/>
<rect x="318.5" y="329.8" width="2.0" height="2.0" fill="#ffc02d"/>
<rect x="320.5" y="329.8" width="2.0" height="2.0" fill="#ffa30a"/>
<rect x="322.5" y="329.8" width="2.0" height="2.0" fill="#ff9400"/>
<rect x="324.5" y="329.8" width="2.0" height="2.0" fill="#ff8200"/>
<rect x="326.5" y="329.8" width="2.0" height="2.0" fill="#ff7000"/>
<rect x="328.5" y="329.8" width="2.0" height="2.0" fill="#fc5c00"/>
<rect x="330.5" y="329.8" width="4.0" height="2.0" fill="#f84800"/>
<rect x="334.5" y="329.8" width="4.0" height="2.0" fill="#f43405"/>
<rect x="338.5" y="329.8" width="4.0" height="2.0" fill="#ee240a"/>
<rect x="342.5" y="329.8" width="20.0" height="2.0" fill="#ee180c"/>
<rect x="362.5" y="329.8" width="112.0" height="2.0" fill="#e6100e"/>
<rect x="56.5" y="331.8" width="4.0" height="2.0" fill="#fffadc"/>
<rect x="60.5" y="331.8" width="2.0" height="2.0" fill="#fff2be"/>
<rect x="62.5" y="331.8" width="2.0" height="2.0" fill="#ffeaa0"/>
<rect x="64.5" y="331.8" width="4.0" height="2.0" fill="#ffe282"/>
<rect x="68.5" y="331.8" width="2.0" height="2.0" fill="#ffd864"/>
<rect x="70.5" y="331.8" width="4.0" height="2.0" fill="#ffcd46"/>
<rect x="74.5" y="331.8" width="6.0" height="2.0" fill="#ffc02d"/>
<rect x="80.5" y="331.8" width="4.0" height="2.0" fill="#ffb219"/>
<rect x="84.5" y="331.8" width="4.0" height="2.0" fill="#ffa30a"/>
<rect x="88.5" y="331.8" width="4.0" height="2.0" fill="#ff9400"/>
<rect x="92.5" y="331.8" width="2.0" height="2.0" fill="#ff8200"/>
<rect x="94.5" y="331.8" width="8.0" height="2.0" fill="#ff7000"/>
<rect x="102.5" y="331.8" width="4.0" height="2.0" fill="#ff8200"/>
<rect x="106.5" y="331.8" width="2.0" height="2.0" fill="#ff9400"/>
<rect x="108.5" y="331.8" width="2.0" height="2.0" fill="#ffa30a"/>
<rect x="110.5" y="331.8" width="2.0" height="2.0" fill="#ffb219"/>
<rect x="112.5" y="331.8" width="4.0" height="2.0" fill="#ffc02d"/>
<rect x="116.5" y="331.8" width="4.0" height="2.0" fill="#ffcd46"/>
<rect x="120.5" y="331.8" width="4.0" height="2.0" fill="#ffd864"/>
<rect x="124.5" y="331.8" width="4.0" height="2.0" fill="#ffe282"/>
<rect x="128.5" y="331.8" width="6.0" height="2.0" fill="#ffeaa0"/>
<rect x="134.5" y="331.8" width="2.0" height="2.0" fill="#fff2be"/>
<rect x="136.5" y="331.8" width="2.0" height="2.0" fill="#fffadc"/>
<rect x="144.5" y="331.8" width="2.0" height="2.0" fill="#e4f8ff"/>
<rect x="146.5" y="331.8" width="2.0" height="2.0" fill="#d4f3ff"/>
<rect x="148.5" y="331.8" width="2.0" height="2.0" fill="#c6eefe"/>
<rect x="150.5" y="331.8" width="2.0" height="2.0" fill="#b8e7fe"/>
<rect x="152.5" y="331.8" width="4.0" height="2.0" fill="#aae0fd"/>
<rect x="156.5" y="331.8" width="4.0" height="2.0" fill="#9bd8fd"/>
<rect x="160.5" y="331.8" width="2.0" height="2.0" fill="#8ad0fc"/>
<rect x="162.5" y="331.8" width="4.0" height="2.0" fill="#76c6fb"/>
<rect x="166.5" y="331.8" width="4.0" height="2.0" fill="#5fb9fa"/>
<rect x="170.5" y="331.8" width="4.0" height="2.0" fill="#46aaf8"/>
<rect x="174.5" y="331.8" width="4.0" height="2.0" fill="#349ef5"/>
<rect x="178.5" y="331.8" width="4.0" height="2.0" fill="#2a91f2"/>
<rect x="182.5" y="331.8" width="4.0" height="2.0" fill="#2480ee"/>
<rect x="186.5" y="331.8" width="4.0" height="2.0" fill="#1e6ee6"/>
<rect x="190.5" y="331.8" width="6.0" height="2.0" fill="#1955dc"/>
<rect x="196.5" y="331.8" width="4.0" height="2.0" fill="#1648d2"/>
<rect x="200.5" y="331.8" width="20.0" height="2.0" fill="#143cc3"/>
<rect x="220.5" y="331.8" width="6.0" height="2.0" fill="#1648d2"/>
<rect x="226.5" y="331.8" width="6.0" height="2.0" fill="#1955dc"/>
<rect x="232.5" y="331.8" width="2.0" height="2.0" fill="#1e6ee6"/>
<rect x="234.5" y="331.8" width="2.0" height="2.0" fill="#2480ee"/>
<rect x="236.5" y="331.8" width="2.0" height="2.0" fill="#2a91f2"/>
<rect x="238.5" y="331.8" width="2.0" height="2.0" fill="#349ef5"/>
<rect x="240.5" y="331.8" width="2.0" height="2.0" fill="#46aaf8"/>
<rect x="242.5" y="331.8" width="2.0" height="2.0" fill="#5fb9fa"/>
<rect x="244.5" y="331.8" width="2.0" height="2.0" fill="#76c6fb"/>
<rect x="246.5" y="331.8" width="4.0" height="2.0" fill="#8ad0fc"/>
<rect x="250.5" y="331.8" width="4.0" height="2.0" fill="#9bd8fd"/>
<rect x="254.5" y="331.8" width="8.0" height="2.0" fill="#aae0fd"/>
<rect x="262.5" y="331.8" width="10.0" height="2.0" fill="#b8e7fe"/>
<rect x="272.5" y="331.8" width="14.0" height="2.0" fill="#c6eefe"/>
<rect x="286.5" y="331.8" width="10.0" height="2.0" fill="#d4f3ff"/>
<rect x="296.5" y="331.8" width="4.0" height="2.0" fill="#e4f8ff"/>
<rect x="304.5" y="331.8" width="4.0" height="2.0" fill="#fffadc"/>
<rect x="308.5" y="331.8" width="2.0" height="2.0" fill="#fff2be"/>
<rect x="310.5" y="331.8" width="2.0" height="2.0" fill="#ffeaa0"/>
<rect x="312.5" y="331.8" width="2.0" height="2.0" fill="#ffe282"/>
<rect x="314.5" y="331.8" width="2.0" height="2.0" fill="#ffd864"/>
<rect x="316.5" y="331.8" width="2.0" height="2.0" fill="#ffcd46"/>
<rect x="318.5" y="331.8" width="2.0" height="2.0" fill="#ffb219"/>
<rect x="320.5" y="331.8" width="2.0" height="2.0" fill="#ffa30a"/>
<rect x="322.5" y="331.8" width="2.0" height="2.0" fill="#ff9400"/>
<rect x="324.5" y="331.8" width="2.0" height="2.0" fill="#ff7000"/>
<rect x="326.5" y="331.8" width="4.0" height="2.0" fill="#fc5c00"/>
<rect x="330.5" y="331.8" width="2.0" height="2.0" fill="#f84800"/>
<rect x="332.5" y="331.8" width="4.0" height="2.0" fill="#f43405"/>
<rect x="336.5" y="331.8" width="4.0" height="2.0" fill="#ee240a"/>
<rect x="340.5" y="331.8" width="22.0" height="2.0" fill="#ee180c"/>
<rect x="362.5" y="331.8" width="112.0" height="2.0" fill="#e6100e"/>
<rect x="56.5" y="333.8" width="4.0" height="2.0" fill="#fffadc"/>
<rect x="60.5" y="333.8" width="2.0" height="2.0" fill="#fff2be"/>
<rect x="62.5" y="333.8" width="4.0" height="2.0" fill="#ffeaa0"/>
<rect x="66.5" y="333.8" width="2.0" height="2.0" fill="#ffe282"/>
<rect x="68.5" y="333.8" width="2.0" height="2.0" fill="#ffd864"/>
<rect x="70.5" y="333.8" width="6.0" height="2.0" fill="#ffcd46"/>
<rect x="76.5" y="333.8" width="4.0" height="2.0" fill="#ffc02d"/>
<rect x="80.5" y="333.8" width="6.0" height="2.0" fill="#ffb219"/>
<rect x="86.5" y="333.8" width="2.0" height="2.0" fill="#ffa30a"/>
<rect x="88.5" y="333.8" width="4.0" height="2.0" fill="#ff9400"/>
<rect x="92.5" y="333.8" width="2.0" height="2.0" fill="#ff8200"/>
<rect x="94.5" y="333.8" width="4.0" height="2.0" fill="#ff7000"/>
<rect x="98.5" y="333.8" width="2.0" height="2.0" fill="#fc5c00"/>
<rect x="100.5" y="333.8" width="4.0" height="2.0" fill="#ff7000"/>
<rect x="104.5" y="333.8" width="2.0" height="2.0" fill="#ff8200"/>
<rect x="106.5" y="333.8" width="4.0" height="2.0" fill="#ff9400"/>
<rect x="110.5" y="333.8" width="2.0" height="2.0" fill="#ffa30a"/>
<rect x="112.5" y="333.8" width="2.0" height="2.0" fill="#ffb219"/>
<rect x="114.5" y="333.8" width="4.0" height="2.0" fill="#ffc02d"/>
<rect x="118.5" y="333.8" width="6.0" height="2.0" fill="#ffcd46"/>
<rect x="124.5" y="333.8" width="4.0" height="2.0" fill="#ffd864"/>
<rect x="128.5" y="333.8" width="4.0" height="2.0" fill="#ffe282"/>
<rect x="132.5" y="333.8" width="4.0" height="2.0" fill="#ffeaa0"/>
<rect x="136.5" y="333.8" width="2.0" height="2.0" fill="#fff2be"/>
<rect x="138.5" y="333.8" width="2.0" height="2.0" fill="#fffadc"/>
<rect x="144.5" y="333.8" width="2.0" height="2.0" fill="#e4f8ff"/>
<rect x="146.5" y="333.8" width="2.0" height="2.0" fill="#d4f3ff"/>
<rect x="148.5" y="333.8" width="4.0" height="2.0" fill="#c6eefe"/>
<rect x="152.5" y="333.8" width="2.0" height="2.0" fill="#b8e7fe"/>
<rect x="154.5" y="333.8" width="4.0" height="2.0" fill="#aae0fd"/>
<rect x="158.5" y="333.8" width="4.0" height="2.0" fill="#9bd8fd"/>
<rect x="162.5" y="333.8" width="2.0" height="2.0" fill="#8ad0fc"/>
<rect x="164.5" y="333.8" width="4.0" height="2.0" fill="#76c6fb"/>
<rect x="168.5" y="333.8" width="6.0" height="2.0" fill="#5fb9fa"/>
<rect x="174.5" y="333.8" width="4.0" height="2.0" fill="#46aaf8"/>
<rect x="178.5" y="333.8" width="4.0" height="2.0" fill="#349ef5"/>
<rect x="182.5" y="333.8" width="4.0" height="2.0" fill="#2a91f2"/>
<rect x="186.5" y="333.8" width="6.0" height="2.0" fill="#2480ee"/>
<rect x="192.5" y="333.8" width="4.0" height="2.0" fill="#1e6ee6"/>
<rect x="196.5" y="333.8" width="10.0" height="2.0" fill="#1955dc"/>
<rect x="206.5" y="333.8" width="12.0" height="2.0" fill="#1648d2"/>
<rect x="218.5" y="333.8" width="6.0" height="2.0" fill="#1955dc"/>
<rect x="224.5" y="333.8" width="6.0" height="2.0" fill="#1e6ee6"/>
<rect x="230.5" y="333.8" width="4.0" height="2.0" fill="#2480ee"/>
<rect x="234.5" y="333.8" width="2.0" height="2.0" fill="#2a91f2"/>
<rect x="236.5" y="333.8" width="2.0" height="2.0" fill="#349ef5"/>
<rect x="238.5" y="333.8" width="2.0" height="2.0" fill="#46aaf8"/>
<rect x="240.5" y="333.8" width="2.0" height="2.0" fill="#5fb9fa"/>
<rect x="242.5" y="333.8" width="2.0" height="2.0" fill="#76c6fb"/>
<rect x="244.5" y="333.8" width="2.0" height="2.0" fill="#8ad0fc"/>
<rect x="246.5" y="333.8" width="6.0" height="2.0" fill="#9bd8fd"/>
<rect x="252.5" y="333.8" width="6.0" height="2.0" fill="#aae0fd"/>
<rect x="258.5" y="333.8" width="8.0" height="2.0" fill="#b8e7fe"/>
<rect x="266.5" y="333.8" width="12.0" height="2.0" fill="#c6eefe"/>
<rect x="278.5" y="333.8" width="12.0" height="2.0" fill="#d4f3ff"/>
<rect x="290.5" y="333.8" width="6.0" height="2.0" fill="#e4f8ff"/>
<rect x="302.5" y="333.8" width="4.0" height="2.0" fill="#fffadc"/>
<rect x="306.5" y="333.8" width="2.0" height="2.0" fill="#fff2be"/>
<rect x="308.5" y="333.8" width="4.0" height="2.0" fill="#ffeaa0"/>
<rect x="312.5" y="333.8" width="2.0" height="2.0" fill="#ffe282"/>
<rect x="314.5" y="333.8" width="2.0" height="2.0" fill="#ffcd46"/>
<rect x="316.5" y="333.8" width="2.0" height="2.0" fill="#ffc02d"/>
<rect x="318.5" y="333.8" width="2.0" height="2.0" fill="#ffb219"/>
<rect x="320.5" y="333.8" width="2.0" height="2.0" fill="#ffa30a"/>
<rect x="322.5" y="333.8" width="2.0" height="2.0" fill="#ff9400"/>
<rect x="324.5" y="333.8" width="2.0" height="2.0" fill="#ff7000"/>
<rect x="326.5" y="333.8" width="4.0" height="2.0" fill="#fc5c00"/>
<rect x="330.5" y="333.8" width="2.0" height="2.0" fill="#f84800"/>
<rect x="332.5" y="333.8" width="4.0" height="2.0" fill="#f43405"/>
<rect x="336.5" y="333.8" width="4.0" height="2.0" fill="#ee240a"/>
<rect x="340.5" y="333.8" width="26.0" height="2.0" fill="#ee180c"/>
<rect x="366.5" y="333.8" width="108.0" height="2.0" fill="#e6100e"/>
<rect x="56.5" y="335.8" width="4.0" height="2.0" fill="#fffadc"/>
<rect x="60.5" y="335.8" width="2.0" height="2.0" fill="#fff2be"/>
<rect x="62.5" y="335.8" width="4.0" height="2.0" fill="#ffeaa0"/>
<rect x="66.5" y="335.8" width="2.0" height="2.0" fill="#ffe282"/>
<rect x="68.5" y="335.8" width="4.0" height="2.0" fill="#ffd864"/>
<rect x="72.5" y="335.8" width="6.0" height="2.0" fill="#ffcd46"/>
<rect x="78.5" y="335.8" width="4.0" height="2.0" fill="#ffc02d"/>
<rect x="82.5" y="335.8" width="4.0" height="2.0" fill="#ffb219"/>
<rect x="86.5" y="335.8" width="4.0" height="2.0" fill="#ffa30a"/>
<rect x="90.5" y="335.8" width="2.0" height="2.0" fill="#ff9400"/>
<rect x="92.5" y="335.8" width="4.0" height="2.0" fill="#ff8200"/>
<rect x="96.5" y="335.8" width="2.0" height="2.0" fill="#ff7000"/>
<rect x="98.5" y="335.8" width="6.0" height="2.0" fill="#fc5c00"/>
<rect x="104.5" y="335.8" width="2.0" height="2.0" fill="#ff7000"/>
<rect x="106.5" y="335.8" width="2.0" height="2.0" fill="#ff8200"/>
<rect x="108.5" y="335.8" width="2.0" height="2.0" fill="#ff9400"/>
<rect x="110.5" y="335.8" width="4.0" height="2.0" fill="#ffa30a"/>
<rect x="114.5" y="335.8" width="2.0" height="2.0" fill="#ffb219"/>
<rect x="116.5" y="335.8" width="6.0" height="2.0" fill="#ffc02d"/>
<rect x="122.5" y="335.8" width="4.0" height="2.0" fill="#ffcd46"/>
<rect x="126.5" y="335.8" width="6.0" height="2.0" fill="#ffd864"/>
<rect x="132.5" y="335.8" width="4.0" height="2.0" fill="#ffe282"/>
<rect x="136.5" y="335.8" width="2.0" height="2.0" fill="#ffeaa0"/>
<rect x="138.5" y="335.8" width="2.0" height="2.0" fill="#fff2be"/>
<rect x="140.5" y="335.8" width="2.0" height="2.0" fill="#fffadc"/>
<rect x="146.5" y="335.8" width="2.0" height="2.0" fill="#e4f8ff"/>
<rect x="148.5" y="335.8" width="2.0" height="2.0" fill="#d4f3ff"/>
<rect x="150.5" y="335.8" width="2.0" height="2.0" fill="#c6eefe"/>
<rect x="152.5" y="335.8" width="4.0" height="2.0" fill="#b8e7fe"/>
<rect x="156.5" y="335.8" width="4.0" height="2.0" fill="#aae0fd"/>
<rect x="160.5" y="335.8" width="4.0" height="2.0" fill="#9bd8fd"/>
<rect x="164.5" y="335.8" width="4.0" height="2.0" fill="#8ad0fc"/>
<rect x="168.5" y="335.8" width="4.0" height="2.0" fill="#76c6fb"/>
<rect x="172.5" y="335.8" width="6.0" height="2.0" fill="#5fb9fa"/>
<rect x="178.5" y="335.8" width="4.0" height="2.0" fill="#46aaf8"/>
<rect x="182.5" y="335.8" width="6.0" height="2.0" fill="#349ef5"/>
<rect x="188.5" y="335.8" width="6.0" height="2.0" fill="#2a91f2"/>
<rect x="194.5" y="335.8" width="4.0" height="2.0" fill="#2480ee"/>
<rect x="198.5" y="335.8" width="22.0" height="2.0" fill="#1e6ee6"/>
<rect x="220.5" y="335.8" width="8.0" height="2.0" fill="#2480ee"/>
<rect x="228.5" y="335.8" width="4.0" height="2.0" fill="#2a91f2"/>
<rect x="232.5" y="335.8" width="4.0" height="2.0" fill="#349ef5"/>
<rect x="236.5" y="335.8" width="2.0" height="2.0" fill="#46aaf8"/>
<rect x="238.5" y="335.8" width="2.0" height="2.0" fill="#5fb9fa"/>
<rect x="240.5" y="335.8" width="2.0" height="2.0" fill="#76c6fb"/>
<rect x="242.5" y="335.8" width="2.0" height="2.0" fill="#8ad0fc"/>
<rect x="244.5" y="335.8" width="4.0" height="2.0" fill="#9bd8fd"/>
<rect x="248.5" y="335.8" width="6.0" height="2.0" fill="#aae0fd"/>
<rect x="254.5" y="335.8" width="6.0" height="2.0" fill="#b8e7fe"/>
<rect x="260.5" y="335.8" width="10.0" height="2.0" fill="#c6eefe"/>
<rect x="270.5" y="335.8" width="12.0" height="2.0" fill="#d4f3ff"/>
<rect x="282.5" y="335.8" width="8.0" height="2.0" fill="#e4f8ff"/>
<rect x="300.5" y="335.8" width="4.0" height="2.0" fill="#fffadc"/>
<rect x="304.5" y="335.8" width="2.0" height="2.0" fill="#fff2be"/>
<rect x="306.5" y="335.8" width="4.0" height="2.0" fill="#ffeaa0"/>
<rect x="310.5" y="335.8" width="2.0" height="2.0" fill="#ffe282"/>
<rect x="312.5" y="335.8" width="2.0" height="2.0" fill="#ffd864"/>
<rect x="314.5" y="335.8" width="2.0" height="2.0" fill="#ffcd46"/>
<rect x="316.5" y="335.8" width="2.0" height="2.0" fill="#ffc02d"/>
<rect x="318.5" y="335.8" width="2.0" height="2.0" fill="#ffb219"/>
<rect x="320.5" y="335.8" width="2.0" height="2.0" fill="#ffa30a"/>
<rect x="322.5" y="335.8" width="2.0" height="2.0" fill="#ff9400"/>
<rect x="324.5" y="335.8" width="4.0" height="2.0" fill="#ff7000"/>
<rect x="328.5" y="335.8" width="2.0" height="2.0" fill="#fc5c00"/>
<rect x="330.5" y="335.8" width="4.0" height="2.0" fill="#f84800"/>
<rect x="334.5" y="335.8" width="4.0" height="2.0" fill="#f43405"/>
<rect x="338.5" y="335.8" width="4.0" height="2.0" fill="#ee240a"/>
<rect x="342.5" y="335.8" width="28.0" height="2.0" fill="#ee180c"/>
<rect x="370.5" y="335.8" width="72.0" height="2.0" fill="#e6100e"/>
<rect x="442.5" y="335.8" width="20.0" height="2.0" fill="#ee180c"/>
<rect x="462.5" y="335.8" width="12.0" height="2.0" fill="#e6100e"/>
<rect x="56.5" y="337.8" width="4.0" height="2.0" fill="#fffadc"/>
<rect x="60.5" y="337.8" width="4.0" height="2.0" fill="#fff2be"/>
<rect x="64.5" y="337.8" width="2.0" height="2.0" fill="#ffeaa0"/>
<rect x="66.5" y="337.8" width="4.0" height="2.0" fill="#ffe282"/>
<rect x="70.5" y="337.8" width="4.0" height="2.0" fill="#ffd864"/>
<rect x="74.5" y="337.8" width="6.0" height="2.0" fill="#ffcd46"/>
<rect x="80.5" y="337.8" width="4.0" height="2.0" fill="#ffc02d"/>
<rect x="84.5" y="337.8" width="4.0" height="2.0" fill="#ffb219"/>
<rect x="88.5" y="337.8" width="4.0" height="2.0" fill="#ffa30a"/>
<rect x="92.5" y="337.8" width="2.0" height="2.0" fill="#ff9400"/>
<rect x="94.5" y="337.8" width="2.0" height="2.0" fill="#ff8200"/>
<rect x="96.5" y="337.8" width="4.0" height="2.0" fill="#ff7000"/>
<rect x="100.5" y="337.8" width="4.0" height="2.0" fill="#fc5c00"/>
<rect x="104.5" y="337.8" width="2.0" height="2.0" fill="#ff7000"/>
<rect x="106.5" y="337.8" width="4.0" height="2.0" fill="#ff8200"/>
<rect x="110.5" y="337.8" width="2.0" height="2.0" fill="#ff9400"/>
<rect x="112.5" y="337.8" width="2.0" height="2.0" fill="#ffa30a"/>
<rect x="114.5" y="337.8" width="6.0" height="2.0" fill="#ffb219"/>
<rect x="120.5" y="337.8" width="4.0" height="2.0" fill="#ffc02d"/>
<rect x="124.5" y="337.8" width="6.0" height="2.0" fill="#ffcd46"/>
<rect x="130.5" y="337.8" width="6.0" height="2.0" fill="#ffd864"/>
<rect x="136.5" y="337.8" width="2.0" height="2.0" fill="#ffe282"/>
<rect x="138.5" y="337.8" width="2.0" height="2.0" fill="#ffeaa0"/>
<rect x="140.5" y="337.8" width="2.0" height="2.0" fill="#fff2be"/>
<rect x="142.5" y="337.8" width="2.0" height="2.0" fill="#fffadc"/>
<rect x="148.5" y="337.8" width="2.0" height="2.0" fill="#e4f8ff"/>
<rect x="150.5" y="337.8" width="2.0" height="2.0" fill="#d4f3ff"/>
<rect x="152.5" y="337.8" width="2.0" height="2.0" fill="#c6eefe"/>
<rect x="154.5" y="337.8" width="4.0" height="2.0" fill="#b8e7fe"/>
<rect x="158.5" y="337.8" width="6.0" height="2.0" fill="#aae0fd"/>
<rect x="164.5" y="337.8" width="4.0" height="2.0" fill="#9bd8fd"/>
<rect x="168.5" y="337.8" width="4.0" height="2.0" fill="#8ad0fc"/>
<rect x="172.5" y="337.8" width="6.0" height="2.0" fill="#76c6fb"/>
<rect x="178.5" y="337.8" width="6.0" height="2.0" fill="#5fb9fa"/>
<rect x="184.5" y="337.8" width="6.0" height="2.0" fill="#46aaf8"/>
<rect x="190.5" y="337.8" width="6.0" height="2.0" fill="#349ef5"/>
<rect x="196.5" y="337.8" width="28.0" height="2.0" fill="#2a91f2"/>
<rect x="224.5" y="337.8" width="8.0" height="2.0" fill="#349ef5"/>
<rect x="232.5" y="337.8" width="2.0" height="2.0" fill="#46aaf8"/>
<rect x="234.5" y="337.8" width="4.0" height="2.0" fill="#5fb9fa"/>
<rect x="238.5" y="337.8" width="2.0" height="2.0" fill="#76c6fb"/>
<rect x="240.5" y="337.8" width="2.0" height="2.0" fill="#8ad0fc"/>
<rect x="242.5" y="337.8" width="4.0" height="2.0" fill="#9bd8fd"/>
<rect x="246.5" y="337.8" width="4.0" height="2.0" fill="#aae0fd"/>
<rect x="250.5" y="337.8" width="6.0" height="2.0" fill="#b8e7fe"/>
<rect x="256.5" y="337.8" width="6.0" height="2.0" fill="#c6eefe"/>
<rect x="262.5" y="337.8" width="12.0" height="2.0" fill="#d4f3ff"/>
<rect x="274.5" y="337.8" width="8.0" height="2.0" fill="#e4f8ff"/>
<rect x="296.5" y="337.8" width="4.0" height="2.0" fill="#fffadc"/>
<rect x="300.5" y="337.8" width="4.0" height="2.0" fill="#fff2be"/>
<rect x="304.5" y="337.8" width="2.0" height="2.0" fill="#ffeaa0"/>
<rect x="306.5" y="337.8" width="4.0" height="2.0" fill="#ffe282"/>
<rect x="310.5" y="337.8" width="2.0" height="2.0" fill="#ffd864"/>
<rect x="312.5" y="337.8" width="2.0" height="2.0" fill="#ffcd46"/>
<rect x="314.5" y="337.8" width="2.0" height="2.0" fill="#ffc02d"/>
<rect x="316.5" y="337.8" width="4.0" height="2.0" fill="#ffb219"/>
<rect x="320.5" y="337.8" width="2.0" height="2.0" fill="#ffa30a"/>
<rect x="322.5" y="337.8" width="2.0" height="2.0" fill="#ff9400"/>
<rect x="324.5" y="337.8" width="2.0" height="2.0" fill="#ff8200"/>
<rect x="326.5" y="337.8" width="2.0" height="2.0" fill="#ff7000"/>
<rect x="328.5" y="337.8" width="2.0" height="2.0" fill="#fc5c00"/>
<rect x="330.5" y="337.8" width="4.0" height="2.0" fill="#f84800"/>
<rect x="334.5" y="337.8" width="4.0" height="2.0" fill="#f43405"/>
<rect x="338.5" y="337.8" width="4.0" height="2.0" fill="#ee240a"/>
<rect x="342.5" y="337.8" width="32.0" height="2.0" fill="#ee180c"/>
<rect x="374.5" y="337.8" width="30.0" height="2.0" fill="#e6100e"/>
<rect x="404.5" y="337.8" width="12.0" height="2.0" fill="#ee180c"/>
<rect x="416.5" y="337.8" width="16.0" height="2.0" fill="#e6100e"/>
<rect x="432.5" y="337.8" width="36.0" height="2.0" fill="#ee180c"/>
<rect x="468.5" y="337.8" width="6.0" height="2.0" fill="#e6100e"/>
<rect x="56.5" y="339.8" width="4.0" height="2.0" fill="#fffadc"/>
<rect x="60.5" y="339.8" width="4.0" height="2.0" fill="#fff2be"/>
<rect x="64.5" y="339.8" width="4.0" height="2.0" fill="#ffeaa0"/>
<rect x="68.5" y="339.8" width="4.0" height="2.0" fill="#ffe282"/>
<rect x="72.5" y="339.8" width="4.0" height="2.0" fill="#ffd864"/>
<rect x="76.5" y="339.8" width="6.0" height="2.0" fill="#ffcd46"/>
<rect x="82.5" y="339.8" width="4.0" height="2.0" fill="#ffc02d"/>
<rect x="86.5" y="339.8" width="4.0" height="2.0" fill="#ffb219"/>
<rect x="90.5" y="339.8" width="4.0" height="2.0" fill="#ffa30a"/>
<rect x="94.5" y="339.8" width="2.0" height="2.0" fill="#ff9400"/>
<rect x="96.5" y="339.8" width="2.0" height="2.0" fill="#ff8200"/>
<rect x="98.5" y="339.8" width="10.0" height="2.0" fill="#ff7000"/>
<rect x="108.5" y="339.8" width="2.0" height="2.0" fill="#ff8200"/>
<rect x="110.5" y="339.8" width="4.0" height="2.0" fill="#ff9400"/>
<rect x="114.5" y="339.8" width="4.0" height="2.0" fill="#ffa30a"/>
<rect x="118.5" y="339.8" width="4.0" height="2.0" fill="#ffb219"/>
<rect x="122.5" y="339.8" width="8.0" height="2.0" fill="#ffc02d"/>
<rect x="130.5" y="339.8" width="4.0" height="2.0" fill="#ffcd46"/>
<rect x="134.5" y="339.8" width="4.0" height="2.0" fill="#ffd864"/>
<rect x="138.5" y="339.8" width="2.0" height="2.0" fill="#ffe282"/>
<rect x="140.5" y="339.8" width="2.0" height="2.0" fill="#ffeaa0"/>
<rect x="142.5" y="339.8" width="2.0" height="2.0" fill="#fffadc"/>
<rect x="148.5" y="339.8" width="2.0" height="2.0" fill="#e4f8ff"/>
<rect x="150.5" y="339.8" width="2.0" height="2.0" fill="#d4f3ff"/>
<rect x="152.5" y="339.8" width="6.0" height="2.0" fill="#c6eefe"/>
<rect x="158.5" y="339.8" width="4.0" height="2.0" fill="#b8e7fe"/>
<rect x="162.5" y="339.8" width="4.0" height="2.0" fill="#aae0fd"/>
<rect x="166.5" y="339.8" width="6.0" height="2.0" fill="#9bd8fd"/>
<rect x="172.5" y="339.8" width="6.0" height="2.0" fill="#8ad0fc"/>
<rect x="178.5" y="339.8" width="8.0" height="2.0" fill="#76c6fb"/>
<rect x="186.5" y="339.8" width="6.0" height="2.0" fill="#5fb9fa"/>
<rect x="192.5" y="339.8" width="8.0" height="2.0" fill="#46aaf8"/>
<rect x="200.5" y="339.8" width="14.0" height="2.0" fill="#349ef5"/>
<rect x="214.5" y="339.8" width="14.0" height="2.0" fill="#46aaf8"/>
<rect x="228.5" y="339.8" width="6.0" height="2.0" fill="#5fb9fa"/>
<rect x="234.5" y="339.8" width="2.0" height="2.0" fill="#76c6fb"/>
<rect x="236.5" y="339.8" width="4.0" height="2.0" fill="#8ad0fc"/>
<rect x="240.5" y="339.8" width="2.0" height="2.0" fill="#9bd8fd"/>
<rect x="242.5" y="339.8" width="4.0" height="2.0" fill="#aae0fd"/>
<rect x="246.5" y="339.8" width="4.0" height="2.0" fill="#b8e7fe"/>
<rect x="250.5" y="339.8" width="8.0" height="2.0" fill="#c6eefe"/>
<rect x="258.5" y="339.8" width="8.0" height="2.0" fill="#d4f3ff"/>
<rect x="266.5" y="339.8" width="10.0" height="2.0" fill="#e4f8ff"/>
<rect x="290.5" y="339.8" width="6.0" height="2.0" fill="#fffadc"/>
<rect x="296.5" y="339.8" width="4.0" height="2.0" fill="#fff2be"/>
<rect x="300.5" y="339.8" width="4.0" height="2.0" fill="#ffeaa0"/>
<rect x="304.5" y="339.8" width="4.0" height="2.0" fill="#ffe282"/>
<rect x="308.5" y="339.8" width="4.0" height="2.0" fill="#ffd864"/>
<rect x="312.5" y="339.8" width="2.0" height="2.0" fill="#ffcd46"/>
<rect x="314.5" y="339.8" width="2.0" height="2.0" fill="#ffc02d"/>
<rect x="316.5" y="339.8" width="2.0" height="2.0" fill="#ffb219"/>
<rect x="318.5" y="339.8" width="2.0" height="2.0" fill="#ffa30a"/>
<rect x="320.5" y="339.8" width="4.0" height="2.0" fill="#ff9400"/>
<rect x="324.5" y="339.8" width="2.0" height="2.0" fill="#ff8200"/>
<rect x="326.5" y="339.8" width="2.0" height="2.0" fill="#ff7000"/>
<rect x="328.5" y="339.8" width="4.0" height="2.0" fill="#fc5c00"/>
<rect x="332.5" y="339.8" width="2.0" height="2.0" fill="#f84800"/>
<rect x="334.5" y="339.8" width="4.0" height="2.0" fill="#f43405"/>
<rect x="338.5" y="339.8" width="4.0" height="2.0" fill="#ee240a"/>
<rect x="342.5" y="339.8" width="14.0" height="2.0" fill="#ee180c"/>
<rect x="356.5" y="339.8" width="4.0" height="2.0" fill="#ee240a"/>
<rect x="360.5" y="339.8" width="18.0" height="2.0" fill="#ee180c"/>
<rect x="378.5" y="339.8" width="22.0" height="2.0" fill="#e6100e"/>
<rect x="400.5" y="339.8" width="74.0" height="2.0" fill="#ee180c"/>
<rect x="58.5" y="341.8" width="4.0" height="2.0" fill="#fffadc"/>
<rect x="62.5" y="341.8" width="4.0" height="2.0" fill="#fff2be"/>
<rect x="66.5" y="341.8" width="4.0" height="2.0" fill="#ffeaa0"/>
<rect x="70.5" y="341.8" width="4.0" height="2.0" fill="#ffe282"/>
<rect x="74.5" y="341.8" width="4.0" height="2.0" fill="#ffd864"/>
<rect x="78.5" y="341.8" width="6.0" height="2.0" fill="#ffcd46"/>
<rect x="84.5" y="341.8" width="4.0" height="2.0" fill="#ffc02d"/>
<rect x="88.5" y="341.8" width="4.0" height="2.0" fill="#ffb219"/>
<rect x="92.5" y="341.8" width="4.0" height="2.0" fill="#ffa30a"/>
<rect x="96.5" y="341.8" width="2.0" height="2.0" fill="#ff9400"/>
<rect x="98.5" y="341.8" width="4.0" height="2.0" fill="#ff8200"/>
<rect x="102.5" y="341.8" width="4.0" height="2.0" fill="#ff7000"/>
<rect x="106.5" y="341.8" width="4.0" height="2.0" fill="#ff8200"/>
<rect x="110.5" y="341.8" width="4.0" height="2.0" fill="#ff9400"/>
<rect x="114.5" y="341.8" width="6.0" height="2.0" fill="#ffa30a"/>
<rect x="120.5" y="341.8" width="8.0" height="2.0" fill="#ffb219"/>
<rect x="128.5" y="341.8" width="6.0" height="2.0" fill="#ffc02d"/>
<rect x="134.5" y="341.8" width="4.0" height="2.0" fill="#ffcd46"/>
<rect x="138.5" y="341.8" width="2.0" height="2.0" fill="#ffe282"/>
<rect x="140.5" y="341.8" width="2.0" height="2.0" fill="#ffeaa0"/>
<rect x="142.5" y="341.8" width="2.0" height="2.0" fill="#fff2be"/>
<rect x="144.5" y="341.8" width="2.0" height="2.0" fill="#fffadc"/>
<rect x="150.5" y="341.8" width="2.0" height="2.0" fill="#e4f8ff"/>
<rect x="152.5" y="341.8" width="4.0" height="2.0" fill="#d4f3ff"/>
<rect x="156.5" y="341.8" width="4.0" height="2.0" fill="#c6eefe"/>
<rect x="160.5" y="341.8" width="6.0" height="2.0" fill="#b8e7fe"/>
<rect x="166.5" y="341.8" width="6.0" height="2.0" fill="#aae0fd"/>
<rect x="172.5" y="341.8" width="8.0" height="2.0" fill="#9bd8fd"/>
<rect x="180.5" y="341.8" width="6.0" height="2.0" fill="#8ad0fc"/>
<rect x="186.5" y="341.8" width="8.0" height="2.0" fill="#76c6fb"/>
<rect x="194.5" y="341.8" width="24.0" height="2.0" fill="#5fb9fa"/>
<rect x="218.5" y="341.8" width="14.0" height="2.0" fill="#76c6fb"/>
<rect x="232.5" y="341.8" width="4.0" height="2.0" fill="#8ad0fc"/>
<rect x="236.5" y="341.8" width="4.0" height="2.0" fill="#9bd8fd"/>
<rect x="240.5" y="341.8" width="4.0" height="2.0" fill="#aae0fd"/>
<rect x="244.5" y="341.8" width="4.0" height="2.0" fill="#b8e7fe"/>
<rect x="248.5" y="341.8" width="6.0" height="2.0" fill="#c6eefe"/>
<rect x="254.5" y="341.8" width="6.0" height="2.0" fill="#d4f3ff"/>
<rect x="260.5" y="341.8" width="10.0" height="2.0" fill="#e4f8ff"/>
<rect x="286.5" y="341.8" width="6.0" height="2.0" fill="#fffadc"/>
<rect x="292.5" y="341.8" width="4.0" height="2.0" fill="#fff2be"/>
<rect x="296.5" y="341.8" width="4.0" height="2.0" fill="#ffeaa0"/>
<rect x="300.5" y="341.8" width="4.0" height="2.0" fill="#ffe282"/>
<rect x="304.5" y="341.8" width="4.0" height="2.0" fill="#ffd864"/>
<rect x="308.5" y="341.8" width="4.0" height="2.0" fill="#ffcd46"/>
<rect x="312.5" y="341.8" width="2.0" height="2.0" fill="#ffc02d"/>
<rect x="314.5" y="341.8" width="4.0" height="2.0" fill="#ffb219"/>
<rect x="318.5" y="341.8" width="2.0" height="2.0" fill="#ffa30a"/>
<rect x="320.5" y="341.8" width="4.0" height="2.0" fill="#ff9400"/>
<rect x="324.5" y="341.8" width="2.0" height="2.0" fill="#ff8200"/>
<rect x="326.5" y="341.8" width="2.0" height="2.0" fill="#ff7000"/>
<rect x="328.5" y="341.8" width="4.0" height="2.0" fill="#fc5c00"/>
<rect x="332.5" y="341.8" width="4.0" height="2.0" fill="#f84800"/>
<rect x="336.5" y="341.8" width="2.0" height="2.0" fill="#f43405"/>
<rect x="338.5" y="341.8" width="6.0" height="2.0" fill="#ee240a"/>
<rect x="344.5" y="341.8" width="8.0" height="2.0" fill="#ee180c"/>
<rect x="352.5" y="341.8" width="14.0" height="2.0" fill="#ee240a"/>
<rect x="366.5" y="341.8" width="18.0" height="2.0" fill="#ee180c"/>
<rect x="384.5" y="341.8" width="14.0" height="2.0" fill="#e6100e"/>
<rect x="398.5" y="341.8" width="54.0" height="2.0" fill="#ee180c"/>
<rect x="452.5" y="341.8" width="8.0" height="2.0" fill="#ee240a"/>
<rect x="460.5" y="341.8" width="14.0" height="2.0" fill="#ee180c"/>
<rect x="58.5" y="343.8" width="4.0" height="2.0" fill="#fffadc"/>
<rect x="62.5" y="343.8" width="4.0" height="2.0" fill="#fff2be"/>
<rect x="66.5" y="343.8" width="4.0" height="2.0" fill="#ffeaa0"/>
<rect x="70.5" y="343.8" width="6.0" height="2.0" fill="#ffe282"/>
<rect x="76.5" y="343.8" width="4.0" height="2.0" fill="#ffd864"/>
<rect x="80.5" y="343.8" width="6.0" height="2.0" fill="#ffcd46"/>
<rect x="86.5" y="343.8" width="4.0" height="2.0" fill="#ffc02d"/>
<rect x="90.5" y="343.8" width="4.0" height="2.0" fill="#ffb219"/>
<rect x="94.5" y="343.8" width="4.0" height="2.0" fill="#ffa30a"/>
<rect x="98.5" y="343.8" width="4.0" height="2.0" fill="#ff9400"/>
<rect x="102.5" y="343.8" width="8.0" height="2.0" fill="#ff8200"/>
<rect x="110.5" y="343.8" width="8.0" height="2.0" fill="#ff9400"/>
<rect x="118.5" y="343.8" width="8.0" height="2.0" fill="#ffa30a"/>
<rect x="126.5" y="343.8" width="8.0" height="2.0" fill="#ffb219"/>
<rect x="134.5" y="343.8" width="2.0" height="2.0" fill="#ffc02d"/>
<rect x="136.5" y="343.8" width="2.0" height="2.0" fill="#ffcd46"/>
<rect x="138.5" y="343.8" width="2.0" height="2.0" fill="#ffd864"/>
<rect x="140.5" y="343.8" width="2.0" height="2.0" fill="#ffe282"/>
<rect x="142.5" y="343.8" width="2.0" height="2.0" fill="#ffeaa0"/>
<rect x="144.5" y="343.8" width="2.0" height="2.0" fill="#fff2be"/>
<rect x="150.5" y="343.8" width="4.0" height="2.0" fill="#e4f8ff"/>
<rect x="154.5" y="343.8" width="4.0" height="2.0" fill="#d4f3ff"/>
<rect x="158.5" y="343.8" width="8.0" height="2.0" fill="#c6eefe"/>
<rect x="166.5" y="343.8" width="6.0" height="2.0" fill="#b8e7fe"/>
<rect x="172.5" y="343.8" width="8.0" height="2.0" fill="#aae0fd"/>
<rect x="180.5" y="343.8" width="10.0" height="2.0" fill="#9bd8fd"/>
<rect x="190.5" y="343.8" width="36.0" height="2.0" fill="#8ad0fc"/>
<rect x="226.5" y="343.8" width="8.0" height="2.0" fill="#9bd8fd"/>
<rect x="234.5" y="343.8" width="6.0" height="2.0" fill="#aae0fd"/>
<rect x="240.5" y="343.8" width="4.0" height="2.0" fill="#b8e7fe"/>
<rect x="244.5" y="343.8" width="4.0" height="2.0" fill="#c6eefe"/>
<rect x="248.5" y="343.8" width="8.0" height="2.0" fill="#d4f3ff"/>
<rect x="256.5" y="343.8" width="8.0" height="2.0" fill="#e4f8ff"/>
<rect x="280.5" y="343.8" width="6.0" height="2.0" fill="#fffadc"/>
<rect x="286.5" y="343.8" width="6.0" height="2.0" fill="#fff2be"/>
<rect x="292.5" y="343.8" width="4.0" height="2.0" fill="#ffeaa0"/>
<rect x="296.5" y="343.8" width="4.0" height="2.0" fill="#ffe282"/>
<rect x="300.5" y="343.8" width="6.0" height="2.0" fill="#ffd864"/>
<rect x="306.5" y="343.8" width="4.0" height="2.0" fill="#ffcd46"/>
<rect x="310.5" y="343.8" width="4.0" height="2.0" fill="#ffc02d"/>
<rect x="314.5" y="343.8" width="2.0" height="2.0" fill="#ffb219"/>
<rect x="316.5" y="343.8" width="4.0" height="2.0" fill="#ffa30a"/>
<rect x="320.5" y="343.8" width="4.0" height="2.0" fill="#ff9400"/>
<rect x="324.5" y="343.8" width="2.0" height="2.0" fill="#ff8200"/>
<rect x="326.5" y="343.8" width="4.0" height="2.0" fill="#ff7000"/>
<rect x="330.5" y="343.8" width="2.0" height="2.0" fill="#fc5c00"/>
<rect x="332.5" y="343.8" width="4.0" height="2.0" fill="#f84800"/>
<rect x="336.5" y="343.8" width="4.0" height="2.0" fill="#f43405"/>
<rect x="340.5" y="343.8" width="4.0" height="2.0" fill="#ee240a"/>
<rect x="344.5" y="343.8" width="2.0" height="2.0" fill="#ee180c"/>
<rect x="346.5" y="343.8" width="24.0" height="2.0" fill="#ee240a"/>
<rect x="370.5" y="343.8" width="18.0" height="2.0" fill="#ee180c"/>
<rect x="388.5" y="343.8" width="6.0" height="2.0" fill="#e6100e"/>
<rect x="394.5" y="343.8" width="50.0" height="2.0" fill="#ee180c"/>
<rect x="444.5" y="343.8" width="20.0" height="2.0" fill="#ee240a"/>
<rect x="464.5" y="343.8" width="10.0" height="2.0" fill="#ee180c"/>
<rect x="58.5" y="345.8" width="4.0" height="2.0" fill="#fffadc"/>
<rect x="62.5" y="345.8" width="6.0" height="2.0" fill="#fff2be"/>
<rect x="68.5" y="345.8" width="4.0" height="2.0" fill="#ffeaa0"/>
<rect x="72.5" y="345.8" width="6.0" height="2.0" fill="#ffe282"/>
<rect x="78.5" y="345.8" width="4.0" height="2.0" fill="#ffd864"/>
<rect x="82.5" y="345.8" width="6.0" height="2.0" fill="#ffcd46"/>
<rect x="88.5" y="345.8" width="4.0" height="2.0" fill="#ffc02d"/>
<rect x="92.5" y="345.8" width="4.0" height="2.0" fill="#ffb219"/>
<rect x="96.5" y="345.8" width="4.0" height="2.0" fill="#ffa30a"/>
<rect x="100.5" y="345.8" width="20.0" height="2.0" fill="#ff9400"/>
<rect x="120.5" y="345.8" width="12.0" height="2.0" fill="#ffa30a"/>
<rect x="132.5" y="345.8" width="4.0" height="2.0" fill="#ffb219"/>
<rect x="136.5" y="345.8" width="2.0" height="2.0" fill="#ffc02d"/>
<rect x="138.5" y="345.8" width="2.0" height="2.0" fill="#ffcd46"/>
<rect x="140.5" y="345.8" width="2.0" height="2.0" fill="#ffd864"/>
<rect x="142.5" y="345.8" width="2.0" height="2.0" fill="#ffe282"/>
<rect x="144.5" y="345.8" width="2.0" height="2.0" fill="#fff2be"/>
<rect x="146.5" y="345.8" width="2.0" height="2.0" fill="#fffadc"/>
<rect x="152.5" y="345.8" width="6.0" height="2.0" fill="#e4f8ff"/>
<rect x="158.5" y="345.8" width="6.0" height="2.0" fill="#d4f3ff"/>
<rect x="164.5" y="345.8" width="8.0" height="2.0" fill="#c6eefe"/>
<rect x="172.5" y="345.8" width="10.0" height="2.0" fill="#b8e7fe"/>
<rect x="182.5" y="345.8" width="12.0" height="2.0" fill="#aae0fd"/>
<rect x="194.5" y="345.8" width="14.0" height="2.0" fill="#9bd8fd"/>
<rect x="208.5" y="345.8" width="26.0" height="2.0" fill="#aae0fd"/>
<rect x="234.5" y="345.8" width="4.0" height="2.0" fill="#b8e7fe"/>
<rect x="238.5" y="345.8" width="6.0" height="2.0" fill="#c6eefe"/>
<rect x="244.5" y="345.8" width="6.0" height="2.0" fill="#d4f3ff"/>
<rect x="250.5" y="345.8" width="8.0" height="2.0" fill="#e4f8ff"/>
<rect x="276.5" y="345.8" width="6.0" height="2.0" fill="#fffadc"/>
<rect x="282.5" y="345.8" width="6.0" height="2.0" fill="#fff2be"/>
<rect x="288.5" y="345.8" width="4.0" height="2.0" fill="#ffeaa0"/>
<rect x="292.5" y="345.8" width="6.0" height="2.0" fill="#ffe282"/>
<rect x="298.5" y="345.8" width="4.0" height="2.0" fill="#ffd864"/>
<rect x="302.5" y="345.8" width="4.0" height="2.0" fill="#ffcd46"/>
<rect x="306.5" y="345.8" width="6.0" height="2.0" fill="#ffc02d"/>
<rect x="312.5" y="345.8" width="4.0" height="2.0" fill="#ffb219"/>
<rect x="316.5" y="345.8" width="4.0" height="2.0" fill="#ffa30a"/>
<rect x="320.5" y="345.8" width="4.0" height="2.0" fill="#ff9400"/>
<rect x="324.5" y="345.8" width="2.0" height="2.0" fill="#ff8200"/>
<rect x="326.5" y="345.8" width="4.0" height="2.0" fill="#ff7000"/>
<rect x="330.5" y="345.8" width="4.0" height="2.0" fill="#fc5c00"/>
<rect x="334.5" y="345.8" width="2.0" height="2.0" fill="#f84800"/>
<rect x="336.5" y="345.8" width="4.0" height="2.0" fill="#f43405"/>
<rect x="340.5" y="345.8" width="36.0" height="2.0" fill="#ee240a"/>
<rect x="376.5" y="345.8" width="32.0" height="2.0" fill="#ee180c"/>
<rect x="408.5" y="345.8" width="66.0" height="2.0" fill="#ee240a"/>
<rect x="58.5" y="347.8" width="6.0" height="2.0" fill="#fffadc"/>
<rect x="64.5" y="347.8" width="6.0" height="2.0" fill="#fff2be"/>
<rect x="70.5" y="347.8" width="4.0" height="2.0" fill="#ffeaa0"/>
<rect x="74.5" y="347.8" width="6.0" height="2.0" fill="#ffe282"/>
<rect x="80.5" y="347.8" width="4.0" height="2.0" fill="#ffd864"/>
<rect x="84.5" y="347.8" width="6.0" height="2.0" fill="#ffcd46"/>
<rect x="90.5" y="347.8" width="6.0" height="2.0" fill="#ffc02d"/>
<rect x="96.5" y="347.8" width="4.0" height="2.0" fill="#ffb219"/>
<rect x="100.5" y="347.8" width="6.0" height="2.0" fill="#ffa30a"/>
<rect x="106.5" y="347.8" width="16.0" height="2.0" fill="#ff9400"/>
<rect x="122.5" y="347.8" width="12.0" height="2.0" fill="#ffa30a"/>
<rect x="134.5" y="347.8" width="4.0" height="2.0" fill="#ffb219"/>
<rect x="138.5" y="347.8" width="2.0" height="2.0" fill="#ffc02d"/>
<rect x="140.5" y="347.8" width="2.0" height="2.0" fill="#ffcd46"/>
<rect x="142.5" y="347.8" width="2.0" height="2.0" fill="#ffe282"/>
<rect x="144.5" y="347.8" width="2.0" height="2.0" fill="#ffeaa0"/>
<rect x="146.5" y="347.8" width="2.0" height="2.0" fill="#fff2be"/>
<rect x="148.5" y="347.8" width="2.0" height="2.0" fill="#fffadc"/>
<rect x="158.5" y="347.8" width="6.0" height="2.0" fill="#e4f8ff"/>
<rect x="164.5" y="347.8" width="10.0" height="2.0" fill="#d4f3ff"/>
<rect x="174.5" y="347.8" width="12.0" height="2.0" fill="#c6eefe"/>
<rect x="186.5" y="347.8" width="36.0" height="2.0" fill="#b8e7fe"/>
<rect x="222.5" y="347.8" width="16.0" height="2.0" fill="#c6eefe"/>
<rect x="238.5" y="347.8" width="8.0" height="2.0" fill="#d4f3ff"/>
<rect x="246.5" y="347.8" width="8.0" height="2.0" fill="#e4f8ff"/>
<rect x="272.5" y="347.8" width="8.0" height="2.0" fill="#fffadc"/>
<rect x="280.5" y="347.8" width="6.0" height="2.0" fill="#fff2be"/>
<rect x="286.5" y="347.8" width="4.0" height="2.0" fill="#ffeaa0"/>
<rect x="290.5" y="347.8" width="4.0" height="2.0" fill="#ffe282"/>
<rect x="294.5" y="347.8" width="6.0" height="2.0" fill="#ffd864"/>
<rect x="300.5" y="347.8" width="4.0" height="2.0" fill="#ffcd46"/>
<rect x="304.5" y="347.8" width="6.0" height="2.0" fill="#ffc02d"/>
<rect x="310.5" y="347.8" width="4.0" height="2.0" fill="#ffb219"/>
<rect x="314.5" y="347.8" width="4.0" height="2.0" fill="#ffa30a"/>
<rect x="318.5" y="347.8" width="6.0" height="2.0" fill="#ff9400"/>
<rect x="324.5" y="347.8" width="4.0" height="2.0" fill="#ff8200"/>
<rect x="328.5" y="347.8" width="4.0" height="2.0" fill="#ff7000"/>
<rect x="332.5" y="347.8" width="2.0" height="2.0" fill="#fc5c00"/>
<rect x="334.5" y="347.8" width="4.0" height="2.0" fill="#f84800"/>
<rect x="338.5" y="347.8" width="4.0" height="2.0" fill="#f43405"/>
<rect x="342.5" y="347.8" width="10.0" height="2.0" fill="#ee240a"/>
<rect x="352.5" y="347.8" width="16.0" height="2.0" fill="#f43405"/>
<rect x="368.5" y="347.8" width="18.0" height="2.0" fill="#ee240a"/>
<rect x="386.5" y="347.8" width="10.0" height="2.0" fill="#ee180c"/>
<rect x="396.5" y="347.8" width="42.0" height="2.0" fill="#ee240a"/>
<rect x="438.5" y="347.8" width="34.0" height="2.0" fill="#f43405"/>
<rect x="472.5" y="347.8" width="2.0" height="2.0" fill="#ee240a"/>
<rect x="56.5" y="349.8" width="8.0" height="2.0" fill="#fffadc"/>
<rect x="64.5" y="349.8" width="8.0" height="2.0" fill="#fff2be"/>
<rect x="72.5" y="349.8" width="6.0" height="2.0" fill="#ffeaa0"/>
<rect x="78.5" y="349.8" width="6.0" height="2.0" fill="#ffe282"/>
<rect x="84.5" y="349.8" width="4.0" height="2.0" fill="#ffd864"/>
<rect x="88.5" y="349.8" width="6.0" height="2.0" fill="#ffcd46"/>
<rect x="94.5" y="349.8" width="6.0" height="2.0" fill="#ffc02d"/>
<rect x="100.5" y="349.8" width="6.0" height="2.0" fill="#ffb219"/>
<rect x="106.5" y="349.8" width="30.0" height="2.0" fill="#ffa30a"/>
<rect x="136.5" y="349.8" width="2.0" height="2.0" fill="#ffb219"/>
<rect x="138.5" y="349.8" width="2.0" height="2.0" fill="#ffc02d"/>
<rect x="140.5" y="349.8" width="2.0" height="2.0" fill="#ffcd46"/>
<rect x="142.5" y="349.8" width="2.0" height="2.0" fill="#ffd864"/>
<rect x="144.5" y="349.8" width="2.0" height="2.0" fill="#ffe282"/>
<rect x="146.5" y="349.8" width="2.0" height="2.0" fill="#ffeaa0"/>
<rect x="148.5" y="349.8" width="2.0" height="2.0" fill="#fff2be"/>
<rect x="150.5" y="349.8" width="2.0" height="2.0" fill="#fffadc"/>
<rect x="166.5" y="349.8" width="12.0" height="2.0" fill="#e4f8ff"/>
<rect x="178.5" y="349.8" width="14.0" height="2.0" fill="#d4f3ff"/>
<rect x="192.5" y="349.8" width="16.0" height="2.0" fill="#c6eefe"/>
<rect x="208.5" y="349.8" width="28.0" height="2.0" fill="#d4f3ff"/>
<rect x="236.5" y="349.8" width="12.0" height="2.0" fill="#e4f8ff"/>
<rect x="266.5" y="349.8" width="14.0" height="2.0" fill="#fffadc"/>
<rect x="280.5" y="349.8" width="4.0" height="2.0" fill="#fff2be"/>
<rect x="284.5" y="349.8" width="6.0" height="2.0" fill="#ffeaa0"/>
<rect x="290.5" y="349.8" width="4.0" height="2.0" fill="#ffe282"/>
<rect x="294.5" y="349.8" width="4.0" height="2.0" fill="#ffd864"/>
<rect x="298.5" y="349.8" width="6.0" height="2.0" fill="#ffcd46"/>
<rect x="304.5" y="349.8" width="6.0" height="2.0" fill="#ffc02d"/>
<rect x="310.5" y="349.8" width="4.0" height="2.0" fill="#ffb219"/>
<rect x="314.5" y="349.8" width="4.0" height="2.0" fill="#ffa30a"/>
<rect x="318.5" y="349.8" width="6.0" height="2.0" fill="#ff9400"/>
<rect x="324.5" y="349.8" width="4.0" height="2.0" fill="#ff8200"/>
<rect x="328.5" y="349.8" width="4.0" height="2.0" fill="#ff7000"/>
<rect x="332.5" y="349.8" width="4.0" height="2.0" fill="#fc5c00"/>
<rect x="336.5" y="349.8" width="4.0" height="2.0" fill="#f84800"/>
<rect x="340.5" y="349.8" width="18.0" height="2.0" fill="#f43405"/>
<rect x="358.5" y="349.8" width="6.0" height="2.0" fill="#f84800"/>
<rect x="364.5" y="349.8" width="20.0" height="2.0" fill="#f43405"/>
<rect x="384.5" y="349.8" width="14.0" height="2.0" fill="#ee240a"/>
<rect x="398.5" y="349.8" width="26.0" height="2.0" fill="#f43405"/>
<rect x="424.5" y="349.8" width="50.0" height="2.0" fill="#f84800"/>
<rect x="54.5" y="351.8" width="12.0" height="2.0" fill="#fffadc"/>
<rect x="66.5" y="351.8" width="8.0" height="2.0" fill="#fff2be"/>
<rect x="74.5" y="351.8" width="8.0" height="2.0" fill="#ffeaa0"/>
<rect x="82.5" y="351.8" width="6.0" height="2.0" fill="#ffe282"/>
<rect x="88.5" y="351.8" width="6.0" height="2.0" fill="#ffd864"/>
<rect x="94.5" y="351.8" width="6.0" height="2.0" fill="#ffcd46"/>
<rect x="100.5" y="351.8" width="8.0" height="2.0" fill="#ffc02d"/>
<rect x="108.5" y="351.8" width="8.0" height="2.0" fill="#ffb219"/>
<rect x="116.5" y="351.8" width="20.0" height="2.0" fill="#ffa30a"/>
<rect x="136.5" y="351.8" width="2.0" height="2.0" fill="#ffb219"/>
<rect x="138.5" y="351.8" width="4.0" height="2.0" fill="#ffc02d"/>
<rect x="142.5" y="351.8" width="2.0" height="2.0" fill="#ffcd46"/>
<rect x="144.5" y="351.8" width="2.0" height="2.0" fill="#ffd864"/>
<rect x="146.5" y="351.8" width="2.0" height="2.0" fill="#ffe282"/>
<rect x="148.5" y="351.8" width="2.0" height="2.0" fill="#ffeaa0"/>
<rect x="150.5" y="351.8" width="4.0" height="2.0" fill="#fff2be"/>
<rect x="154.5" y="351.8" width="6.0" height="2.0" fill="#fffadc"/>
<rect x="182.5" y="351.8" width="48.0" height="2.0" fill="#e4f8ff"/>
<rect x="260.5" y="351.8" width="20.0" height="2.0" fill="#fffadc"/>
<rect x="280.5" y="351.8" width="4.0" height="2.0" fill="#fff2be"/>
<rect x="284.5" y="351.8" width="6.0" height="2.0" fill="#ffeaa0"/>
<rect x="290.5" y="351.8" width="4.0" height="2.0" fill="#ffe282"/>
<rect x="294.5" y="351.8" width="4.0" height="2.0" fill="#ffd864"/>
<rect x="298.5" y="351.8" width="6.0" height="2.0" fill="#ffcd46"/>
<rect x="304.5" y="351.8" width="4.0" height="2.0" fill="#ffc02d"/>
<rect x="308.5" y="351.8" width="6.0" height="2.0" fill="#ffb219"/>
<rect x="314.5" y="351.8" width="6.0" height="2.0" fill="#ffa30a"/>
<rect x="320.5" y="351.8" width="4.0" height="2.0" fill="#ff9400"/>
<rect x="324.5" y="351.8" width="4.0" height="2.0" fill="#ff8200"/>
<rect x="328.5" y="351.8" width="6.0" height="2.0" fill="#ff7000"/>
<rect x="334.5" y="351.8" width="4.0" height="2.0" fill="#fc5c00"/>
<rect x="338.5" y="351.8" width="46.0" height="2.0" fill="#f84800"/>
<rect x="384.5" y="351.8" width="14.0" height="2.0" fill="#f43405"/>
<rect x="398.5" y="351.8" width="18.0" height="2.0" fill="#f84800"/>
<rect x="416.5" y="351.8" width="28.0" height="2.0" fill="#fc5c00"/>
<rect x="444.5" y="351.8" width="20.0" height="2.0" fill="#ff7000"/>
<rect x="464.5" y="351.8" width="10.0" height="2.0" fill="#fc5c00"/>
<rect x="48.5" y="353.8" width="20.0" height="2.0" fill="#fffadc"/>
<rect x="68.5" y="353.8" width="10.0" height="2.0" fill="#fff2be"/>
<rect x="78.5" y="353.8" width="10.0" height="2.0" fill="#ffeaa0"/>
<rect x="88.5" y="353.8" width="6.0" height="2.0" fill="#ffe282"/>
<rect x="94.5" y="353.8" width="8.0" height="2.0" fill="#ffd864"/>
<rect x="102.5" y="353.8" width="6.0" height="2.0" fill="#ffcd46"/>
<rect x="108.5" y="353.8" width="6.0" height="2.0" fill="#ffc02d"/>
<rect x="114.5" y="353.8" width="6.0" height="2.0" fill="#ffb219"/>
<rect x="120.5" y="353.8" width="16.0" height="2.0" fill="#ffa30a"/>
<rect x="136.5" y="353.8" width="4.0" height="2.0" fill="#ffb219"/>
<rect x="140.5" y="353.8" width="2.0" height="2.0" fill="#ffc02d"/>
<rect x="142.5" y="353.8" width="4.0" height="2.0" fill="#ffcd46"/>
<rect x="146.5" y="353.8" width="2.0" height="2.0" fill="#ffd864"/>
<rect x="148.5" y="353.8" width="2.0" height="2.0" fill="#ffe282"/>
<rect x="150.5" y="353.8" width="6.0" height="2.0" fill="#ffeaa0"/>
<rect x="156.5" y="353.8" width="8.0" height="2.0" fill="#fff2be"/>
<rect x="164.5" y="353.8" width="10.0" height="2.0" fill="#fffadc"/>
<rect x="256.5" y="353.8" width="24.0" height="2.0" fill="#fffadc"/>
<rect x="280.5" y="353.8" width="6.0" height="2.0" fill="#fff2be"/>
<rect x="286.5" y="353.8" width="4.0" height="2.0" fill="#ffeaa0"/>
<rect x="290.5" y="353.8" width="4.0" height="2.0" fill="#ffe282"/>
<rect x="294.5" y="353.8" width="6.0" height="2.0" fill="#ffd864"/>
<rect x="300.5" y="353.8" width="4.0" height="2.0" fill="#ffcd46"/>
<rect x="304.5" y="353.8" width="6.0" height="2.0" fill="#ffc02d"/>
<rect x="310.5" y="353.8" width="4.0" height="2.0" fill="#ffb219"/>
<rect x="314.5" y="353.8" width="6.0" height="2.0" fill="#ffa30a"/>
<rect x="320.5" y="353.8" width="4.0" height="2.0" fill="#ff9400"/>
<rect x="324.5" y="353.8" width="6.0" height="2.0" fill="#ff8200"/>
<rect x="330.5" y="353.8" width="6.0" height="2.0" fill="#ff7000"/>
<rect x="336.5" y="353.8" width="6.0" height="2.0" fill="#fc5c00"/>
<rect x="342.5" y="353.8" width="6.0" height="2.0" fill="#f84800"/>
<rect x="348.5" y="353.8" width="38.0" height="2.0" fill="#fc5c00"/>
<rect x="386.5" y="353.8" width="10.0" height="2.0" fill="#f84800"/>
<rect x="396.5" y="353.8" width="14.0" height="2.0" fill="#fc5c00"/>
<rect x="410.5" y="353.8" width="20.0" height="2.0" fill="#ff7000"/>
<rect x="430.5" y="353.8" width="44.0" height="2.0" fill="#ff8200"/>
<rect x="48.5" y="355.8" width="26.0" height="2.0" fill="#fffadc"/>
<rect x="74.5" y="355.8" width="12.0" height="2.0" fill="#fff2be"/>
<rect x="86.5" y="355.8" width="8.0" height="2.0" fill="#ffeaa0"/>
<rect x="94.5" y="355.8" width="8.0" height="2.0" fill="#ffe282"/>
<rect x="102.5" y="355.8" width="6.0" height="2.0" fill="#ffd864"/>
<rect x="108.5" y="355.8" width="4.0" height="2.0" fill="#ffcd46"/>
<rect x="112.5" y="355.8" width="4.0" height="2.0" fill="#ffc02d"/>
<rect x="116.5" y="355.8" width="10.0" height="2.0" fill="#ffb219"/>
<rect x="126.5" y="355.8" width="10.0" height="2.0" fill="#ffa30a"/>
<rect x="136.5" y="355.8" width="4.0" height="2.0" fill="#ffb219"/>
<rect x="140.5" y="355.8" width="4.0" height="2.0" fill="#ffc02d"/>
<rect x="144.5" y="355.8" width="4.0" height="2.0" fill="#ffcd46"/>
<rect x="148.5" y="355.8" width="4.0" height="2.0" fill="#ffd864"/>
<rect x="152.5" y="355.8" width="6.0" height="2.0" fill="#ffe282"/>
<rect x="158.5" y="355.8" width="8.0" height="2.0" fill="#ffeaa0"/>
<rect x="166.5" y="355.8" width="12.0" height="2.0" fill="#fff2be"/>
<rect x="178.5" y="355.8" width="66.0" height="2.0" fill="#fffadc"/>
<rect x="250.5" y="355.8" width="10.0" height="2.0" fill="#fffadc"/>
<rect x="260.5" y="355.8" width="14.0" height="2.0" fill="#fff2be"/>
<rect x="274.5" y="355.8" width="6.0" height="2.0" fill="#fffadc"/>
<rect x="280.5" y="355.8" width="6.0" height="2.0" fill="#fff2be"/>
<rect x="286.5" y="355.8" width="4.0" height="2.0" fill="#ffeaa0"/>
<rect x="290.5" y="355.8" width="4.0" height="2.0" fill="#ffe282"/>
<rect x="294.5" y="355.8" width="6.0" height="2.0" fill="#ffd864"/>
<rect x="300.5" y="355.8" width="4.0" height="2.0" fill="#ffcd46"/>
<rect x="304.5" y="355.8" width="6.0" height="2.0" fill="#ffc02d"/>
<rect x="310.5" y="355.8" width="4.0" height="2.0" fill="#ffb219"/>
<rect x="314.5" y="355.8" width="6.0" height="2.0" fill="#ffa30a"/>
<rect x="320.5" y="355.8" width="6.0" height="2.0" fill="#ff9400"/>
<rect x="326.5" y="355.8" width="6.0" height="2.0" fill="#ff8200"/>
<rect x="332.5" y="355.8" width="8.0" height="2.0" fill="#ff7000"/>
<rect x="340.5" y="355.8" width="10.0" height="2.0" fill="#fc5c00"/>
<rect x="350.5" y="355.8" width="36.0" height="2.0" fill="#ff7000"/>
<rect x="386.5" y="355.8" width="10.0" height="2.0" fill="#fc5c00"/>
<rect x="396.5" y="355.8" width="12.0" height="2.0" fill="#ff7000"/>
<rect x="408.5" y="355.8" width="14.0" height="2.0" fill="#ff8200"/>
<rect x="422.5" y="355.8" width="16.0" height="2.0" fill="#ff9400"/>
<rect x="438.5" y="355.8" width="22.0" height="2.0" fill="#ffa30a"/>
<rect x="460.5" y="355.8" width="14.0" height="2.0" fill="#ff9400"/>
<rect x="48.5" y="357.8" width="34.0" height="2.0" fill="#fffadc"/>
<rect x="82.5" y="357.8" width="12.0" height="2.0" fill="#fff2be"/>
<rect x="94.5" y="357.8" width="10.0" height="2.0" fill="#ffeaa0"/>
<rect x="104.5" y="357.8" width="4.0" height="2.0" fill="#ffe282"/>
<rect x="108.5" y="357.8" width="4.0" height="2.0" fill="#ffd864"/>
<rect x="112.5" y="357.8" width="4.0" height="2.0" fill="#ffcd46"/>
<rect x="116.5" y="357.8" width="4.0" height="2.0" fill="#ffc02d"/>
<rect x="120.5" y="357.8" width="10.0" height="2.0" fill="#ffb219"/>
<rect x="130.5" y="357.8" width="8.0" height="2.0" fill="#ffa30a"/>
<rect x="138.5" y="357.8" width="6.0" height="2.0" fill="#ffb219"/>
<rect x="144.5" y="357.8" width="4.0" height="2.0" fill="#ffc02d"/>
<rect x="148.5" y="357.8" width="6.0" height="2.0" fill="#ffcd46"/>
<rect x="154.5" y="357.8" width="6.0" height="2.0" fill="#ffd864"/>
<rect x="160.5" y="357.8" width="8.0" height="2.0" fill="#ffe282"/>
<rect x="168.5" y="357.8" width="22.0" height="2.0" fill="#ffeaa0"/>
<rect x="190.5" y="357.8" width="30.0" height="2.0" fill="#fff2be"/>
<rect x="220.5" y="357.8" width="14.0" height="2.0" fill="#ffeaa0"/>
<rect x="234.5" y="357.8" width="8.0" height="2.0" fill="#fff2be"/>
<rect x="242.5" y="357.8" width="12.0" height="2.0" fill="#fffadc"/>
<rect x="254.5" y="357.8" width="22.0" height="2.0" fill="#fff2be"/>
<rect x="276.5" y="357.8" width="4.0" height="2.0" fill="#fffadc"/>
<rect x="280.5" y="357.8" width="6.0" height="2.0" fill="#fff2be"/>
<rect x="286.5" y="357.8" width="4.0" height="2.0" fill="#ffeaa0"/>
<rect x="290.5" y="357.8" width="4.0" height="2.0" fill="#ffe282"/>
<rect x="294.5" y="357.8" width="6.0" height="2.0" fill="#ffd864"/>
<rect x="300.5" y="357.8" width="4.0" height="2.0" fill="#ffcd46"/>
<rect x="304.5" y="357.8" width="6.0" height="2.0" fill="#ffc02d"/>
<rect x="310.5" y="357.8" width="4.0" height="2.0" fill="#ffb219"/>
<rect x="314.5" y="357.8" width="6.0" height="2.0" fill="#ffa30a"/>
<rect x="320.5" y="357.8" width="6.0" height="2.0" fill="#ff9400"/>
<rect x="326.5" y="357.8" width="10.0" height="2.0" fill="#ff8200"/>
<rect x="336.5" y="357.8" width="18.0" height="2.0" fill="#ff7000"/>
<rect x="354.5" y="357.8" width="34.0" height="2.0" fill="#ff8200"/>
<rect x="388.5" y="357.8" width="6.0" height="2.0" fill="#ff7000"/>
<rect x="394.5" y="357.8" width="12.0" height="2.0" fill="#ff8200"/>
<rect x="406.5" y="357.8" width="12.0" height="2.0" fill="#ff9400"/>
<rect x="418.5" y="357.8" width="12.0" height="2.0" fill="#ffa30a"/>
<rect x="430.5" y="357.8" width="44.0" height="2.0" fill="#ffb219"/>
<rect x="48.5" y="359.8" width="46.0" height="2.0" fill="#fffadc"/>
<rect x="94.5" y="359.8" width="10.0" height="2.0" fill="#fff2be"/>
<rect x="104.5" y="359.8" width="4.0" height="2.0" fill="#ffeaa0"/>
<rect x="108.5" y="359.8" width="2.0" height="2.0" fill="#ffe282"/>
<rect x="110.5" y="359.8" width="4.0" height="2.0" fill="#ffd864"/>
<rect x="114.5" y="359.8" width="4.0" height="2.0" fill="#ffcd46"/>
<rect x="118.5" y="359.8" width="4.0" height="2.0" fill="#ffc02d"/>
<rect x="122.5" y="359.8" width="10.0" height="2.0" fill="#ffb219"/>
<rect x="132.5" y="359.8" width="8.0" height="2.0" fill="#ffa30a"/>
<rect x="140.5" y="359.8" width="10.0" height="2.0" fill="#ffb219"/>
<rect x="150.5" y="359.8" width="6.0" height="2.0" fill="#ffc02d"/>
<rect x="156.5" y="359.8" width="6.0" height="2.0" fill="#ffcd46"/>
<rect x="162.5" y="359.8" width="10.0" height="2.0" fill="#ffd864"/>
<rect x="172.5" y="359.8" width="64.0" height="2.0" fill="#ffe282"/>
<rect x="236.5" y="359.8" width="6.0" height="2.0" fill="#ffeaa0"/>
<rect x="242.5" y="359.8" width="16.0" height="2.0" fill="#fff2be"/>
<rect x="258.5" y="359.8" width="10.0" height="2.0" fill="#ffeaa0"/>
<rect x="268.5" y="359.8" width="8.0" height="2.0" fill="#fff2be"/>
<rect x="276.5" y="359.8" width="4.0" height="2.0" fill="#fffadc"/>
<rect x="280.5" y="359.8" width="6.0" height="2.0" fill="#fff2be"/>
<rect x="286.5" y="359.8" width="4.0" height="2.0" fill="#ffeaa0"/>
<rect x="290.5" y="359.8" width="6.0" height="2.0" fill="#ffe282"/>
<rect x="296.5" y="359.8" width="4.0" height="2.0" fill="#ffd864"/>
<rect x="300.5" y="359.8" width="4.0" height="2.0" fill="#ffcd46"/>
<rect x="304.5" y="359.8" width="6.0" height="2.0" fill="#ffc02d"/>
<rect x="310.5" y="359.8" width="4.0" height="2.0" fill="#ffb219"/>
<rect x="314.5" y="359.8" width="6.0" height="2.0" fill="#ffa30a"/>
<rect x="320.5" y="359.8" width="8.0" height="2.0" fill="#ff9400"/>
<rect x="328.5" y="359.8" width="28.0" height="2.0" fill="#ff8200"/>
<rect x="356.5" y="359.8" width="32.0" height="2.0" fill="#ff9400"/>
<rect x="388.5" y="359.8" width="6.0" height="2.0" fill="#ff8200"/>
<rect x="394.5" y="359.8" width="12.0" height="2.0" fill="#ff9400"/>
<rect x="406.5" y="359.8" width="10.0" height="2.0" fill="#ffa30a"/>
<rect x="416.5" y="359.8" width="10.0" height="2.0" fill="#ffb219"/>
<rect x="426.5" y="359.8" width="10.0" height="2.0" fill="#ffc02d"/>
<rect x="436.5" y="359.8" width="14.0" height="2.0" fill="#ffcd46"/>
<rect x="450.5" y="359.8" width="24.0" height="2.0" fill="#ffc02d"/>
<rect x="48.5" y="361.8" width="20.0" height="2.0" fill="#fffadc"/>
<rect x="92.5" y="361.8" width="12.0" height="2.0" fill="#fffadc"/>
<rect x="104.5" y="361.8" width="2.0" height="2.0" fill="#fff2be"/>
<rect x="106.5" y="361.8" width="4.0" height="2.0" fill="#ffeaa0"/>
<rect x="110.5" y="361.8" width="2.0" height="2.0" fill="#ffe282"/>
<rect x="112.5" y="361.8" width="4.0" height="2.0" fill="#ffd864"/>
<rect x="116.5" y="361.8" width="4.0" height="2.0" fill="#ffcd46"/>
<rect x="120.5" y="361.8" width="6.0" height="2.0" fill="#ffc02d"/>
<rect x="126.5" y="361.8" width="6.0" height="2.0" fill="#ffb219"/>
<rect x="132.5" y="361.8" width="16.0" height="2.0" fill="#ffa30a"/>
<rect x="148.5" y="361.8" width="8.0" height="2.0" fill="#ffb219"/>
<rect x="156.5" y="361.8" width="8.0" height="2.0" fill="#ffc02d"/>
<rect x="164.5" y="361.8" width="12.0" height="2.0" fill="#ffcd46"/>
<rect x="176.5" y="361.8" width="60.0" height="2.0" fill="#ffd864"/>
<rect x="236.5" y="361.8" width="6.0" height="2.0" fill="#ffe282"/>
<rect x="242.5" y="361.8" width="4.0" height="2.0" fill="#ffeaa0"/>
<rect x="246.5" y="361.8" width="6.0" height="2.0" fill="#fff2be"/>
<rect x="252.5" y="361.8" width="18.0" height="2.0" fill="#ffeaa0"/>
<rect x="270.5" y="361.8" width="6.0" height="2.0" fill="#fff2be"/>
<rect x="276.5" y="361.8" width="6.0" height="2.0" fill="#fffadc"/>
<rect x="282.5" y="361.8" width="4.0" height="2.0" fill="#fff2be"/>
<rect x="286.5" y="361.8" width="6.0" height="2.0" fill="#ffeaa0"/>
<rect x="292.5" y="361.8" width="4.0" height="2.0" fill="#ffe282"/>
<rect x="296.5" y="361.8" width="4.0" height="2.0" fill="#ffd864"/>
<rect x="300.5" y="361.8" width="6.0" height="2.0" fill="#ffcd46"/>
<rect x="306.5" y="361.8" width="4.0" height="2.0" fill="#ffc02d"/>
<rect x="310.5" y="361.8" width="6.0" height="2.0" fill="#ffb219"/>
<rect x="316.5" y="361.8" width="6.0" height="2.0" fill="#ffa30a"/>
<rect x="322.5" y="361.8" width="34.0" height="2.0" fill="#ff9400"/>
<rect x="356.5" y="361.8" width="48.0" height="2.0" fill="#ffa30a"/>
<rect x="404.5" y="361.8" width="10.0" height="2.0" fill="#ffb219"/>
<rect x="414.5" y="361.8" width="8.0" height="2.0" fill="#ffc02d"/>
<rect x="422.5" y="361.8" width="10.0" height="2.0" fill="#ffcd46"/>
<rect x="432.5" y="361.8" width="42.0" height="2.0" fill="#ffd864"/>
<rect x="48.5" y="363.8" width="18.0" height="2.0" fill="#fffadc"/>
<rect x="100.5" y="363.8" width="6.0" height="2.0" fill="#fffadc"/>
<rect x="106.5" y="363.8" width="2.0" height="2.0" fill="#fff2be"/>
<rect x="108.5" y="363.8" width="4.0" height="2.0" fill="#ffeaa0"/>
<rect x="112.5" y="363.8" width="2.0" height="2.0" fill="#ffe282"/>
<rect x="114.5" y="363.8" width="4.0" height="2.0" fill="#ffd864"/>
<rect x="118.5" y="363.8" width="4.0" height="2.0" fill="#ffcd46"/>
<rect x="122.5" y="363.8" width="6.0" height="2.0" fill="#ffc02d"/>
<rect x="128.5" y="363.8" width="6.0" height="2.0" fill="#ffb219"/>
<rect x="134.5" y="363.8" width="20.0" height="2.0" fill="#ffa30a"/>
<rect x="154.5" y="363.8" width="8.0" height="2.0" fill="#ffb219"/>
<rect x="162.5" y="363.8" width="6.0" height="2.0" fill="#ffc02d"/>
<rect x="168.5" y="363.8" width="68.0" height="2.0" fill="#ffcd46"/>
<rect x="236.5" y="363.8" width="4.0" height="2.0" fill="#ffd864"/>
<rect x="240.5" y="363.8" width="4.0" height="2.0" fill="#ffe282"/>
<rect x="244.5" y="363.8" width="18.0" height="2.0" fill="#ffeaa0"/>
<rect x="262.5" y="363.8" width="2.0" height="2.0" fill="#ffe282"/>
<rect x="264.5" y="363.8" width="6.0" height="2.0" fill="#ffeaa0"/>
<rect x="270.5" y="363.8" width="6.0" height="2.0" fill="#fff2be"/>
<rect x="276.5" y="363.8" width="6.0" height="2.0" fill="#fffadc"/>
<rect x="282.5" y="363.8" width="6.0" height="2.0" fill="#fff2be"/>
<rect x="288.5" y="363.8" width="4.0" height="2.0" fill="#ffeaa0"/>
<rect x="292.5" y="363.8" width="6.0" height="2.0" fill="#ffe282"/>
<rect x="298.5" y="363.8" width="4.0" height="2.0" fill="#ffd864"/>
<rect x="302.5" y="363.8" width="6.0" height="2.0" fill="#ffcd46"/>
<rect x="308.5" y="363.8" width="6.0" height="2.0" fill="#ffc02d"/>
<rect x="314.5" y="363.8" width="6.0" height="2.0" fill="#ffb219"/>
<rect x="320.5" y="363.8" width="34.0" height="2.0" fill="#ffa30a"/>
<rect x="354.5" y="363.8" width="18.0" height="2.0" fill="#ffb219"/>
<rect x="372.5" y="363.8" width="8.0" height="2.0" fill="#ffc02d"/>
<rect x="380.5" y="363.8" width="22.0" height="2.0" fill="#ffb219"/>
<rect x="402.5" y="363.8" width="10.0" height="2.0" fill="#ffc02d"/>
<rect x="412.5" y="363.8" width="8.0" height="2.0" fill="#ffcd46"/>
<rect x="420.5" y="363.8" width="10.0" height="2.0" fill="#ffd864"/>
<rect x="430.5" y="363.8" width="44.0" height="2.0" fill="#ffe282"/>
<rect x="48.5" y="365.8" width="18.0" height="2.0" fill="#fffadc"/>
<rect x="102.5" y="365.8" width="4.0" height="2.0" fill="#fffadc"/>
<rect x="106.5" y="365.8" width="4.0" height="2.0" fill="#fff2be"/>
<rect x="110.5" y="365.8" width="2.0" height="2.0" fill="#ffeaa0"/>
<rect x="112.5" y="365.8" width="4.0" height="2.0" fill="#ffe282"/>
<rect x="116.5" y="365.8" width="2.0" height="2.0" fill="#ffd864"/>
<rect x="118.5" y="365.8" width="6.0" height="2.0" fill="#ffcd46"/>
<rect x="124.5" y="365.8" width="6.0" height="2.0" fill="#ffc02d"/>
<rect x="130.5" y="365.8" width="8.0" height="2.0" fill="#ffb219"/>
<rect x="138.5" y="365.8" width="18.0" height="2.0" fill="#ffa30a"/>
<rect x="156.5" y="365.8" width="6.0" height="2.0" fill="#ffb219"/>
<rect x="162.5" y="365.8" width="14.0" height="2.0" fill="#ffc02d"/>
<rect x="176.5" y="365.8" width="52.0" height="2.0" fill="#ffcd46"/>
<rect x="228.5" y="365.8" width="4.0" height="2.0" fill="#ffc02d"/>
<rect x="232.5" y="365.8" width="4.0" height="2.0" fill="#ffcd46"/>
<rect x="236.5" y="365.8" width="4.0" height="2.0" fill="#ffd864"/>
<rect x="240.5" y="365.8" width="4.0" height="2.0" fill="#ffe282"/>
<rect x="244.5" y="365.8" width="26.0" height="2.0" fill="#ffeaa0"/>
<rect x="270.5" y="365.8" width="6.0" height="2.0" fill="#fff2be"/>
<rect x="276.5" y="365.8" width="8.0" height="2.0" fill="#fffadc"/>
<rect x="284.5" y="365.8" width="6.0" height="2.0" fill="#fff2be"/>
<rect x="290.5" y="365.8" width="4.0" height="2.0" fill="#ffeaa0"/>
<rect x="294.5" y="365.8" width="8.0" height="2.0" fill="#ffe282"/>
<rect x="302.5" y="365.8" width="6.0" height="2.0" fill="#ffd864"/>
<rect x="308.5" y="365.8" width="6.0" height="2.0" fill="#ffcd46"/>
<rect x="314.5" y="365.8" width="8.0" height="2.0" fill="#ffc02d"/>
<rect x="322.5" y="365.8" width="24.0" height="2.0" fill="#ffb219"/>
<rect x="346.5" y="365.8" width="18.0" height="2.0" fill="#ffc02d"/>
<rect x="364.5" y="365.8" width="26.0" height="2.0" fill="#ffcd46"/>
<rect x="390.5" y="365.8" width="4.0" height="2.0" fill="#ffc02d"/>
<rect x="394.5" y="365.8" width="18.0" height="2.0" fill="#ffcd46"/>
<rect x="412.5" y="365.8" width="8.0" height="2.0" fill="#ffd864"/>
<rect x="420.5" y="365.8" width="10.0" height="2.0" fill="#ffe282"/>
<rect x="430.5" y="365.8" width="22.0" height="2.0" fill="#ffeaa0"/>
<rect x="452.5" y="365.8" width="22.0" height="2.0" fill="#ffe282"/>
<rect x="48.5" y="367.8" width="16.0" height="2.0" fill="#fffadc"/>
<rect x="104.5" y="367.8" width="4.0" height="2.0" fill="#fffadc"/>
<rect x="108.5" y="367.8" width="2.0" height="2.0" fill="#fff2be"/>
<rect x="110.5" y="367.8" width="4.0" height="2.0" fill="#ffeaa0"/>
<rect x="114.5" y="367.8" width="2.0" height="2.0" fill="#ffe282"/>
<rect x="116.5" y="367.8" width="4.0" height="2.0" fill="#ffd864"/>
<rect x="120.5" y="367.8" width="6.0" height="2.0" fill="#ffcd46"/>
<rect x="126.5" y="367.8" width="6.0" height="2.0" fill="#ffc02d"/>
<rect x="132.5" y="367.8" width="12.0" height="2.0" fill="#ffb219"/>
<rect x="144.5" y="367.8" width="12.0" height="2.0" fill="#ffa30a"/>
<rect x="156.5" y="367.8" width="6.0" height="2.0" fill="#ffb219"/>
<rect x="162.5" y="367.8" width="14.0" height="2.0" fill="#ffc02d"/>
<rect x="176.5" y="367.8" width="50.0" height="2.0" fill="#ffcd46"/>
<rect x="226.5" y="367.8" width="6.0" height="2.0" fill="#ffc02d"/>
<rect x="232.5" y="367.8" width="4.0" height="2.0" fill="#ffcd46"/>
<rect x="236.5" y="367.8" width="6.0" height="2.0" fill="#ffd864"/>
<rect x="242.5" y="367.8" width="4.0" height="2.0" fill="#ffe282"/>
<rect x="246.5" y="367.8" width="22.0" height="2.0" fill="#ffeaa0"/>
<rect x="268.5" y="367.8" width="6.0" height="2.0" fill="#fff2be"/>
<rect x="274.5" y="367.8" width="12.0" height="2.0" fill="#fffadc"/>
<rect x="286.5" y="367.8" width="6.0" height="2.0" fill="#fff2be"/>
<rect x="292.5" y="367.8" width="8.0" height="2.0" fill="#ffeaa0"/>
<rect x="300.5" y="367.8" width="8.0" height="2.0" fill="#ffe282"/>
<rect x="308.5" y="367.8" width="10.0" height="2.0" fill="#ffd864"/>
<rect x="318.5" y="367.8" width="34.0" height="2.0" fill="#ffcd46"/>
<rect x="352.5" y="367.8" width="22.0" height="2.0" fill="#ffd864"/>
<rect x="374.5" y="367.8" width="4.0" height="2.0" fill="#ffe282"/>
<rect x="378.5" y="367.8" width="34.0" height="2.0" fill="#ffd864"/>
<rect x="412.5" y="367.8" width="8.0" height="2.0" fill="#ffe282"/>
<rect x="420.5" y="367.8" width="10.0" height="2.0" fill="#ffeaa0"/>
<rect x="430.5" y="367.8" width="18.0" height="2.0" fill="#fff2be"/>
<rect x="448.5" y="367.8" width="26.0" height="2.0" fill="#ffeaa0"/>
<rect x="48.5" y="369.8" width="16.0" height="2.0" fill="#fffadc"/>
<rect x="104.5" y="369.8" width="4.0" height="2.0" fill="#fffadc"/>
<rect x="108.5" y="369.8" width="4.0" height="2.0" fill="#fff2be"/>
<rect x="112.5" y="369.8" width="2.0" height="2.0" fill="#ffeaa0"/>
<rect x="114.5" y="369.8" width="4.0" height="2.0" fill="#ffe282"/>
<rect x="118.5" y="369.8" width="6.0" height="2.0" fill="#ffd864"/>
<rect x="124.5" y="369.8" width="6.0" height="2.0" fill="#ffcd46"/>
<rect x="130.5" y="369.8" width="6.0" height="2.0" fill="#ffc02d"/>
<rect x="136.5" y="369.8" width="12.0" height="2.0" fill="#ffb219"/>
<rect x="148.5" y="369.8" width="6.0" height="2.0" fill="#ffa30a"/>
<rect x="154.5" y="369.8" width="8.0" height="2.0" fill="#ffb219"/>
<rect x="162.5" y="369.8" width="16.0" height="2.0" fill="#ffc02d"/>
<rect x="178.5" y="369.8" width="48.0" height="2.0" fill="#ffcd46"/>
<rect x="226.5" y="369.8" width="6.0" height="2.0" fill="#ffc02d"/>
<rect x="232.5" y="369.8" width="6.0" height="2.0" fill="#ffcd46"/>
<rect x="238.5" y="369.8" width="4.0" height="2.0" fill="#ffd864"/>
<rect x="242.5" y="369.8" width="4.0" height="2.0" fill="#ffe282"/>
<rect x="246.5" y="369.8" width="22.0" height="2.0" fill="#ffeaa0"/>
<rect x="268.5" y="369.8" width="4.0" height="2.0" fill="#fff2be"/>
<rect x="272.5" y="369.8" width="16.0" height="2.0" fill="#fffadc"/>
<rect x="288.5" y="369.8" width="10.0" height="2.0" fill="#fff2be"/>
<rect x="298.5" y="369.8" width="10.0" height="2.0" fill="#ffeaa0"/>
<rect x="308.5" y="369.8" width="16.0" height="2.0" fill="#ffe282"/>
<rect x="324.5" y="369.8" width="12.0" height="2.0" fill="#ffd864"/>
<rect x="336.5" y="369.8" width="24.0" height="2.0" fill="#ffe282"/>
<rect x="360.5" y="369.8" width="38.0" height="2.0" fill="#ffeaa0"/>
<rect x="398.5" y="369.8" width="12.0" height="2.0" fill="#ffe282"/>
<rect x="410.5" y="369.8" width="10.0" height="2.0" fill="#ffeaa0"/>
<rect x="420.5" y="369.8" width="10.0" height="2.0" fill="#fff2be"/>
<rect x="430.5" y="369.8" width="16.0" height="2.0" fill="#fffadc"/>
<rect x="446.5" y="369.8" width="10.0" height="2.0" fill="#fff2be"/>
<rect x="456.5" y="369.8" width="18.0" height="2.0" fill="#ffeaa0"/>
<rect x="48.5" y="371.8" width="16.0" height="2.0" fill="#fffadc"/>
<rect x="84.5" y="371.8" width="6.0" height="2.0" fill="#e4f8ff"/>
<rect x="104.5" y="371.8" width="4.0" height="2.0" fill="#fffadc"/>
<rect x="108.5" y="371.8" width="4.0" height="2.0" fill="#fff2be"/>
<rect x="112.5" y="371.8" width="4.0" height="2.0" fill="#ffeaa0"/>
<rect x="116.5" y="371.8" width="4.0" height="2.0" fill="#ffe282"/>
<rect x="120.5" y="371.8" width="6.0" height="2.0" fill="#ffd864"/>
<rect x="126.5" y="371.8" width="6.0" height="2.0" fill="#ffcd46"/>
<rect x="132.5" y="371.8" width="8.0" height="2.0" fill="#ffc02d"/>
<rect x="140.5" y="371.8" width="22.0" height="2.0" fill="#ffb219"/>
<rect x="162.5" y="371.8" width="16.0" height="2.0" fill="#ffc02d"/>
<rect x="178.5" y="371.8" width="46.0" height="2.0" fill="#ffcd46"/>
<rect x="224.5" y="371.8" width="8.0" height="2.0" fill="#ffc02d"/>
<rect x="232.5" y="371.8" width="6.0" height="2.0" fill="#ffcd46"/>
<rect x="238.5" y="371.8" width="4.0" height="2.0" fill="#ffd864"/>
<rect x="242.5" y="371.8" width="6.0" height="2.0" fill="#ffe282"/>
<rect x="248.5" y="371.8" width="18.0" height="2.0" fill="#ffeaa0"/>
<rect x="266.5" y="371.8" width="6.0" height="2.0" fill="#fff2be"/>
<rect x="272.5" y="371.8" width="6.0" height="2.0" fill="#fffadc"/>
<rect x="282.5" y="371.8" width="12.0" height="2.0" fill="#fffadc"/>
<rect x="294.5" y="371.8" width="18.0" height="2.0" fill="#fff2be"/>
<rect x="312.5" y="371.8" width="34.0" height="2.0" fill="#ffeaa0"/>
<rect x="346.5" y="371.8" width="26.0" height="2.0" fill="#fff2be"/>
<rect x="372.5" y="371.8" width="12.0" height="2.0" fill="#fffadc"/>
<rect x="384.5" y="371.8" width="20.0" height="2.0" fill="#fff2be"/>
<rect x="404.5" y="371.8" width="6.0" height="2.0" fill="#ffeaa0"/>
<rect x="410.5" y="371.8" width="10.0" height="2.0" fill="#fff2be"/>
<rect x="420.5" y="371.8" width="12.0" height="2.0" fill="#fffadc"/>
<rect x="444.5" y="371.8" width="8.0" height="2.0" fill="#fffadc"/>
<rect x="452.5" y="371.8" width="22.0" height="2.0" fill="#fff2be"/>
<rect x="48.5" y="373.8" width="14.0" height="2.0" fill="#fffadc"/>
<rect x="82.5" y="373.8" width="10.0" height="2.0" fill="#e4f8ff"/>
<rect x="104.5" y="373.8" width="6.0" height="2.0" fill="#fffadc"/>
<rect x="110.5" y="373.8" width="4.0" height="2.0" fill="#fff2be"/>
<rect x="114.5" y="373.8" width="4.0" height="2.0" fill="#ffeaa0"/>
<rect x="118.5" y="373.8" width="6.0" height="2.0" fill="#ffe282"/>
<rect x="124.5" y="373.8" width="6.0" height="2.0" fill="#ffd864"/>
<rect x="130.5" y="373.8" width="4.0" height="2.0" fill="#ffcd46"/>
<rect x="134.5" y="373.8" width="8.0" height="2.0" fill="#ffc02d"/>
<rect x="142.5" y="373.8" width="18.0" height="2.0" fill="#ffb219"/>
<rect x="160.5" y="373.8" width="18.0" height="2.0" fill="#ffc02d"/>
<rect x="178.5" y="373.8" width="46.0" height="2.0" fill="#ffcd46"/>
<rect x="224.5" y="373.8" width="8.0" height="2.0" fill="#ffc02d"/>
<rect x="232.5" y="373.8" width="6.0" height="2.0" fill="#ffcd46"/>
<rect x="238.5" y="373.8" width="4.0" height="2.0" fill="#ffd864"/>
<rect x="242.5" y="373.8" width="6.0" height="2.0" fill="#ffe282"/>
<rect x="248.5" y="373.8" width="16.0" height="2.0" fill="#ffeaa0"/>
<rect x="264.5" y="373.8" width="6.0" height="2.0" fill="#fff2be"/>
<rect x="270.5" y="373.8" width="6.0" height="2.0" fill="#fffadc"/>
<rect x="286.5" y="373.8" width="66.0" height="2.0" fill="#fffadc"/>
<rect x="396.5" y="373.8" width="10.0" height="2.0" fill="#fffadc"/>
<rect x="406.5" y="373.8" width="4.0" height="2.0" fill="#fff2be"/>
<rect x="410.5" y="373.8" width="10.0" height="2.0" fill="#fffadc"/>
<rect x="448.5" y="373.8" width="10.0" height="2.0" fill="#fffadc"/>
<rect x="458.5" y="373.8" width="16.0" height="2.0" fill="#fff2be"/>
<rect x="48.5" y="375.8" width="12.0" height="2.0" fill="#fffadc"/>
<rect x="82.5" y="375.8" width="12.0" height="2.0" fill="#e4f8ff"/>
<rect x="106.5" y="375.8" width="4.0" height="2.0" fill="#fffadc"/>
<rect x="110.5" y="375.8" width="6.0" height="2.0" fill="#fff2be"/>
<rect x="116.5" y="375.8" width="4.0" height="2.0" fill="#ffeaa0"/>
<rect x="120.5" y="375.8" width="6.0" height="2.0" fill="#ffe282"/>
<rect x="126.5" y="375.8" width="6.0" height="2.0" fill="#ffd864"/>
<rect x="132.5" y="375.8" width="6.0" height="2.0" fill="#ffcd46"/>
<rect x="138.5" y="375.8" width="8.0" height="2.0" fill="#ffc02d"/>
<rect x="146.5" y="375.8" width="14.0" height="2.0" fill="#ffb219"/>
<rect x="160.5" y="375.8" width="18.0" height="2.0" fill="#ffc02d"/>
<rect x="178.5" y="375.8" width="46.0" height="2.0" fill="#ffcd46"/>
<rect x="224.5" y="375.8" width="8.0" height="2.0" fill="#ffc02d"/>
<rect x="232.5" y="375.8" width="6.0" height="2.0" fill="#ffcd46"/>
<rect x="238.5" y="375.8" width="6.0" height="2.0" fill="#ffd864"/>
<rect x="244.5" y="375.8" width="6.0" height="2.0" fill="#ffe282"/>
<rect x="250.5" y="375.8" width="12.0" height="2.0" fill="#ffeaa0"/>
<rect x="262.5" y="375.8" width="6.0" height="2.0" fill="#fff2be"/>
<rect x="268.5" y="375.8" width="8.0" height="2.0" fill="#fffadc"/>
<rect x="370.5" y="375.8" width="22.0" height="2.0" fill="#e4f8ff"/>
<rect x="406.5" y="375.8" width="4.0" height="2.0" fill="#fffadc"/>
<rect x="436.5" y="375.8" width="4.0" height="2.0" fill="#e4f8ff"/>
<rect x="454.5" y="375.8" width="16.0" height="2.0" fill="#fffadc"/>
<rect x="470.5" y="375.8" width="4.0" height="2.0" fill="#fff2be"/>
<rect x="48.5" y="377.8" width="10.0" height="2.0" fill="#fffadc"/>
<rect x="80.5" y="377.8" width="14.0" height="2.0" fill="#e4f8ff"/>
<rect x="106.5" y="377.8" width="6.0" height="2.0" fill="#fffadc"/>
<rect x="112.5" y="377.8" width="6.0" height="2.0" fill="#fff2be"/>
<rect x="118.5" y="377.8" width="4.0" height="2.0" fill="#ffeaa0"/>
<rect x="122.5" y="377.8" width="6.0" height="2.0" fill="#ffe282"/>
<rect x="128.5" y="377.8" width="6.0" height="2.0" fill="#ffd864"/>
<rect x="134.5" y="377.8" width="6.0" height="2.0" fill="#ffcd46"/>
<rect x="140.5" y="377.8" width="8.0" height="2.0" fill="#ffc02d"/>
<rect x="148.5" y="377.8" width="10.0" height="2.0" fill="#ffb219"/>
<rect x="158.5" y="377.8" width="18.0" height="2.0" fill="#ffc02d"/>
<rect x="176.5" y="377.8" width="48.0" height="2.0" fill="#ffcd46"/>
<rect x="224.5" y="377.8" width="8.0" height="2.0" fill="#ffc02d"/>
<rect x="232.5" y="377.8" width="6.0" height="2.0" fill="#ffcd46"/>
<rect x="238.5" y="377.8" width="6.0" height="2.0" fill="#ffd864"/>
<rect x="244.5" y="377.8" width="6.0" height="2.0" fill="#ffe282"/>
<rect x="250.5" y="377.8" width="10.0" height="2.0" fill="#ffeaa0"/>
<rect x="260.5" y="377.8" width="8.0" height="2.0" fill="#fff2be"/>
<rect x="268.5" y="377.8" width="6.0" height="2.0" fill="#fffadc"/>
<rect x="322.5" y="377.8" width="30.0" height="2.0" fill="#e4f8ff"/>
<rect x="352.5" y="377.8" width="44.0" height="2.0" fill="#d4f3ff"/>
<rect x="396.5" y="377.8" width="4.0" height="2.0" fill="#e4f8ff"/>
<rect x="422.5" y="377.8" width="22.0" height="2.0" fill="#e4f8ff"/>
<rect x="458.5" y="377.8" width="16.0" height="2.0" fill="#fffadc"/>
<rect x="80.5" y="379.8" width="6.0" height="2.0" fill="#e4f8ff"/>
<rect x="86.5" y="379.8" width="4.0" height="2.0" fill="#d4f3ff"/>
<rect x="90.5" y="379.8" width="6.0" height="2.0" fill="#e4f8ff"/>
<rect x="106.5" y="379.8" width="6.0" height="2.0" fill="#fffadc"/>
<rect x="112.5" y="379.8" width="6.0" height="2.0" fill="#fff2be"/>
<rect x="118.5" y="379.8" width="6.0" height="2.0" fill="#ffeaa0"/>
<rect x="124.5" y="379.8" width="6.0" height="2.0" fill="#ffe282"/>
<rect x="130.5" y="379.8" width="6.0" height="2.0" fill="#ffd864"/>
<rect x="136.5" y="379.8" width="6.0" height="2.0" fill="#ffcd46"/>
<rect x="142.5" y="379.8" width="6.0" height="2.0" fill="#ffc02d"/>
<rect x="148.5" y="379.8" width="10.0" height="2.0" fill="#ffb219"/>
<rect x="158.5" y="379.8" width="18.0" height="2.0" fill="#ffc02d"/>
<rect x="176.5" y="379.8" width="48.0" height="2.0" fill="#ffcd46"/>
<rect x="224.5" y="379.8" width="8.0" height="2.0" fill="#ffc02d"/>
<rect x="232.5" y="379.8" width="6.0" height="2.0" fill="#ffcd46"/>
<rect x="238.5" y="379.8" width="4.0" height="2.0" fill="#ffd864"/>
<rect x="242.5" y="379.8" width="6.0" height="2.0" fill="#ffe282"/>
<rect x="248.5" y="379.8" width="8.0" height="2.0" fill="#ffeaa0"/>
<rect x="256.5" y="379.8" width="8.0" height="2.0" fill="#fff2be"/>
<rect x="264.5" y="379.8" width="8.0" height="2.0" fill="#fffadc"/>
<rect x="306.5" y="379.8" width="16.0" height="2.0" fill="#e4f8ff"/>
<rect x="322.5" y="379.8" width="30.0" height="2.0" fill="#d4f3ff"/>
<rect x="352.5" y="379.8" width="42.0" height="2.0" fill="#c6eefe"/>
<rect x="394.5" y="379.8" width="6.0" height="2.0" fill="#d4f3ff"/>
<rect x="400.5" y="379.8" width="4.0" height="2.0" fill="#e4f8ff"/>
<rect x="416.5" y="379.8" width="20.0" height="2.0" fill="#e4f8ff"/>
<rect x="436.5" y="379.8" width="2.0" height="2.0" fill="#d4f3ff"/>
<rect x="438.5" y="379.8" width="8.0" height="2.0" fill="#e4f8ff"/>
<rect x="462.5" y="379.8" width="12.0" height="2.0" fill="#fffadc"/>
<rect x="80.5" y="381.8" width="6.0" height="2.0" fill="#e4f8ff"/>
<rect x="86.5" y="381.8" width="4.0" height="2.0" fill="#d4f3ff"/>
<rect x="90.5" y="381.8" width="6.0" height="2.0" fill="#e4f8ff"/>
<rect x="106.5" y="381.8" width="8.0" height="2.0" fill="#fffadc"/>
<rect x="114.5" y="381.8" width="6.0" height="2.0" fill="#fff2be"/>
<rect x="120.5" y="381.8" width="6.0" height="2.0" fill="#ffeaa0"/>
<rect x="126.5" y="381.8" width="6.0" height="2.0" fill="#ffe282"/>
<rect x="132.5" y="381.8" width="6.0" height="2.0" fill="#ffd864"/>
<rect x="138.5" y="381.8" width="6.0" height="2.0" fill="#ffcd46"/>
<rect x="144.5" y="381.8" width="6.0" height="2.0" fill="#ffc02d"/>
<rect x="150.5" y="381.8" width="6.0" height="2.0" fill="#ffb219"/>
<rect x="156.5" y="381.8" width="18.0" height="2.0" fill="#ffc02d"/>
<rect x="174.5" y="381.8" width="54.0" height="2.0" fill="#ffcd46"/>
<rect x="228.5" y="381.8" width="2.0" height="2.0" fill="#ffc02d"/>
<rect x="230.5" y="381.8" width="6.0" height="2.0" fill="#ffcd46"/>
<rect x="236.5" y="381.8" width="6.0" height="2.0" fill="#ffd864"/>
<rect x="242.5" y="381.8" width="4.0" height="2.0" fill="#ffe282"/>
<rect x="246.5" y="381.8" width="8.0" height="2.0" fill="#ffeaa0"/>
<rect x="254.5" y="381.8" width="8.0" height="2.0" fill="#fff2be"/>
<rect x="262.5" y="381.8" width="6.0" height="2.0" fill="#fffadc"/>
<rect x="298.5" y="381.8" width="12.0" height="2.0" fill="#e4f8ff"/>
<rect x="310.5" y="381.8" width="18.0" height="2.0" fill="#d4f3ff"/>
<rect x="328.5" y="381.8" width="58.0" height="2.0" fill="#c6eefe"/>
<rect x="386.5" y="381.8" width="4.0" height="2.0" fill="#b8e7fe"/>
<rect x="390.5" y="381.8" width="6.0" height="2.0" fill="#c6eefe"/>
<rect x="396.5" y="381.8" width="4.0" height="2.0" fill="#d4f3ff"/>
<rect x="400.5" y="381.8" width="4.0" height="2.0" fill="#e4f8ff"/>
<rect x="416.5" y="381.8" width="30.0" height="2.0" fill="#e4f8ff"/>
<rect x="466.5" y="381.8" width="8.0" height="2.0" fill="#fffadc"/>
<rect x="80.5" y="383.8" width="6.0" height="2.0" fill="#e4f8ff"/>
<rect x="86.5" y="383.8" width="2.0" height="2.0" fill="#d4f3ff"/>
<rect x="88.5" y="383.8" width="8.0" height="2.0" fill="#e4f8ff"/>
<rect x="106.5" y="383.8" width="8.0" height="2.0" fill="#fffadc"/>
<rect x="114.5" y="383.8" width="6.0" height="2.0" fill="#fff2be"/>
<rect x="120.5" y="383.8" width="8.0" height="2.0" fill="#ffeaa0"/>
<rect x="128.5" y="383.8" width="6.0" height="2.0" fill="#ffe282"/>
<rect x="134.5" y="383.8" width="6.0" height="2.0" fill="#ffd864"/>
<rect x="140.5" y="383.8" width="6.0" height="2.0" fill="#ffcd46"/>
<rect x="146.5" y="383.8" width="26.0" height="2.0" fill="#ffc02d"/>
<rect x="172.5" y="383.8" width="64.0" height="2.0" fill="#ffcd46"/>
<rect x="236.5" y="383.8" width="4.0" height="2.0" fill="#ffd864"/>
<rect x="240.5" y="383.8" width="4.0" height="2.0" fill="#ffe282"/>
<rect x="244.5" y="383.8" width="4.0" height="2.0" fill="#ffeaa0"/>
<rect x="248.5" y="383.8" width="8.0" height="2.0" fill="#fff2be"/>
<rect x="256.5" y="383.8" width="8.0" height="2.0" fill="#fffadc"/>
<rect x="280.5" y="383.8" width="24.0" height="2.0" fill="#e4f8ff"/>
<rect x="304.5" y="383.8" width="14.0" height="2.0" fill="#d4f3ff"/>
<rect x="318.5" y="383.8" width="44.0" height="2.0" fill="#c6eefe"/>
<rect x="362.5" y="383.8" width="30.0" height="2.0" fill="#b8e7fe"/>
<rect x="392.5" y="383.8" width="4.0" height="2.0" fill="#c6eefe"/>
<rect x="396.5" y="383.8" width="4.0" height="2.0" fill="#d4f3ff"/>
<rect x="400.5" y="383.8" width="6.0" height="2.0" fill="#e4f8ff"/>
<rect x="418.5" y="383.8" width="28.0" height="2.0" fill="#e4f8ff"/>
<rect x="468.5" y="383.8" width="6.0" height="2.0" fill="#fffadc"/>
<rect x="80.5" y="385.8" width="6.0" height="2.0" fill="#e4f8ff"/>
<rect x="86.5" y="385.8" width="2.0" height="2.0" fill="#d4f3ff"/>
<rect x="88.5" y="385.8" width="6.0" height="2.0" fill="#e4f8ff"/>
<rect x="108.5" y="385.8" width="6.0" height="2.0" fill="#fffadc"/>
<rect x="114.5" y="385.8" width="8.0" height="2.0" fill="#fff2be"/>
<rect x="122.5" y="385.8" width="8.0" height="2.0" fill="#ffeaa0"/>
<rect x="130.5" y="385.8" width="6.0" height="2.0" fill="#ffe282"/>
<rect x="136.5" y="385.8" width="6.0" height="2.0" fill="#ffd864"/>
<rect x="142.5" y="385.8" width="6.0" height="2.0" fill="#ffcd46"/>
<rect x="148.5" y="385.8" width="22.0" height="2.0" fill="#ffc02d"/>
<rect x="170.5" y="385.8" width="64.0" height="2.0" fill="#ffcd46"/>
<rect x="234.5" y="385.8" width="4.0" height="2.0" fill="#ffd864"/>
<rect x="238.5" y="385.8" width="4.0" height="2.0" fill="#ffe282"/>
<rect x="242.5" y="385.8" width="4.0" height="2.0" fill="#ffeaa0"/>
<rect x="246.5" y="385.8" width="6.0" height="2.0" fill="#fff2be"/>
<rect x="252.5" y="385.8" width="8.0" height="2.0" fill="#fffadc"/>
<rect x="276.5" y="385.8" width="22.0" height="2.0" fill="#e4f8ff"/>
<rect x="298.5" y="385.8" width="12.0" height="2.0" fill="#d4f3ff"/>
<rect x="310.5" y="385.8" width="38.0" height="2.0" fill="#c6eefe"/>
<rect x="348.5" y="385.8" width="46.0" height="2.0" fill="#b8e7fe"/>
<rect x="394.5" y="385.8" width="4.0" height="2.0" fill="#c6eefe"/>
<rect x="398.5" y="385.8" width="4.0" height="2.0" fill="#d4f3ff"/>
<rect x="402.5" y="385.8" width="2.0" height="2.0" fill="#e4f8ff"/>
<rect x="420.5" y="385.8" width="24.0" height="2.0" fill="#e4f8ff"/>
<rect x="468.5" y="385.8" width="6.0" height="2.0" fill="#fffadc"/>
<rect x="80.5" y="387.8" width="14.0" height="2.0" fill="#e4f8ff"/>
<rect x="108.5" y="387.8" width="6.0" height="2.0" fill="#fffadc"/>
<rect x="114.5" y="387.8" width="8.0" height="2.0" fill="#fff2be"/>
<rect x="122.5" y="387.8" width="10.0" height="2.0" fill="#ffeaa0"/>
<rect x="132.5" y="387.8" width="6.0" height="2.0" fill="#ffe282"/>
<rect x="138.5" y="387.8" width="6.0" height="2.0" fill="#ffd864"/>
<rect x="144.5" y="387.8" width="4.0" height="2.0" fill="#ffcd46"/>
<rect x="148.5" y="387.8" width="20.0" height="2.0" fill="#ffc02d"/>
<rect x="168.5" y="387.8" width="66.0" height="2.0" fill="#ffcd46"/>
<rect x="234.5" y="387.8" width="4.0" height="2.0" fill="#ffd864"/>
<rect x="238.5" y="387.8" width="2.0" height="2.0" fill="#ffe282"/>
<rect x="240.5" y="387.8" width="4.0" height="2.0" fill="#ffeaa0"/>
<rect x="244.5" y="387.8" width="4.0" height="2.0" fill="#fff2be"/>
<rect x="248.5" y="387.8" width="8.0" height="2.0" fill="#fffadc"/>
<rect x="272.5" y="387.8" width="8.0" height="2.0" fill="#e4f8ff"/>
<rect x="280.5" y="387.8" width="24.0" height="2.0" fill="#d4f3ff"/>
<rect x="304.5" y="387.8" width="18.0" height="2.0" fill="#c6eefe"/>
<rect x="322.5" y="387.8" width="72.0" height="2.0" fill="#b8e7fe"/>
<rect x="394.5" y="387.8" width="4.0" height="2.0" fill="#c6eefe"/>
<rect x="398.5" y="387.8" width="4.0" height="2.0" fill="#d4f3ff"/>
<rect x="402.5" y="387.8" width="2.0" height="2.0" fill="#e4f8ff"/>
<rect x="430.5" y="387.8" width="12.0" height="2.0" fill="#e4f8ff"/>
<rect x="470.5" y="387.8" width="4.0" height="2.0" fill="#fffadc"/>
<rect x="80.5" y="389.8" width="14.0" height="2.0" fill="#e4f8ff"/>
<rect x="108.5" y="389.8" width="6.0" height="2.0" fill="#fffadc"/>
<rect x="114.5" y="389.8" width="10.0" height="2.0" fill="#fff2be"/>
<rect x="124.5" y="389.8" width="10.0" height="2.0" fill="#ffeaa0"/>
<rect x="134.5" y="389.8" width="6.0" height="2.0" fill="#ffe282"/>
<rect x="140.5" y="389.8" width="4.0" height="2.0" fill="#ffd864"/>
<rect x="144.5" y="389.8" width="6.0" height="2.0" fill="#ffcd46"/>
<rect x="150.5" y="389.8" width="16.0" height="2.0" fill="#ffc02d"/>
<rect x="166.5" y="389.8" width="68.0" height="2.0" fill="#ffcd46"/>
<rect x="234.5" y="389.8" width="2.0" height="2.0" fill="#ffd864"/>
<rect x="236.5" y="389.8" width="4.0" height="2.0" fill="#ffe282"/>
<rect x="240.5" y="389.8" width="2.0" height="2.0" fill="#ffeaa0"/>
<rect x="242.5" y="389.8" width="4.0" height="2.0" fill="#fff2be"/>
<rect x="246.5" y="389.8" width="6.0" height="2.0" fill="#fffadc"/>
<rect x="268.5" y="389.8" width="8.0" height="2.0" fill="#e4f8ff"/>
<rect x="276.5" y="389.8" width="22.0" height="2.0" fill="#d4f3ff"/>
<rect x="298.5" y="389.8" width="14.0" height="2.0" fill="#c6eefe"/>
<rect x="312.5" y="389.8" width="82.0" height="2.0" fill="#b8e7fe"/>
<rect x="394.5" y="389.8" width="4.0" height="2.0" fill="#c6eefe"/>
<rect x="398.5" y="389.8" width="4.0" height="2.0" fill="#d4f3ff"/>
<rect x="402.5" y="389.8" width="2.0" height="2.0" fill="#e4f8ff"/>
<rect x="470.5" y="389.8" width="4.0" height="2.0" fill="#fffadc"/>
<rect x="80.5" y="391.8" width="14.0" height="2.0" fill="#e4f8ff"/>
<rect x="108.5" y="391.8" width="6.0" height="2.0" fill="#fffadc"/>
<rect x="114.5" y="391.8" width="12.0" height="2.0" fill="#fff2be"/>
<rect x="126.5" y="391.8" width="12.0" height="2.0" fill="#ffeaa0"/>
<rect x="138.5" y="391.8" width="4.0" height="2.0" fill="#ffe282"/>
<rect x="142.5" y="391.8" width="4.0" height="2.0" fill="#ffd864"/>
<rect x="146.5" y="391.8" width="4.0" height="2.0" fill="#ffcd46"/>
<rect x="150.5" y="391.8" width="14.0" height="2.0" fill="#ffc02d"/>
<rect x="164.5" y="391.8" width="68.0" height="2.0" fill="#ffcd46"/>
<rect x="232.5" y="391.8" width="4.0" height="2.0" fill="#ffd864"/>
<rect x="236.5" y="391.8" width="2.0" height="2.0" fill="#ffe282"/>
<rect x="238.5" y="391.8" width="4.0" height="2.0" fill="#ffeaa0"/>
<rect x="242.5" y="391.8" width="2.0" height="2.0" fill="#fff2be"/>
<rect x="244.5" y="391.8" width="4.0" height="2.0" fill="#fffadc"/>
<rect x="262.5" y="391.8" width="10.0" height="2.0" fill="#e4f8ff"/>
<rect x="272.5" y="391.8" width="10.0" height="2.0" fill="#d4f3ff"/>
<rect x="282.5" y="391.8" width="22.0" height="2.0" fill="#c6eefe"/>
<rect x="304.5" y="391.8" width="22.0" height="2.0" fill="#b8e7fe"/>
<rect x="326.5" y="391.8" width="4.0" height="2.0" fill="#aae0fd"/>
<rect x="330.5" y="391.8" width="64.0" height="2.0" fill="#b8e7fe"/>
<rect x="394.5" y="391.8" width="4.0" height="2.0" fill="#c6eefe"/>
<rect x="398.5" y="391.8" width="4.0" height="2.0" fill="#d4f3ff"/>
<rect x="402.5" y="391.8" width="2.0" height="2.0" fill="#e4f8ff"/>
<rect x="472.5" y="391.8" width="2.0" height="2.0" fill="#fffadc"/>
<rect x="80.5" y="393.8" width="14.0" height="2.0" fill="#e4f8ff"/>
<rect x="108.5" y="393.8" width="8.0" height="2.0" fill="#fffadc"/>
<rect x="116.5" y="393.8" width="14.0" height="2.0" fill="#fff2be"/>
<rect x="130.5" y="393.8" width="8.0" height="2.0" fill="#ffeaa0"/>
<rect x="138.5" y="393.8" width="4.0" height="2.0" fill="#ffe282"/>
<rect x="142.5" y="393.8" width="4.0" height="2.0" fill="#ffd864"/>
<rect x="146.5" y="393.8" width="8.0" height="2.0" fill="#ffcd46"/>
<rect x="154.5" y="393.8" width="2.0" height="2.0" fill="#ffc02d"/>
<rect x="156.5" y="393.8" width="52.0" height="2.0" fill="#ffcd46"/>
<rect x="208.5" y="393.8" width="14.0" height="2.0" fill="#ffd864"/>
<rect x="222.5" y="393.8" width="10.0" height="2.0" fill="#ffcd46"/>
<rect x="232.5" y="393.8" width="2.0" height="2.0" fill="#ffd864"/>
<rect x="234.5" y="393.8" width="4.0" height="2.0" fill="#ffe282"/>
<rect x="238.5" y="393.8" width="2.0" height="2.0" fill="#ffeaa0"/>
<rect x="240.5" y="393.8" width="4.0" height="2.0" fill="#fff2be"/>
<rect x="244.5" y="393.8" width="2.0" height="2.0" fill="#fffadc"/>
<rect x="258.5" y="393.8" width="10.0" height="2.0" fill="#e4f8ff"/>
<rect x="268.5" y="393.8" width="8.0" height="2.0" fill="#d4f3ff"/>
<rect x="276.5" y="393.8" width="22.0" height="2.0" fill="#c6eefe"/>
<rect x="298.5" y="393.8" width="18.0" height="2.0" fill="#b8e7fe"/>
<rect x="316.5" y="393.8" width="74.0" height="2.0" fill="#aae0fd"/>
<rect x="390.5" y="393.8" width="4.0" height="2.0" fill="#b8e7fe"/>
<rect x="394.5" y="393.8" width="4.0" height="2.0" fill="#c6eefe"/>
<rect x="398.5" y="393.8" width="4.0" height="2.0" fill="#d4f3ff"/>
<rect x="402.5" y="393.8" width="2.0" height="2.0" fill="#e4f8ff"/>
<rect x="80.5" y="395.8" width="12.0" height="2.0" fill="#e4f8ff"/>
<rect x="106.5" y="395.8" width="10.0" height="2.0" fill="#fffadc"/>
<rect x="116.5" y="395.8" width="18.0" height="2.0" fill="#fff2be"/>
<rect x="134.5" y="395.8" width="6.0" height="2.0" fill="#ffeaa0"/>
<rect x="140.5" y="395.8" width="4.0" height="2.0" fill="#ffe282"/>
<rect x="144.5" y="395.8" width="4.0" height="2.0" fill="#ffd864"/>
<rect x="148.5" y="395.8" width="38.0" height="2.0" fill="#ffcd46"/>
<rect x="186.5" y="395.8" width="48.0" height="2.0" fill="#ffd864"/>
<rect x="234.5" y="395.8" width="2.0" height="2.0" fill="#ffe282"/>
<rect x="236.5" y="395.8" width="4.0" height="2.0" fill="#ffeaa0"/>
<rect x="240.5" y="395.8" width="2.0" height="2.0" fill="#fff2be"/>
<rect x="242.5" y="395.8" width="2.0" height="2.0" fill="#fffadc"/>
<rect x="256.5" y="395.8" width="8.0" height="2.0" fill="#e4f8ff"/>
<rect x="264.5" y="395.8" width="10.0" height="2.0" fill="#d4f3ff"/>
<rect x="274.5" y="395.8" width="18.0" height="2.0" fill="#c6eefe"/>
<rect x="292.5" y="395.8" width="18.0" height="2.0" fill="#b8e7fe"/>
<rect x="310.5" y="395.8" width="80.0" height="2.0" fill="#aae0fd"/>
<rect x="390.5" y="395.8" width="6.0" height="2.0" fill="#b8e7fe"/>
<rect x="396.5" y="395.8" width="2.0" height="2.0" fill="#c6eefe"/>
<rect x="398.5" y="395.8" width="4.0" height="2.0" fill="#d4f3ff"/>
<rect x="402.5" y="395.8" width="2.0" height="2.0" fill="#e4f8ff"/>
<rect x="84.5" y="397.8" width="6.0" height="2.0" fill="#e4f8ff"/>
<rect x="106.5" y="397.8" width="10.0" height="2.0" fill="#fffadc"/>
<rect x="116.5" y="397.8" width="20.0" height="2.0" fill="#fff2be"/>
<rect x="136.5" y="397.8" width="4.0" height="2.0" fill="#ffeaa0"/>
<rect x="140.5" y="397.8" width="6.0" height="2.0" fill="#ffe282"/>
<rect x="146.5" y="397.8" width="4.0" height="2.0" fill="#ffd864"/>
<rect x="150.5" y="397.8" width="24.0" height="2.0" fill="#ffcd46"/>
<rect x="174.5" y="397.8" width="36.0" height="2.0" fill="#ffd864"/>
<rect x="210.5" y="397.8" width="12.0" height="2.0" fill="#ffe282"/>
<rect x="222.5" y="397.8" width="8.0" height="2.0" fill="#ffd864"/>
<rect x="230.5" y="397.8" width="4.0" height="2.0" fill="#ffe282"/>
<rect x="234.5" y="397.8" width="4.0" height="2.0" fill="#ffeaa0"/>
<rect x="238.5" y="397.8" width="2.0" height="2.0" fill="#fff2be"/>
<rect x="240.5" y="397.8" width="4.0" height="2.0" fill="#fffadc"/>
<rect x="254.5" y="397.8" width="8.0" height="2.0" fill="#e4f8ff"/>
<rect x="262.5" y="397.8" width="10.0" height="2.0" fill="#d4f3ff"/>
<rect x="272.5" y="397.8" width="14.0" height="2.0" fill="#c6eefe"/>
<rect x="286.5" y="397.8" width="22.0" height="2.0" fill="#b8e7fe"/>
<rect x="308.5" y="397.8" width="84.0" height="2.0" fill="#aae0fd"/>
<rect x="392.5" y="397.8" width="4.0" height="2.0" fill="#b8e7fe"/>
<rect x="396.5" y="397.8" width="2.0" height="2.0" fill="#c6eefe"/>
<rect x="398.5" y="397.8" width="4.0" height="2.0" fill="#d4f3ff"/>
<rect x="402.5" y="397.8" width="2.0" height="2.0" fill="#e4f8ff"/>
<rect x="448.5" y="397.8" width="10.0" height="2.0" fill="#e4f8ff"/>
<rect x="104.5" y="399.8" width="12.0" height="2.0" fill="#fffadc"/>
<rect x="116.5" y="399.8" width="20.0" height="2.0" fill="#fff2be"/>
<rect x="136.5" y="399.8" width="6.0" height="2.0" fill="#ffeaa0"/>
<rect x="142.5" y="399.8" width="4.0" height="2.0" fill="#ffe282"/>
<rect x="146.5" y="399.8" width="6.0" height="2.0" fill="#ffd864"/>
<rect x="152.5" y="399.8" width="4.0" height="2.0" fill="#ffcd46"/>
<rect x="156.5" y="399.8" width="34.0" height="2.0" fill="#ffd864"/>
<rect x="190.5" y="399.8" width="42.0" height="2.0" fill="#ffe282"/>
<rect x="232.5" y="399.8" width="4.0" height="2.0" fill="#ffeaa0"/>
<rect x="236.5" y="399.8" width="4.0" height="2.0" fill="#fff2be"/>
<rect x="240.5" y="399.8" width="2.0" height="2.0" fill="#fffadc"/>
<rect x="252.5" y="399.8" width="10.0" height="2.0" fill="#e4f8ff"/>
<rect x="262.5" y="399.8" width="10.0" height="2.0" fill="#d4f3ff"/>
<rect x="272.5" y="399.8" width="12.0" height="2.0" fill="#c6eefe"/>
<rect x="284.5" y="399.8" width="22.0" height="2.0" fill="#b8e7fe"/>
<rect x="306.5" y="399.8" width="24.0" height="2.0" fill="#aae0fd"/>
<rect x="330.5" y="399.8" width="16.0" height="2.0" fill="#9bd8fd"/>
<rect x="346.5" y="399.8" width="46.0" height="2.0" fill="#aae0fd"/>
<rect x="392.5" y="399.8" width="4.0" height="2.0" fill="#b8e7fe"/>
<rect x="396.5" y="399.8" width="2.0" height="2.0" fill="#c6eefe"/>
<rect x="398.5" y="399.8" width="4.0" height="2.0" fill="#d4f3ff"/>
<rect x="402.5" y="399.8" width="4.0" height="2.0" fill="#e4f8ff"/>
<rect x="442.5" y="399.8" width="18.0" height="2.0" fill="#e4f8ff"/>
<rect x="102.5" y="401.8" width="16.0" height="2.0" fill="#fffadc"/>
<rect x="118.5" y="401.8" width="20.0" height="2.0" fill="#fff2be"/>
<rect x="138.5" y="401.8" width="4.0" height="2.0" fill="#ffeaa0"/>
<rect x="142.5" y="401.8" width="6.0" height="2.0" fill="#ffe282"/>
<rect x="148.5" y="401.8" width="28.0" height="2.0" fill="#ffd864"/>
<rect x="176.5" y="401.8" width="26.0" height="2.0" fill="#ffe282"/>
<rect x="202.5" y="401.8" width="32.0" height="2.0" fill="#ffeaa0"/>
<rect x="234.5" y="401.8" width="4.0" height="2.0" fill="#fff2be"/>
<rect x="238.5" y="401.8" width="2.0" height="2.0" fill="#fffadc"/>
<rect x="250.5" y="401.8" width="10.0" height="2.0" fill="#e4f8ff"/>
<rect x="260.5" y="401.8" width="10.0" height="2.0" fill="#d4f3ff"/>
<rect x="270.5" y="401.8" width="12.0" height="2.0" fill="#c6eefe"/>
<rect x="282.5" y="401.8" width="22.0" height="2.0" fill="#b8e7fe"/>
<rect x="304.5" y="401.8" width="20.0" height="2.0" fill="#aae0fd"/>
<rect x="324.5" y="401.8" width="26.0" height="2.0" fill="#9bd8fd"/>
<rect x="350.5" y="401.8" width="42.0" height="2.0" fill="#aae0fd"/>
<rect x="392.5" y="401.8" width="4.0" height="2.0" fill="#b8e7fe"/>
<rect x="396.5" y="401.8" width="2.0" height="2.0" fill="#c6eefe"/>
<rect x="398.5" y="401.8" width="4.0" height="2.0" fill="#d4f3ff"/>
<rect x="402.5" y="401.8" width="4.0" height="2.0" fill="#e4f8ff"/>
<rect x="436.5" y="401.8" width="24.0" height="2.0" fill="#e4f8ff"/>
<rect x="100.5" y="403.8" width="22.0" height="2.0" fill="#fffadc"/>
<rect x="122.5" y="403.8" width="16.0" height="2.0" fill="#fff2be"/>
<rect x="138.5" y="403.8" width="6.0" height="2.0" fill="#ffeaa0"/>
<rect x="144.5" y="403.8" width="6.0" height="2.0" fill="#ffe282"/>
<rect x="150.5" y="403.8" width="16.0" height="2.0" fill="#ffd864"/>
<rect x="166.5" y="403.8" width="22.0" height="2.0" fill="#ffe282"/>
<rect x="188.5" y="403.8" width="24.0" height="2.0" fill="#ffeaa0"/>
<rect x="212.5" y="403.8" width="22.0" height="2.0" fill="#fff2be"/>
<rect x="234.5" y="403.8" width="4.0" height="2.0" fill="#fffadc"/>
<rect x="248.5" y="403.8" width="12.0" height="2.0" fill="#e4f8ff"/>
<rect x="260.5" y="403.8" width="10.0" height="2.0" fill="#d4f3ff"/>
<rect x="270.5" y="403.8" width="10.0" height="2.0" fill="#c6eefe"/>
<rect x="280.5" y="403.8" width="24.0" height="2.0" fill="#b8e7fe"/>
<rect x="304.5" y="403.8" width="18.0" height="2.0" fill="#aae0fd"/>
<rect x="322.5" y="403.8" width="32.0" height="2.0" fill="#9bd8fd"/>
<rect x="354.5" y="403.8" width="38.0" height="2.0" fill="#aae0fd"/>
<rect x="392.5" y="403.8" width="4.0" height="2.0" fill="#b8e7fe"/>
<rect x="396.5" y="403.8" width="4.0" height="2.0" fill="#c6eefe"/>
<rect x="400.5" y="403.8" width="2.0" height="2.0" fill="#d4f3ff"/>
<rect x="402.5" y="403.8" width="4.0" height="2.0" fill="#e4f8ff"/>
<rect x="434.5" y="403.8" width="18.0" height="2.0" fill="#e4f8ff"/>
<rect x="452.5" y="403.8" width="2.0" height="2.0" fill="#d4f3ff"/>
<rect x="454.5" y="403.8" width="8.0" height="2.0" fill="#e4f8ff"/>
<rect x="96.5" y="405.8" width="30.0" height="2.0" fill="#fffadc"/>
<rect x="126.5" y="405.8" width="14.0" height="2.0" fill="#fff2be"/>
<rect x="140.5" y="405.8" width="6.0" height="2.0" fill="#ffeaa0"/>
<rect x="146.5" y="405.8" width="32.0" height="2.0" fill="#ffe282"/>
<rect x="178.5" y="405.8" width="18.0" height="2.0" fill="#ffeaa0"/>
<rect x="196.5" y="405.8" width="34.0" height="2.0" fill="#fff2be"/>
<rect x="230.5" y="405.8" width="6.0" height="2.0" fill="#fffadc"/>
<rect x="246.5" y="405.8" width="12.0" height="2.0" fill="#e4f8ff"/>
<rect x="258.5" y="405.8" width="12.0" height="2.0" fill="#d4f3ff"/>
<rect x="270.5" y="405.8" width="10.0" height="2.0" fill="#c6eefe"/>
<rect x="280.5" y="405.8" width="22.0" height="2.0" fill="#b8e7fe"/>
<rect x="302.5" y="405.8" width="18.0" height="2.0" fill="#aae0fd"/>
<rect x="320.5" y="405.8" width="20.0" height="2.0" fill="#9bd8fd"/>
<rect x="340.5" y="405.8" width="6.0" height="2.0" fill="#8ad0fc"/>
<rect x="346.5" y="405.8" width="10.0" height="2.0" fill="#9bd8fd"/>
<rect x="356.5" y="405.8" width="36.0" height="2.0" fill="#aae0fd"/>
<rect x="392.5" y="405.8" width="4.0" height="2.0" fill="#b8e7fe"/>
<rect x="396.5" y="405.8" width="4.0" height="2.0" fill="#c6eefe"/>
<rect x="400.5" y="405.8" width="2.0" height="2.0" fill="#d4f3ff"/>
<rect x="402.5" y="405.8" width="4.0" height="2.0" fill="#e4f8ff"/>
<rect x="432.5" y="405.8" width="8.0" height="2.0" fill="#e4f8ff"/>
<rect x="440.5" y="405.8" width="18.0" height="2.0" fill="#d4f3ff"/>
<rect x="458.5" y="405.8" width="4.0" height="2.0" fill="#e4f8ff"/>
<rect x="92.5" y="407.8" width="38.0" height="2.0" fill="#fffadc"/>
<rect x="130.5" y="407.8" width="10.0" height="2.0" fill="#fff2be"/>
<rect x="140.5" y="407.8" width="8.0" height="2.0" fill="#ffeaa0"/>
<rect x="148.5" y="407.8" width="22.0" height="2.0" fill="#ffe282"/>
<rect x="170.5" y="407.8" width="18.0" height="2.0" fill="#ffeaa0"/>
<rect x="188.5" y="407.8" width="14.0" height="2.0" fill="#fff2be"/>
<rect x="202.5" y="407.8" width="30.0" height="2.0" fill="#fffadc"/>
<rect x="244.5" y="407.8" width="12.0" height="2.0" fill="#e4f8ff"/>
<rect x="256.5" y="407.8" width="14.0" height="2.0" fill="#d4f3ff"/>
<rect x="270.5" y="407.8" width="8.0" height="2.0" fill="#c6eefe"/>
<rect x="278.5" y="407.8" width="24.0" height="2.0" fill="#b8e7fe"/>
<rect x="302.5" y="407.8" width="16.0" height="2.0" fill="#aae0fd"/>
<rect x="318.5" y="407.8" width="16.0" height="2.0" fill="#9bd8fd"/>
<rect x="334.5" y="407.8" width="14.0" height="2.0" fill="#8ad0fc"/>
<rect x="348.5" y="407.8" width="8.0" height="2.0" fill="#9bd8fd"/>
<rect x="356.5" y="407.8" width="36.0" height="2.0" fill="#aae0fd"/>
<rect x="392.5" y="407.8" width="4.0" height="2.0" fill="#b8e7fe"/>
<rect x="396.5" y="407.8" width="4.0" height="2.0" fill="#c6eefe"/>
<rect x="400.5" y="407.8" width="4.0" height="2.0" fill="#d4f3ff"/>
<rect x="404.5" y="407.8" width="4.0" height="2.0" fill="#e4f8ff"/>
<rect x="432.5" y="407.8" width="6.0" height="2.0" fill="#e4f8ff"/>
<rect x="438.5" y="407.8" width="20.0" height="2.0" fill="#d4f3ff"/>
<rect x="458.5" y="407.8" width="6.0" height="2.0" fill="#e4f8ff"/>
<rect x="86.5" y="409.8" width="46.0" height="2.0" fill="#fffadc"/>
<rect x="132.5" y="409.8" width="10.0" height="2.0" fill="#fff2be"/>
<rect x="142.5" y="409.8" width="8.0" height="2.0" fill="#ffeaa0"/>
<rect x="150.5" y="409.8" width="10.0" height="2.0" fill="#ffe282"/>
<rect x="160.5" y="409.8" width="20.0" height="2.0" fill="#ffeaa0"/>
<rect x="180.5" y="409.8" width="14.0" height="2.0" fill="#fff2be"/>
<rect x="194.5" y="409.8" width="22.0" height="2.0" fill="#fffadc"/>
<rect x="242.5" y="409.8" width="10.0" height="2.0" fill="#e4f8ff"/>
<rect x="252.5" y="409.8" width="16.0" height="2.0" fill="#d4f3ff"/>
<rect x="268.5" y="409.8" width="10.0" height="2.0" fill="#c6eefe"/>
<rect x="278.5" y="409.8" width="24.0" height="2.0" fill="#b8e7fe"/>
<rect x="302.5" y="409.8" width="16.0" height="2.0" fill="#aae0fd"/>
<rect x="318.5" y="409.8" width="14.0" height="2.0" fill="#9bd8fd"/>
<rect x="332.5" y="409.8" width="18.0" height="2.0" fill="#8ad0fc"/>
<rect x="350.5" y="409.8" width="6.0" height="2.0" fill="#9bd8fd"/>
<rect x="356.5" y="409.8" width="36.0" height="2.0" fill="#aae0fd"/>
<rect x="392.5" y="409.8" width="4.0" height="2.0" fill="#b8e7fe"/>
<rect x="396.5" y="409.8" width="4.0" height="2.0" fill="#c6eefe"/>
<rect x="400.5" y="409.8" width="4.0" height="2.0" fill="#d4f3ff"/>
<rect x="404.5" y="409.8" width="4.0" height="2.0" fill="#e4f8ff"/>
<rect x="430.5" y="409.8" width="6.0" height="2.0" fill="#e4f8ff"/>
<rect x="436.5" y="409.8" width="24.0" height="2.0" fill="#d4f3ff"/>
<rect x="460.5" y="409.8" width="4.0" height="2.0" fill="#e4f8ff"/>
<rect x="84.5" y="411.8" width="52.0" height="2.0" fill="#fffadc"/>
<rect x="136.5" y="411.8" width="8.0" height="2.0" fill="#fff2be"/>
<rect x="144.5" y="411.8" width="30.0" height="2.0" fill="#ffeaa0"/>
<rect x="174.5" y="411.8" width="14.0" height="2.0" fill="#fff2be"/>
<rect x="188.5" y="411.8" width="14.0" height="2.0" fill="#fffadc"/>
<rect x="240.5" y="411.8" width="8.0" height="2.0" fill="#e4f8ff"/>
<rect x="248.5" y="411.8" width="20.0" height="2.0" fill="#d4f3ff"/>
<rect x="268.5" y="411.8" width="10.0" height="2.0" fill="#c6eefe"/>
<rect x="278.5" y="411.8" width="22.0" height="2.0" fill="#b8e7fe"/>
<rect x="300.5" y="411.8" width="18.0" height="2.0" fill="#aae0fd"/>
<rect x="318.5" y="411.8" width="14.0" height="2.0" fill="#9bd8fd"/>
<rect x="332.5" y="411.8" width="18.0" height="2.0" fill="#8ad0fc"/>
<rect x="350.5" y="411.8" width="8.0" height="2.0" fill="#9bd8fd"/>
<rect x="358.5" y="411.8" width="32.0" height="2.0" fill="#aae0fd"/>
<rect x="390.5" y="411.8" width="6.0" height="2.0" fill="#b8e7fe"/>
<rect x="396.5" y="411.8" width="4.0" height="2.0" fill="#c6eefe"/>
<rect x="400.5" y="411.8" width="4.0" height="2.0" fill="#d4f3ff"/>
<rect x="404.5" y="411.8" width="4.0" height="2.0" fill="#e4f8ff"/>
<rect x="430.5" y="411.8" width="6.0" height="2.0" fill="#e4f8ff"/>
<rect x="436.5" y="411.8" width="24.0" height="2.0" fill="#d4f3ff"/>
<rect x="460.5" y="411.8" width="4.0" height="2.0" fill="#e4f8ff"/>
<rect x="84.5" y="413.8" width="54.0" height="2.0" fill="#fffadc"/>
<rect x="138.5" y="413.8" width="8.0" height="2.0" fill="#fff2be"/>
<rect x="146.5" y="413.8" width="22.0" height="2.0" fill="#ffeaa0"/>
<rect x="168.5" y="413.8" width="16.0" height="2.0" fill="#fff2be"/>
<rect x="184.5" y="413.8" width="14.0" height="2.0" fill="#fffadc"/>
<rect x="238.5" y="413.8" width="10.0" height="2.0" fill="#e4f8ff"/>
<rect x="248.5" y="413.8" width="20.0" height="2.0" fill="#d4f3ff"/>
<rect x="268.5" y="413.8" width="10.0" height="2.0" fill="#c6eefe"/>
<rect x="278.5" y="413.8" width="24.0" height="2.0" fill="#b8e7fe"/>
<rect x="302.5" y="413.8" width="18.0" height="2.0" fill="#aae0fd"/>
<rect x="320.5" y="413.8" width="14.0" height="2.0" fill="#9bd8fd"/>
<rect x="334.5" y="413.8" width="16.0" height="2.0" fill="#8ad0fc"/>
<rect x="350.5" y="413.8" width="6.0" height="2.0" fill="#9bd8fd"/>
<rect x="356.5" y="413.8" width="34.0" height="2.0" fill="#aae0fd"/>
<rect x="390.5" y="413.8" width="6.0" height="2.0" fill="#b8e7fe"/>
<rect x="396.5" y="413.8" width="4.0" height="2.0" fill="#c6eefe"/>
<rect x="400.5" y="413.8" width="2.0" height="2.0" fill="#d4f3ff"/>
<rect x="402.5" y="413.8" width="6.0" height="2.0" fill="#e4f8ff"/>
<rect x="430.5" y="413.8" width="4.0" height="2.0" fill="#e4f8ff"/>
<rect x="434.5" y="413.8" width="26.0" height="2.0" fill="#d4f3ff"/>
<rect x="460.5" y="413.8" width="4.0" height="2.0" fill="#e4f8ff"/>
<rect x="84.5" y="415.8" width="56.0" height="2.0" fill="#fffadc"/>
<rect x="140.5" y="415.8" width="8.0" height="2.0" fill="#fff2be"/>
<rect x="148.5" y="415.8" width="14.0" height="2.0" fill="#ffeaa0"/>
<rect x="162.5" y="415.8" width="18.0" height="2.0" fill="#fff2be"/>
<rect x="180.5" y="415.8" width="14.0" height="2.0" fill="#fffadc"/>
<rect x="236.5" y="415.8" width="10.0" height="2.0" fill="#e4f8ff"/>
<rect x="246.5" y="415.8" width="22.0" height="2.0" fill="#d4f3ff"/>
<rect x="268.5" y="415.8" width="10.0" height="2.0" fill="#c6eefe"/>
<rect x="278.5" y="415.8" width="24.0" height="2.0" fill="#b8e7fe"/>
<rect x="302.5" y="415.8" width="20.0" height="2.0" fill="#aae0fd"/>
<rect x="322.5" y="415.8" width="16.0" height="2.0" fill="#9bd8fd"/>
<rect x="338.5" y="415.8" width="10.0" height="2.0" fill="#8ad0fc"/>
<rect x="348.5" y="415.8" width="8.0" height="2.0" fill="#9bd8fd"/>
<rect x="356.5" y="415.8" width="24.0" height="2.0" fill="#aae0fd"/>
<rect x="380.5" y="415.8" width="14.0" height="2.0" fill="#b8e7fe"/>
<rect x="394.5" y="415.8" width="4.0" height="2.0" fill="#c6eefe"/>
<rect x="398.5" y="415.8" width="4.0" height="2.0" fill="#d4f3ff"/>
<rect x="402.5" y="415.8" width="4.0" height="2.0" fill="#e4f8ff"/>
<rect x="430.5" y="415.8" width="4.0" height="2.0" fill="#e4f8ff"/>
<rect x="434.5" y="415.8" width="26.0" height="2.0" fill="#d4f3ff"/>
<rect x="460.5" y="415.8" width="4.0" height="2.0" fill="#e4f8ff"/>
<rect x="86.5" y="417.8" width="56.0" height="2.0" fill="#fffadc"/>
<rect x="142.5" y="417.8" width="8.0" height="2.0" fill="#fff2be"/>
<rect x="150.5" y="417.8" width="4.0" height="2.0" fill="#ffeaa0"/>
<rect x="154.5" y="417.8" width="20.0" height="2.0" fill="#fff2be"/>
<rect x="174.5" y="417.8" width="18.0" height="2.0" fill="#fffadc"/>
<rect x="236.5" y="417.8" width="10.0" height="2.0" fill="#e4f8ff"/>
<rect x="246.5" y="417.8" width="20.0" height="2.0" fill="#d4f3ff"/>
<rect x="266.5" y="417.8" width="12.0" height="2.0" fill="#c6eefe"/>
<rect x="278.5" y="417.8" width="26.0" height="2.0" fill="#b8e7fe"/>
<rect x="304.5" y="417.8" width="22.0" height="2.0" fill="#aae0fd"/>
<rect x="326.5" y="417.8" width="16.0" height="2.0" fill="#9bd8fd"/>
<rect x="342.5" y="417.8" width="2.0" height="2.0" fill="#8ad0fc"/>
<rect x="344.5" y="417.8" width="10.0" height="2.0" fill="#9bd8fd"/>
<rect x="354.5" y="417.8" width="22.0" height="2.0" fill="#aae0fd"/>
<rect x="376.5" y="417.8" width="18.0" height="2.0" fill="#b8e7fe"/>
<rect x="394.5" y="417.8" width="4.0" height="2.0" fill="#c6eefe"/>
<rect x="398.5" y="417.8" width="4.0" height="2.0" fill="#d4f3ff"/>
<rect x="402.5" y="417.8" width="4.0" height="2.0" fill="#e4f8ff"/>
<rect x="430.5" y="417.8" width="4.0" height="2.0" fill="#e4f8ff"/>
<rect x="434.5" y="417.8" width="26.0" height="2.0" fill="#d4f3ff"/>
<rect x="460.5" y="417.8" width="4.0" height="2.0" fill="#e4f8ff"/>
<rect x="88.5" y="419.8" width="56.0" height="2.0" fill="#fffadc"/>
<rect x="144.5" y="419.8" width="26.0" height="2.0" fill="#fff2be"/>
<rect x="170.5" y="419.8" width="16.0" height="2.0" fill="#fffadc"/>
<rect x="234.5" y="419.8" width="10.0" height="2.0" fill="#e4f8ff"/>
<rect x="244.5" y="419.8" width="22.0" height="2.0" fill="#d4f3ff"/>
<rect x="266.5" y="419.8" width="12.0" height="2.0" fill="#c6eefe"/>
<rect x="278.5" y="419.8" width="28.0" height="2.0" fill="#b8e7fe"/>
<rect x="306.5" y="419.8" width="24.0" height="2.0" fill="#aae0fd"/>
<rect x="330.5" y="419.8" width="22.0" height="2.0" fill="#9bd8fd"/>
<rect x="352.5" y="419.8" width="22.0" height="2.0" fill="#aae0fd"/>
<rect x="374.5" y="419.8" width="20.0" height="2.0" fill="#b8e7fe"/>
<rect x="394.5" y="419.8" width="4.0" height="2.0" fill="#c6eefe"/>
<rect x="398.5" y="419.8" width="4.0" height="2.0" fill="#d4f3ff"/>
<rect x="402.5" y="419.8" width="4.0" height="2.0" fill="#e4f8ff"/>
<rect x="430.5" y="419.8" width="4.0" height="2.0" fill="#e4f8ff"/>
<rect x="434.5" y="419.8" width="26.0" height="2.0" fill="#d4f3ff"/>
<rect x="460.5" y="419.8" width="4.0" height="2.0" fill="#e4f8ff"/>
<rect x="90.5" y="421.8" width="56.0" height="2.0" fill="#fffadc"/>
<rect x="146.5" y="421.8" width="18.0" height="2.0" fill="#fff2be"/>
<rect x="164.5" y="421.8" width="16.0" height="2.0" fill="#fffadc"/>
<rect x="232.5" y="421.8" width="12.0" height="2.0" fill="#e4f8ff"/>
<rect x="244.5" y="421.8" width="22.0" height="2.0" fill="#d4f3ff"/>
<rect x="266.5" y="421.8" width="12.0" height="2.0" fill="#c6eefe"/>
<rect x="278.5" y="421.8" width="32.0" height="2.0" fill="#b8e7fe"/>
<rect x="310.5" y="421.8" width="24.0" height="2.0" fill="#aae0fd"/>
<rect x="334.5" y="421.8" width="16.0" height="2.0" fill="#9bd8fd"/>
<rect x="350.5" y="421.8" width="22.0" height="2.0" fill="#aae0fd"/>
<rect x="372.5" y="421.8" width="22.0" height="2.0" fill="#b8e7fe"/>
<rect x="394.5" y="421.8" width="4.0" height="2.0" fill="#c6eefe"/>
<rect x="398.5" y="421.8" width="4.0" height="2.0" fill="#d4f3ff"/>
<rect x="402.5" y="421.8" width="4.0" height="2.0" fill="#e4f8ff"/>
<rect x="430.5" y="421.8" width="4.0" height="2.0" fill="#e4f8ff"/>
<rect x="434.5" y="421.8" width="26.0" height="2.0" fill="#d4f3ff"/>
<rect x="460.5" y="421.8" width="4.0" height="2.0" fill="#e4f8ff"/>
<rect x="92.5" y="423.8" width="40.0" height="2.0" fill="#fffadc"/>
<rect x="138.5" y="423.8" width="10.0" height="2.0" fill="#fffadc"/>
<rect x="148.5" y="423.8" width="10.0" height="2.0" fill="#fff2be"/>
<rect x="158.5" y="423.8" width="18.0" height="2.0" fill="#fffadc"/>
<rect x="230.5" y="423.8" width="12.0" height="2.0" fill="#e4f8ff"/>
<rect x="242.5" y="423.8" width="22.0" height="2.0" fill="#d4f3ff"/>
<rect x="264.5" y="423.8" width="14.0" height="2.0" fill="#c6eefe"/>
<rect x="278.5" y="423.8" width="36.0" height="2.0" fill="#b8e7fe"/>
<rect x="314.5" y="423.8" width="24.0" height="2.0" fill="#aae0fd"/>
<rect x="338.5" y="423.8" width="10.0" height="2.0" fill="#9bd8fd"/>
<rect x="348.5" y="423.8" width="22.0" height="2.0" fill="#aae0fd"/>
<rect x="370.5" y="423.8" width="22.0" height="2.0" fill="#b8e7fe"/>
<rect x="392.5" y="423.8" width="4.0" height="2.0" fill="#c6eefe"/>
<rect x="396.5" y="423.8" width="4.0" height="2.0" fill="#d4f3ff"/>
<rect x="400.5" y="423.8" width="4.0" height="2.0" fill="#e4f8ff"/>
<rect x="430.5" y="423.8" width="4.0" height="2.0" fill="#e4f8ff"/>
<rect x="434.5" y="423.8" width="24.0" height="2.0" fill="#d4f3ff"/>
<rect x="458.5" y="423.8" width="6.0" height="2.0" fill="#e4f8ff"/>
<rect x="92.5" y="425.8" width="38.0" height="2.0" fill="#fffadc"/>
<rect x="138.5" y="425.8" width="12.0" height="2.0" fill="#fffadc"/>
<rect x="150.5" y="425.8" width="4.0" height="2.0" fill="#fff2be"/>
<rect x="154.5" y="425.8" width="18.0" height="2.0" fill="#fffadc"/>
<rect x="228.5" y="425.8" width="14.0" height="2.0" fill="#e4f8ff"/>
<rect x="242.5" y="425.8" width="22.0" height="2.0" fill="#d4f3ff"/>
<rect x="264.5" y="425.8" width="14.0" height="2.0" fill="#c6eefe"/>
<rect x="278.5" y="425.8" width="40.0" height="2.0" fill="#b8e7fe"/>
<rect x="318.5" y="425.8" width="50.0" height="2.0" fill="#aae0fd"/>
<rect x="368.5" y="425.8" width="24.0" height="2.0" fill="#b8e7fe"/>
<rect x="392.5" y="425.8" width="4.0" height="2.0" fill="#c6eefe"/>
<rect x="396.5" y="425.8" width="4.0" height="2.0" fill="#d4f3ff"/>
<rect x="400.5" y="425.8" width="4.0" height="2.0" fill="#e4f8ff"/>
<rect x="430.5" y="425.8" width="4.0" height="2.0" fill="#e4f8ff"/>
<rect x="434.5" y="425.8" width="24.0" height="2.0" fill="#d4f3ff"/>
<rect x="458.5" y="425.8" width="6.0" height="2.0" fill="#e4f8ff"/>
<rect x="94.5" y="427.8" width="34.0" height="2.0" fill="#fffadc"/>
<rect x="140.5" y="427.8" width="28.0" height="2.0" fill="#fffadc"/>
<rect x="226.5" y="427.8" width="14.0" height="2.0" fill="#e4f8ff"/>
<rect x="240.5" y="427.8" width="24.0" height="2.0" fill="#d4f3ff"/>
<rect x="264.5" y="427.8" width="14.0" height="2.0" fill="#c6eefe"/>
<rect x="278.5" y="427.8" width="44.0" height="2.0" fill="#b8e7fe"/>
<rect x="322.5" y="427.8" width="44.0" height="2.0" fill="#aae0fd"/>
<rect x="366.5" y="427.8" width="26.0" height="2.0" fill="#b8e7fe"/>
<rect x="392.5" y="427.8" width="4.0" height="2.0" fill="#c6eefe"/>
<rect x="396.5" y="427.8" width="4.0" height="2.0" fill="#d4f3ff"/>
<rect x="400.5" y="427.8" width="4.0" height="2.0" fill="#e4f8ff"/>
<rect x="430.5" y="427.8" width="6.0" height="2.0" fill="#e4f8ff"/>
<rect x="436.5" y="427.8" width="22.0" height="2.0" fill="#d4f3ff"/>
<rect x="458.5" y="427.8" width="6.0" height="2.0" fill="#e4f8ff"/>
<rect x="94.5" y="429.8" width="36.0" height="2.0" fill="#fffadc"/>
<rect x="140.5" y="429.8" width="24.0" height="2.0" fill="#fffadc"/>
<rect x="226.5" y="429.8" width="14.0" height="2.0" fill="#e4f8ff"/>
<rect x="240.5" y="429.8" width="24.0" height="2.0" fill="#d4f3ff"/>
<rect x="264.5" y="429.8" width="14.0" height="2.0" fill="#c6eefe"/>
<rect x="278.5" y="429.8" width="48.0" height="2.0" fill="#b8e7fe"/>
<rect x="326.5" y="429.8" width="38.0" height="2.0" fill="#aae0fd"/>
<rect x="364.5" y="429.8" width="26.0" height="2.0" fill="#b8e7fe"/>
<rect x="390.5" y="429.8" width="6.0" height="2.0" fill="#c6eefe"/>
<rect x="396.5" y="429.8" width="4.0" height="2.0" fill="#d4f3ff"/>
<rect x="400.5" y="429.8" width="4.0" height="2.0" fill="#e4f8ff"/>
<rect x="430.5" y="429.8" width="6.0" height="2.0" fill="#e4f8ff"/>
<rect x="436.5" y="429.8" width="20.0" height="2.0" fill="#d4f3ff"/>
<rect x="456.5" y="429.8" width="8.0" height="2.0" fill="#e4f8ff"/>
<rect x="96.5" y="431.8" width="38.0" height="2.0" fill="#fffadc"/>
<rect x="136.5" y="431.8" width="26.0" height="2.0" fill="#fffadc"/>
<rect x="226.5" y="431.8" width="14.0" height="2.0" fill="#e4f8ff"/>
<rect x="240.5" y="431.8" width="26.0" height="2.0" fill="#d4f3ff"/>
<rect x="266.5" y="431.8" width="12.0" height="2.0" fill="#c6eefe"/>
<rect x="278.5" y="431.8" width="52.0" height="2.0" fill="#b8e7fe"/>
<rect x="330.5" y="431.8" width="32.0" height="2.0" fill="#aae0fd"/>
<rect x="362.5" y="431.8" width="26.0" height="2.0" fill="#b8e7fe"/>
<rect x="388.5" y="431.8" width="8.0" height="2.0" fill="#c6eefe"/>
<rect x="396.5" y="431.8" width="4.0" height="2.0" fill="#d4f3ff"/>
<rect x="400.5" y="431.8" width="4.0" height="2.0" fill="#e4f8ff"/>
<rect x="432.5" y="431.8" width="8.0" height="2.0" fill="#e4f8ff"/>
<rect x="440.5" y="431.8" width="4.0" height="2.0" fill="#d4f3ff"/>
<rect x="444.5" y="431.8" width="18.0" height="2.0" fill="#e4f8ff"/>
<rect x="98.5" y="433.8" width="60.0" height="2.0" fill="#fffadc"/>
<rect x="226.5" y="433.8" width="16.0" height="2.0" fill="#e4f8ff"/>
<rect x="242.5" y="433.8" width="24.0" height="2.0" fill="#d4f3ff"/>
<rect x="266.5" y="433.8" width="12.0" height="2.0" fill="#c6eefe"/>
<rect x="278.5" y="433.8" width="56.0" height="2.0" fill="#b8e7fe"/>
<rect x="334.5" y="433.8" width="24.0" height="2.0" fill="#aae0fd"/>
<rect x="358.5" y="433.8" width="28.0" height="2.0" fill="#b8e7fe"/>
<rect x="386.5" y="433.8" width="8.0" height="2.0" fill="#c6eefe"/>
<rect x="394.5" y="433.8" width="6.0" height="2.0" fill="#d4f3ff"/>
<rect x="400.5" y="433.8" width="4.0" height="2.0" fill="#e4f8ff"/>
<rect x="432.5" y="433.8" width="28.0" height="2.0" fill="#e4f8ff"/>
<rect x="100.5" y="435.8" width="56.0" height="2.0" fill="#fffadc"/>
<rect x="226.5" y="435.8" width="16.0" height="2.0" fill="#e4f8ff"/>
<rect x="242.5" y="435.8" width="24.0" height="2.0" fill="#d4f3ff"/>
<rect x="266.5" y="435.8" width="12.0" height="2.0" fill="#c6eefe"/>
<rect x="278.5" y="435.8" width="60.0" height="2.0" fill="#b8e7fe"/>
<rect x="338.5" y="435.8" width="16.0" height="2.0" fill="#aae0fd"/>
<rect x="354.5" y="435.8" width="30.0" height="2.0" fill="#b8e7fe"/>
<rect x="384.5" y="435.8" width="10.0" height="2.0" fill="#c6eefe"/>
<rect x="394.5" y="435.8" width="4.0" height="2.0" fill="#d4f3ff"/>
<rect x="398.5" y="435.8" width="6.0" height="2.0" fill="#e4f8ff"/>
<rect x="436.5" y="435.8" width="22.0" height="2.0" fill="#e4f8ff"/>
<rect x="106.5" y="437.8" width="44.0" height="2.0" fill="#fffadc"/>
<rect x="226.5" y="437.8" width="18.0" height="2.0" fill="#e4f8ff"/>
<rect x="244.5" y="437.8" width="22.0" height="2.0" fill="#d4f3ff"/>
<rect x="266.5" y="437.8" width="12.0" height="2.0" fill="#c6eefe"/>
<rect x="278.5" y="437.8" width="104.0" height="2.0" fill="#b8e7fe"/>
<rect x="382.5" y="437.8" width="12.0" height="2.0" fill="#c6eefe"/>
<rect x="394.5" y="437.8" width="4.0" height="2.0" fill="#d4f3ff"/>
<rect x="398.5" y="437.8" width="4.0" height="2.0" fill="#e4f8ff"/>
<rect x="114.5" y="439.8" width="34.0" height="2.0" fill="#fffadc"/>
<rect x="226.5" y="439.8" width="18.0" height="2.0" fill="#e4f8ff"/>
<rect x="244.5" y="439.8" width="24.0" height="2.0" fill="#d4f3ff"/>
<rect x="268.5" y="439.8" width="10.0" height="2.0" fill="#c6eefe"/>
<rect x="278.5" y="439.8" width="12.0" height="2.0" fill="#b8e7fe"/>
<rect x="290.5" y="439.8" width="10.0" height="2.0" fill="#c6eefe"/>
<rect x="300.5" y="439.8" width="80.0" height="2.0" fill="#b8e7fe"/>
<rect x="380.5" y="439.8" width="14.0" height="2.0" fill="#c6eefe"/>
<rect x="394.5" y="439.8" width="4.0" height="2.0" fill="#d4f3ff"/>
<rect x="398.5" y="439.8" width="4.0" height="2.0" fill="#e4f8ff"/>
<rect x="118.5" y="441.8" width="28.0" height="2.0" fill="#fffadc"/>
<rect x="226.5" y="441.8" width="22.0" height="2.0" fill="#e4f8ff"/>
<rect x="248.5" y="441.8" width="20.0" height="2.0" fill="#d4f3ff"/>
<rect x="268.5" y="441.8" width="10.0" height="2.0" fill="#c6eefe"/>
<rect x="278.5" y="441.8" width="6.0" height="2.0" fill="#b8e7fe"/>
<rect x="284.5" y="441.8" width="22.0" height="2.0" fill="#c6eefe"/>
<rect x="306.5" y="441.8" width="72.0" height="2.0" fill="#b8e7fe"/>
<rect x="378.5" y="441.8" width="14.0" height="2.0" fill="#c6eefe"/>
<rect x="392.5" y="441.8" width="6.0" height="2.0" fill="#d4f3ff"/>
<rect x="398.5" y="441.8" width="4.0" height="2.0" fill="#e4f8ff"/>
<rect x="120.5" y="443.8" width="26.0" height="2.0" fill="#fffadc"/>
<rect x="228.5" y="443.8" width="24.0" height="2.0" fill="#e4f8ff"/>
<rect x="252.5" y="443.8" width="18.0" height="2.0" fill="#d4f3ff"/>
<rect x="270.5" y="443.8" width="62.0" height="2.0" fill="#c6eefe"/>
<rect x="332.5" y="443.8" width="34.0" height="2.0" fill="#b8e7fe"/>
<rect x="366.5" y="443.8" width="24.0" height="2.0" fill="#c6eefe"/>
<rect x="390.5" y="443.8" width="6.0" height="2.0" fill="#d4f3ff"/>
<rect x="396.5" y="443.8" width="6.0" height="2.0" fill="#e4f8ff"/>
<rect x="122.5" y="445.8" width="22.0" height="2.0" fill="#fffadc"/>
<rect x="228.5" y="445.8" width="30.0" height="2.0" fill="#e4f8ff"/>
<rect x="258.5" y="445.8" width="14.0" height="2.0" fill="#d4f3ff"/>
<rect x="272.5" y="445.8" width="110.0" height="2.0" fill="#c6eefe"/>
<rect x="382.5" y="445.8" width="14.0" height="2.0" fill="#d4f3ff"/>
<rect x="396.5" y="445.8" width="6.0" height="2.0" fill="#e4f8ff"/>
<rect x="124.5" y="447.8" width="20.0" height="2.0" fill="#fffadc"/>
<rect x="232.5" y="447.8" width="30.0" height="2.0" fill="#e4f8ff"/>
<rect x="262.5" y="447.8" width="12.0" height="2.0" fill="#d4f3ff"/>
<rect x="274.5" y="447.8" width="14.0" height="2.0" fill="#c6eefe"/>
<rect x="288.5" y="447.8" width="42.0" height="2.0" fill="#d4f3ff"/>
<rect x="330.5" y="447.8" width="22.0" height="2.0" fill="#c6eefe"/>
<rect x="352.5" y="447.8" width="40.0" height="2.0" fill="#d4f3ff"/>
<rect x="392.5" y="447.8" width="8.0" height="2.0" fill="#e4f8ff"/>
<rect x="126.5" y="449.8" width="16.0" height="2.0" fill="#fffadc"/>
<rect x="240.5" y="449.8" width="24.0" height="2.0" fill="#e4f8ff"/>
<rect x="264.5" y="449.8" width="12.0" height="2.0" fill="#d4f3ff"/>
<rect x="276.5" y="449.8" width="8.0" height="2.0" fill="#c6eefe"/>
<rect x="284.5" y="449.8" width="72.0" height="2.0" fill="#d4f3ff"/>
<rect x="356.5" y="449.8" width="42.0" height="2.0" fill="#e4f8ff"/>
<rect x="128.5" y="451.8" width="14.0" height="2.0" fill="#fffadc"/>
<rect x="200.5" y="451.8" width="2.0" height="2.0" fill="#fffadc"/>
<rect x="250.5" y="451.8" width="18.0" height="2.0" fill="#e4f8ff"/>
<rect x="268.5" y="451.8" width="24.0" height="2.0" fill="#d4f3ff"/>
<rect x="292.5" y="451.8" width="44.0" height="2.0" fill="#e4f8ff"/>
<rect x="336.5" y="451.8" width="8.0" height="2.0" fill="#d4f3ff"/>
<rect x="344.5" y="451.8" width="52.0" height="2.0" fill="#e4f8ff"/>
<rect x="130.5" y="453.8" width="10.0" height="2.0" fill="#fffadc"/>
<rect x="196.5" y="453.8" width="12.0" height="2.0" fill="#fffadc"/>
<rect x="254.5" y="453.8" width="16.0" height="2.0" fill="#e4f8ff"/>
<rect x="270.5" y="453.8" width="18.0" height="2.0" fill="#d4f3ff"/>
<rect x="288.5" y="453.8" width="62.0" height="2.0" fill="#e4f8ff"/>
<rect x="132.5" y="455.8" width="6.0" height="2.0" fill="#fffadc"/>
<rect x="194.5" y="455.8" width="18.0" height="2.0" fill="#fffadc"/>
<rect x="258.5" y="455.8" width="16.0" height="2.0" fill="#e4f8ff"/>
<rect x="274.5" y="455.8" width="10.0" height="2.0" fill="#d4f3ff"/>
<rect x="284.5" y="455.8" width="10.0" height="2.0" fill="#e4f8ff"/>
<rect x="192.5" y="457.8" width="22.0" height="2.0" fill="#fffadc"/>
<rect x="262.5" y="457.8" width="14.0" height="2.0" fill="#e4f8ff"/>
<rect x="276.5" y="457.8" width="4.0" height="2.0" fill="#d4f3ff"/>
<rect x="280.5" y="457.8" width="10.0" height="2.0" fill="#e4f8ff"/>
<rect x="356.5" y="457.8" width="10.0" height="2.0" fill="#fffadc"/>
<rect x="192.5" y="459.8" width="22.0" height="2.0" fill="#fffadc"/>
<rect x="262.5" y="459.8" width="26.0" height="2.0" fill="#e4f8ff"/>
<rect x="352.5" y="459.8" width="20.0" height="2.0" fill="#fffadc"/>
<rect x="192.5" y="461.8" width="24.0" height="2.0" fill="#fffadc"/>
<rect x="264.5" y="461.8" width="24.0" height="2.0" fill="#e4f8ff"/>
<rect x="352.5" y="461.8" width="24.0" height="2.0" fill="#fffadc"/>
<rect x="192.5" y="463.8" width="24.0" height="2.0" fill="#fffadc"/>
<rect x="264.5" y="463.8" width="24.0" height="2.0" fill="#e4f8ff"/>
<rect x="352.5" y="463.8" width="24.0" height="2.0" fill="#fffadc"/>
<rect x="192.5" y="465.8" width="24.0" height="2.0" fill="#fffadc"/>
<rect x="264.5" y="465.8" width="24.0" height="2.0" fill="#e4f8ff"/>
<rect x="352.5" y="465.8" width="24.0" height="2.0" fill="#fffadc"/>
<rect x="192.5" y="467.8" width="24.0" height="2.0" fill="#fffadc"/>
<rect x="264.5" y="467.8" width="24.0" height="2.0" fill="#e4f8ff"/>
<rect x="352.5" y="467.8" width="24.0" height="2.0" fill="#fffadc"/>
</g>
<polygon points="128.0,300.0 135.0,285.0 155.0,278.0 185.0,276.0 220.0,276.0 260.0,276.0 280.0,282.0 285.0,300.0 300.0,310.0 320.0,315.0 320.0,335.0 300.0,342.0 260.0,345.0 220.0,347.0 180.0,346.0 150.0,338.0 135.0,320.0" fill="url(#dots)"/>
<polygon points="80.0,327.0 96.0,326.0 118.0,334.0 140.0,348.0 160.0,362.0 170.0,378.0 160.0,392.0 145.0,392.0 125.0,372.0 100.0,352.0 85.0,340.0" fill="url(#dots)"/>
<polygon points="140.0,362.0 170.0,356.0 220.0,350.0 260.0,347.0 300.0,345.0 330.0,347.0 350.0,352.0 360.0,365.0 355.0,385.0 330.0,392.0 300.0,398.0 260.0,402.0 230.0,408.0 205.0,422.0 170.0,428.0 150.0,420.0 140.0,400.0" fill="url(#dots)"/>
<polygon points="320.0,312.0 345.0,302.0 366.0,298.0 390.0,296.0 420.0,293.0 435.0,290.0 444.0,282.0 474.0,281.0 474.0,362.0 440.0,360.0 400.0,362.0 360.0,360.0 330.0,352.0 315.0,335.0" fill="url(#dots)"/>
<polygon points="440.0,262.0 474.0,262.0 474.0,266.5 440.0,266.5" fill="url(#dots)"/>
<polygon points="236.0,408.0 260.0,402.0 300.0,398.0 330.0,392.0 355.0,385.0 370.0,380.0 395.0,368.0 400.0,385.0 385.0,395.0 375.0,420.0 365.0,435.0 340.0,440.0 310.0,435.0 290.0,432.0 260.0,430.0 245.0,425.0" fill="url(#dots)"/>
<polyline points="48.5,327.5 53.8,327.5 64.4,329.8 71.5,333.3 75.0,336.8 78.6,341.5 82.1,343.8 85.7,348.5 89.2,352.0 93.6,356.6 94.5,362.5 94.5,369.5 94.5,376.5 97.2,382.3 99.8,388.1 105.1,390.5 106.9,394.0 109.6,399.8 112.2,404.5 115.7,409.1 119.3,413.8 120.2,416.1 119.3,412.6 115.7,406.8 114.0,401.0 111.3,396.3 114.0,397.5 117.5,402.1 121.1,408.0 126.4,416.1 128.1,423.1 129.9,425.5 135.2,429.0 142.3,432.5 147.6,432.5 151.1,436.0 158.2,438.8 160.0,440.6 161.8,443.0 162.6,446.5 165.3,448.8 168.8,450.4 172.4,452.8 175.9,450.0 176.8,453.5 175.9,462.8 172.4,469.8" fill="none" stroke="#9a9a9a" stroke-width="0.9" stroke-linejoin="round"/>
<polyline points="176.8,449.7 173.3,447.6 169.7,448.8 166.2,444.6 166.2,437.1 163.5,432.5 158.2,432.9 157.3,429.0 159.1,422.0 160.3,419.6 153.8,420.8 153.8,424.3 151.1,426.6 146.7,427.3 144.1,425.5 141.4,419.6 141.0,413.8 141.9,405.6 147.6,401.0 154.7,401.7 156.4,399.1 163.5,400.3 167.1,402.1 167.9,406.8 170.6,411.0 172.0,409.1 171.5,403.3 170.1,398.6 171.0,395.1 175.0,390.9 179.4,388.1 180.0,384.6 178.9,381.1 181.2,380.0 183.0,376.5 186.5,374.1 190.1,372.7 189.2,369.5 193.6,366.4 197.1,364.8 200.7,363.6 206.0,363.6 207.8,362.0 205.1,360.1 199.8,356.6 197.1,354.3 207.8,352.7 213.1,349.6 214.8,348.5 212.2,342.6 207.8,340.3 205.1,336.8 202.5,333.3 199.8,329.8 197.1,332.6 194.5,333.8 191.0,332.1 190.1,327.5 186.5,324.4 181.2,324.4 175.9,324.0 176.8,329.8 177.7,334.5 177.7,339.1 174.1,342.6 174.1,348.5 170.6,348.5 167.9,346.1 168.3,341.5 163.5,340.8 158.2,338.0 153.8,336.8 149.4,333.3 146.7,329.8 147.6,326.3 151.1,323.3 153.8,320.9 160.0,319.3 161.8,314.6 165.3,313.5 168.8,310.0 163.5,307.2 154.7,310.0 145.8,311.1 142.3,310.0 137.0,311.6 128.1,310.4 122.8,311.1 115.7,311.8 110.4,311.1 105.1,308.8 99.8,307.6 92.7,306.9 83.9,306.5 75.0,308.1 66.2,307.4 57.3,306.5 48.5,305.3" fill="none" stroke="#9a9a9a" stroke-width="0.9" stroke-linejoin="round"/>
<polyline points="209.5,359.0 214.8,359.0 220.1,360.6 220.7,357.8 218.4,354.3 215.7,349.6 212.2,352.0 209.5,356.6 209.5,359.0" fill="none" stroke="#9a9a9a" stroke-width="0.9" stroke-linejoin="round"/>
<polyline points="237.8,329.8 243.2,319.3 250.2,317.0 257.3,311.1 267.9,310.0 275.0,306.5 275.0,301.8 278.5,297.1 280.3,292.5 282.1,287.8 280.3,283.1 287.4,279.6 278.5,278.5 260.9,275.4 243.2,275.0 225.5,277.3 207.8,278.5 200.7,280.8 193.6,283.1 184.8,286.6 190.1,289.4 197.1,292.5 207.8,292.5 213.1,294.8 214.8,299.5 216.6,304.1 220.1,306.9 223.7,310.0 220.1,313.5 221.0,318.1 225.5,324.0 229.0,327.5 237.8,329.8" fill="none" stroke="#9a9a9a" stroke-width="0.9" stroke-linejoin="round"/>
<polyline points="204.2,314.6 200.7,318.1 197.1,322.8 193.6,324.0 188.3,321.6 183.0,319.3 176.8,320.5 177.7,317.0 183.0,315.8 184.8,311.1 179.4,307.6 172.4,306.5 163.5,306.5 156.4,304.1 160.0,299.5 172.4,298.3 177.7,300.6 186.5,304.1 193.6,306.5 195.4,308.8 202.5,312.3 204.2,314.6" fill="none" stroke="#9a9a9a" stroke-width="0.9" stroke-linejoin="round"/>
<polyline points="181.2,290.1 172.4,291.3 158.2,291.3 149.4,289.4 154.7,286.6 163.5,283.1 172.4,279.6 190.1,277.3 204.2,277.3 198.9,280.8 190.1,283.1 181.2,285.5 175.9,287.8 181.2,290.1" fill="none" stroke="#9a9a9a" stroke-width="0.9" stroke-linejoin="round"/>
<polyline points="172.4,296.0 154.7,296.0 149.4,293.6 163.5,292.0 172.4,293.6 172.4,296.0" fill="none" stroke="#9a9a9a" stroke-width="0.9" stroke-linejoin="round"/>
<polyline points="137.0,307.6 128.1,308.8 119.3,306.5 105.1,304.6 106.9,300.6 119.3,299.5 128.1,299.5 133.4,301.8 137.0,307.6" fill="none" stroke="#9a9a9a" stroke-width="0.9" stroke-linejoin="round"/>
<polyline points="101.6,301.8 92.7,301.8 94.5,296.0 105.1,293.6 110.4,297.1 101.6,301.8" fill="none" stroke="#9a9a9a" stroke-width="0.9" stroke-linejoin="round"/>
<polyline points="149.4,301.8 140.5,301.8 137.0,297.1 145.8,296.4 149.4,301.8" fill="none" stroke="#9a9a9a" stroke-width="0.9" stroke-linejoin="round"/>
<polyline points="128.1,293.6 110.4,293.6 105.1,291.3 119.3,290.1 131.7,291.3 128.1,293.6" fill="none" stroke="#9a9a9a" stroke-width="0.9" stroke-linejoin="round"/>
<polyline points="274.1,320.5 282.1,321.6 289.2,319.3 290.0,317.0 285.6,314.6 278.5,315.8 272.4,315.8 271.5,318.1 274.1,320.5" fill="none" stroke="#9a9a9a" stroke-width="0.9" stroke-linejoin="round"/>
<polyline points="304.2,353.1 316.6,350.8 316.6,346.1 313.9,343.8 311.3,340.3 310.4,336.8 308.6,333.3 305.1,333.1 303.3,336.8 304.2,340.3 308.6,343.8 306.0,346.1 305.1,349.2 304.2,353.1" fill="none" stroke="#9a9a9a" stroke-width="0.9" stroke-linejoin="round"/>
<polyline points="303.3,348.5 303.3,343.8 300.7,340.8 296.2,343.8 296.2,348.5 303.3,348.5" fill="none" stroke="#9a9a9a" stroke-width="0.9" stroke-linejoin="round"/>
<polyline points="330.7,382.8 324.6,383.5 319.2,383.9 313.9,386.3 310.4,387.9 304.2,386.3 302.4,390.5 297.1,397.5 296.2,402.1 290.9,405.6 285.6,413.8 283.9,420.8 284.7,425.5 285.6,431.3 283.9,436.0 284.7,440.6 287.4,444.1 290.9,448.8 294.5,453.9 300.7,459.5 306.9,457.7 311.3,458.1 315.7,455.8 321.0,454.9 324.6,459.3 329.0,459.3 330.7,462.8 331.3,467.5 330.4,472.1" fill="none" stroke="#9a9a9a" stroke-width="0.9" stroke-linejoin="round"/>
<polyline points="330.7,382.8 333.4,383.5 331.6,389.3 335.2,390.5 340.5,394.0 349.3,394.0 349.3,397.5 358.2,395.8 363.5,397.5 367.0,396.8 371.4,397.0 375.0,396.3 375.9,392.8 377.6,388.1 377.6,383.9 374.1,384.6 370.6,385.3 367.9,385.1 363.5,384.2 361.7,381.1 360.8,376.5 359.9,374.6 357.3,374.1 354.6,375.3 356.4,376.5 355.5,381.1 352.9,383.5 351.1,380.0 348.4,376.5 348.4,373.0 344.0,369.5 340.5,366.0 337.8,363.2 336.1,366.0 338.7,370.6 342.3,373.0 346.7,376.0 344.0,378.8 342.3,381.1 341.4,376.5 336.1,373.0 332.5,369.5 329.9,366.2 327.2,367.6 322.8,368.8 319.2,368.8 319.2,371.8 313.9,377.6 313.9,380.0 310.4,383.9 304.2,385.8 303.3,384.6 298.0,383.5 298.0,378.8 298.0,369.5 299.8,367.8 310.4,368.5 311.6,366.0 311.8,362.5 309.5,359.4 306.0,357.8 311.3,356.2 316.6,353.1 319.2,350.1 321.9,347.3 322.8,345.2 326.3,345.0 329.0,343.8 329.0,340.3 328.1,336.8 332.5,335.2 332.5,339.1 336.1,340.3 333.4,343.8 338.7,343.8 345.8,342.2 349.3,342.6 351.1,339.1 352.0,335.6 355.5,336.8 357.3,332.8 363.5,331.0 354.6,329.8 352.0,327.5 352.0,322.8 358.2,318.1 356.4,315.8 352.9,317.0 351.1,319.3 345.8,324.0 344.9,327.5 347.6,329.8 346.7,332.1 343.1,335.6 342.3,338.7 338.7,340.3 336.1,338.0 333.4,332.1 331.6,332.1 328.1,334.5 324.6,334.0 322.8,329.8 323.3,325.1 328.1,321.6 332.5,319.3 336.1,315.8 339.6,311.1 342.3,308.8 347.6,306.5 354.6,304.8 359.9,304.1 364.4,304.1 368.8,305.8 367.0,307.2 372.3,307.6 377.6,308.3 384.7,311.6 386.5,314.6 381.2,315.8 375.0,314.6 372.3,315.8 375.9,319.3 379.4,320.5 381.2,318.6 385.6,319.3 391.8,315.8 392.7,310.4 395.3,311.1 398.9,311.8 407.7,310.0 411.3,310.4 416.6,309.3 420.1,306.9 427.2,308.1 432.5,310.0 436.0,308.8 432.5,305.3 432.5,302.3 436.0,299.5 440.5,299.5 443.1,303.0 443.1,307.6 444.0,311.1 448.4,310.4 452.0,304.1 448.4,301.3 452.0,301.1 456.4,298.3 467.9,297.1 473.2,294.8" fill="none" stroke="#9a9a9a" stroke-width="0.9" stroke-linejoin="round"/>
<polyline points="406.0,304.1 413.0,304.8 416.6,303.0 413.0,298.3 416.6,293.6 425.4,291.8 434.3,290.1 430.7,292.9 420.1,297.1 413.9,301.8 411.3,304.1 406.0,304.1" fill="none" stroke="#9a9a9a" stroke-width="0.9" stroke-linejoin="round"/>
<polyline points="333.4,287.8 342.3,290.1 352.9,289.0 356.4,286.6 361.7,284.3 354.6,282.7 345.8,282.4 333.4,283.6 333.4,287.8" fill="none" stroke="#9a9a9a" stroke-width="0.9" stroke-linejoin="round"/>
<polyline points="363.5,373.4 365.3,374.1 368.8,373.9 374.1,371.8 377.6,372.5 381.2,374.1 384.7,374.1 387.4,373.0 387.4,370.6 384.7,368.3 381.2,366.0 379.4,364.8 375.9,364.8 373.2,366.0 372.3,363.6 368.8,361.1 367.0,363.6 365.3,366.0 363.5,369.5 363.5,373.4" fill="none" stroke="#9a9a9a" stroke-width="0.9" stroke-linejoin="round"/>
<polyline points="397.1,366.0 398.9,371.8 400.6,375.3 401.5,381.1 403.3,383.5 407.7,383.5 409.5,381.1 407.7,376.5 407.7,371.8 404.2,367.1 404.2,363.6 407.7,361.3 404.2,360.1 400.6,361.3 397.1,366.0" fill="none" stroke="#9a9a9a" stroke-width="0.9" stroke-linejoin="round"/>
<polyline points="375.0,401.0 375.9,404.5 378.5,409.1 381.2,413.8 383.0,418.5 384.7,425.5 388.3,431.3 390.0,437.1 390.9,440.2 393.6,439.9 398.9,437.1 402.4,434.8 406.0,432.5 409.5,430.1 412.1,427.8 414.8,425.5 416.6,422.0 419.2,417.3 417.5,414.7 413.9,412.6 413.0,409.1 409.5,413.3 406.0,413.8 404.2,412.6 405.1,409.1 402.4,409.1 400.6,405.6 398.9,401.0 399.8,399.1 402.4,399.1 404.2,403.3 409.5,407.3 413.0,406.8 415.7,409.8 422.8,411.0 430.7,410.8 433.4,413.8 435.2,416.1 437.8,417.3 442.2,419.6 443.1,425.5 444.0,432.5 445.8,437.1 446.7,441.8 448.4,446.5 450.2,450.7 452.0,449.0 454.6,445.8 455.5,439.5 456.0,433.6 459.0,430.1 462.6,426.6 466.1,423.1 467.9,419.6 471.4,418.5 473.2,418.5" fill="none" stroke="#9a9a9a" stroke-width="0.9" stroke-linejoin="round"/>
<polyline points="371.4,400.0 373.2,404.5 374.1,408.0 376.8,413.8 379.4,420.8 380.3,426.6 383.0,432.5 384.7,434.8 387.4,438.3 390.0,441.8 391.8,445.3 395.3,444.8 398.9,443.9 404.2,442.3 404.2,446.5 402.4,451.1 399.8,457.0 395.3,465.1 390.0,472.1" fill="none" stroke="#9a9a9a" stroke-width="0.9" stroke-linejoin="round"/>
<polyline points="455.5,455.8 458.7,453.5 457.8,450.0 455.5,447.2 455.2,451.1 455.5,455.8" fill="none" stroke="#9a9a9a" stroke-width="0.9" stroke-linejoin="round"/>
<polyline points="163.5,418.9 168.8,416.1 172.4,416.1 177.7,419.6 182.6,422.7 176.8,423.4 172.4,419.2 167.1,418.5 163.5,418.9" fill="none" stroke="#9a9a9a" stroke-width="0.9" stroke-linejoin="round"/>
<polyline points="182.1,426.9 186.5,423.6 191.8,424.8 192.7,426.9 188.3,427.8 182.1,426.9" fill="none" stroke="#9a9a9a" stroke-width="0.9" stroke-linejoin="round"/>
<polyline points="177.7,451.1 179.4,447.6 181.2,444.6 184.8,443.0 187.4,441.1 188.3,444.1 187.2,445.3 190.1,442.5 193.6,445.1 197.1,445.1 200.7,445.1 204.2,445.3 206.0,450.0 209.5,451.6 213.1,455.8 218.4,456.3 221.9,458.1 223.7,461.6 225.5,465.8 225.5,469.8" fill="none" stroke="#9a9a9a" stroke-width="0.9" stroke-linejoin="round"/>
<polyline points="92.7,303.0 99.8,303.0 106.9,299.5 105.1,296.0 99.8,296.4 92.7,298.3 92.7,303.0" fill="none" stroke="#9a9a9a" stroke-width="0.9" stroke-linejoin="round"/>
<polyline points="138.7,303.0 144.1,303.0 144.1,297.1 137.0,298.3 138.7,303.0" fill="none" stroke="#9a9a9a" stroke-width="0.9" stroke-linejoin="round"/>
<polyline points="145.8,301.8 151.1,301.8 154.7,297.1 147.6,297.1 145.8,301.8" fill="none" stroke="#9a9a9a" stroke-width="0.9" stroke-linejoin="round"/>
<polyline points="110.4,296.0 126.4,294.8 128.1,292.5 114.0,291.3 106.9,292.5 110.4,296.0" fill="none" stroke="#9a9a9a" stroke-width="0.9" stroke-linejoin="round"/>
<polyline points="137.0,294.8 142.3,294.8 144.1,291.3 137.0,291.3 137.0,294.8" fill="none" stroke="#9a9a9a" stroke-width="0.9" stroke-linejoin="round"/>
<polyline points="145.8,287.8 158.2,287.8 158.2,282.0 147.6,280.8 145.8,287.8" fill="none" stroke="#9a9a9a" stroke-width="0.9" stroke-linejoin="round"/>
<polyline points="160.0,321.6 168.8,321.6 172.4,319.3 165.3,315.8 160.0,318.1 160.0,321.6" fill="none" stroke="#9a9a9a" stroke-width="0.9" stroke-linejoin="round"/>
<polyline points="165.3,307.6 158.2,306.5 151.1,305.3 147.6,301.8 154.7,300.6 161.8,304.1 165.3,307.6" fill="none" stroke="#9a9a9a" stroke-width="0.9" stroke-linejoin="round"/>
<polyline points="119.3,289.0 129.9,288.3 137.0,286.6 128.1,285.5 115.7,286.6 119.3,289.0" fill="none" stroke="#9a9a9a" stroke-width="0.9" stroke-linejoin="round"/>
<polyline points="352.9,329.8 358.2,329.1 363.5,328.6 367.0,329.8 363.5,331.0" fill="none" stroke="#9a9a9a" stroke-width="0.9" stroke-linejoin="round"/>
<polyline points="299.8,342.6 304.2,342.6" fill="none" stroke="#9a9a9a" stroke-width="0.9" stroke-linejoin="round"/>
<path d="M156.1,320.0 C156.3,316.8 157.4,310.8 158.5,307.4 C159.6,303.9 160.3,302.0 162.6,299.3 C164.9,296.6 168.0,293.5 172.3,291.3 C176.6,289.1 183.0,287.8 188.4,286.4 C193.8,285.0 199.2,284.1 204.5,283.2 C209.8,282.3 212.4,281.6 220.0,281.0 C227.6,280.4 241.7,279.9 250.0,279.5 C258.3,279.1 261.7,278.7 270.0,278.5 C278.3,278.3 290.0,278.5 300.0,278.5 C310.0,278.5 322.1,278.3 330.0,278.5 C337.9,278.7 341.6,278.9 347.4,279.5 C353.2,280.1 359.5,280.8 364.8,282.2 C370.1,283.6 375.5,285.6 379.4,288.0 C383.3,290.4 386.2,293.3 388.1,296.7 C390.0,300.1 391.2,304.5 391.0,308.4 C390.8,312.3 389.5,316.9 386.6,320.0 C383.7,323.1 379.2,325.4 373.6,327.2 C368.0,328.9 360.5,329.6 353.2,330.5 C345.9,331.4 338.9,331.7 330.0,332.5 C321.1,333.3 311.7,334.3 300.0,335.5 C288.3,336.7 273.3,338.5 260.0,339.5 C246.7,340.5 230.6,341.4 220.0,341.5 C209.4,341.6 203.1,340.8 196.5,340.0 C189.9,339.2 185.7,338.3 180.3,337.0 C174.9,335.7 168.1,333.7 164.2,332.0 C160.3,330.3 158.3,328.7 157.0,326.7 C155.7,324.7 155.8,323.2 156.1,320.0Z" fill="none" stroke="#000" stroke-width="2.9" stroke-dasharray="13.6,3.6"/>
<path d="M173.9,317.0 C173.8,314.4 174.0,310.4 174.5,308.0 C175.0,305.6 174.8,304.6 177.1,302.5 C179.4,300.4 183.8,297.3 188.4,295.3 C193.0,293.3 199.2,291.7 204.5,290.5 C209.8,289.3 212.4,288.7 220.0,288.0 C227.6,287.3 241.7,286.9 250.0,286.5 C258.3,286.1 261.7,285.7 270.0,285.5 C278.3,285.3 290.0,285.3 300.0,285.5 C310.0,285.7 321.6,286.2 330.0,286.6 C338.4,287.0 345.0,286.8 350.3,288.0 C355.6,289.2 359.0,291.4 361.9,293.8 C364.8,296.2 367.0,299.5 367.7,302.6 C368.4,305.8 367.8,309.8 366.3,312.7 C364.9,315.6 363.1,318.1 359.0,320.0 C354.9,321.9 348.1,323.0 341.6,324.3 C335.1,325.6 328.6,326.7 320.0,328.0 C311.4,329.3 300.0,330.8 290.0,332.0 C280.0,333.2 271.7,334.6 260.0,335.5 C248.3,336.4 230.6,337.6 220.0,337.5 C209.4,337.4 202.8,336.1 196.5,334.8 C190.2,333.6 185.5,331.9 181.9,330.0 C178.3,328.1 176.3,325.7 175.0,323.5 C173.7,321.3 174.0,319.6 173.9,317.0Z" fill="none" stroke="#000" stroke-width="2.9" stroke-dasharray="13.6,3.6"/>
<path d="M188.2,314.5 C188.4,311.9 189.5,308.8 191.0,306.5 C192.5,304.2 194.8,302.4 197.0,301.0 C199.2,299.6 200.7,299.3 204.5,298.3 C208.3,297.3 212.4,296.1 220.0,295.0 C227.6,293.9 240.0,292.7 250.0,292.0 C260.0,291.3 268.3,290.8 280.0,291.0 C291.7,291.2 310.3,292.2 320.4,293.3 C330.5,294.4 335.9,295.6 340.6,297.3 C345.3,299.0 347.4,301.0 348.6,303.4 C349.8,305.8 349.3,309.0 347.6,311.4 C345.9,313.8 343.1,315.6 338.5,317.5 C333.9,319.4 328.1,321.2 320.0,323.0 C311.9,324.8 300.0,327.0 290.0,328.5 C280.0,330.0 270.0,331.2 260.0,332.0 C250.0,332.8 238.4,333.4 230.0,333.3 C221.6,333.2 215.0,332.4 209.4,331.6 C203.8,330.8 199.8,330.0 196.5,328.4 C193.2,326.8 190.9,324.2 189.5,321.9 C188.1,319.6 187.9,317.1 188.2,314.5Z" fill="none" stroke="#000" stroke-width="2.9" stroke-dasharray="13.6,3.6"/>
<path d="M203.2,314.0 C203.4,311.9 203.9,309.8 205.0,308.0 C206.1,306.2 207.5,304.8 210.0,303.5 C212.5,302.2 213.3,301.6 220.0,300.5 C226.7,299.4 240.0,297.7 250.0,297.0 C260.0,296.3 269.9,296.3 280.0,296.5 C290.1,296.7 302.9,297.3 310.3,298.3 C317.7,299.3 321.0,300.8 324.4,302.3 C327.8,303.8 329.8,305.5 330.5,307.4 C331.2,309.2 330.5,311.4 328.5,313.4 C326.5,315.4 323.1,317.6 318.4,319.5 C313.6,321.4 308.1,323.1 300.0,324.5 C291.9,325.9 280.0,327.2 270.0,328.0 C260.0,328.8 248.3,329.3 240.0,329.3 C231.7,329.3 225.1,328.7 220.0,328.0 C214.9,327.3 212.1,326.4 209.4,325.1 C206.7,323.8 205.0,322.2 204.0,320.3 C203.0,318.4 203.0,316.1 203.2,314.0Z" fill="none" stroke="#000" stroke-width="2.9" stroke-dasharray="13.6,3.6"/>
<path d="M222.0,315.0 C222.0,312.9 222.8,309.8 225.0,308.0 C227.2,306.2 229.2,305.0 235.0,304.0 C240.8,303.0 250.8,302.2 260.0,302.0 C269.2,301.8 283.3,302.1 290.0,302.5 C296.7,302.9 297.1,303.2 300.2,304.4 C303.3,305.5 307.3,307.7 308.5,309.4 C309.7,311.1 309.6,312.7 307.5,314.4 C305.4,316.1 300.8,318.1 296.2,319.5 C291.6,320.9 286.9,321.8 280.0,322.5 C273.1,323.2 262.5,323.9 255.0,324.0 C247.5,324.1 240.0,323.6 235.0,323.0 C230.0,322.4 227.2,321.8 225.0,320.5 C222.8,319.2 222.0,317.1 222.0,315.0Z" fill="none" stroke="#000" stroke-width="2.9" stroke-dasharray="13.6,3.6"/>
<path d="M474.0,261.0 C468.3,261.0 452.3,261.1 440.0,261.2 C427.7,261.3 415.0,261.4 400.0,261.5 C385.0,261.6 366.7,261.8 350.0,262.0 C333.3,262.2 315.0,262.4 300.0,262.8 C285.0,263.2 273.3,263.7 260.0,264.5 C246.7,265.3 229.2,266.7 220.0,267.5 C210.8,268.3 209.8,268.8 204.5,269.5 C199.2,270.2 193.8,271.1 188.4,271.9 C183.0,272.7 177.0,273.4 172.3,274.3 C167.6,275.2 164.2,275.8 160.0,277.0 C155.8,278.2 150.9,279.0 147.3,281.6 C143.7,284.2 140.6,288.8 138.3,292.9 C136.1,297.0 136.4,303.0 133.8,306.4 C131.2,309.8 125.5,311.1 122.5,313.2 C119.5,315.3 116.5,316.9 115.7,318.8 C115.0,320.7 115.7,322.4 118.0,324.5 C120.3,326.6 125.2,329.1 129.3,331.2 C133.4,333.3 138.1,335.2 142.8,336.9 C147.5,338.6 151.9,340.1 157.3,341.5 C162.7,342.9 168.2,344.3 175.3,345.0 C182.4,345.7 190.9,345.6 200.0,345.5 C209.1,345.4 220.0,345.0 230.0,344.5 C240.0,344.0 248.3,343.5 260.0,342.5 C271.7,341.5 288.3,339.8 300.0,338.5 C311.7,337.2 322.1,335.7 330.0,334.8 C337.9,333.9 341.1,334.0 347.4,333.2 C353.7,332.4 361.4,331.3 367.7,330.1 C374.0,328.9 380.3,328.0 385.2,325.8 C390.1,323.6 393.4,320.5 396.8,317.1 C400.2,313.7 402.6,309.4 405.5,305.5 C408.4,301.6 410.8,297.2 414.2,293.8 C417.6,290.4 421.4,287.5 425.8,285.1 C430.2,282.7 435.0,280.8 440.3,279.3 C445.6,277.9 452.2,277.1 457.8,276.4 C463.4,275.7 471.3,275.4 474.0,275.2" fill="none" stroke="#000" stroke-width="2.9" stroke-dasharray="13.6,3.6"/>
<path d="M48.1,276.3 C49.7,277.0 54.8,278.9 57.8,280.4 C60.8,281.9 63.6,283.3 66.1,285.3 C68.6,287.3 71.4,289.7 73.0,292.2 C74.6,294.7 75.2,298.0 75.8,300.5 C76.4,303.0 77.2,305.3 76.5,307.4 C75.8,309.5 74.0,311.1 71.6,312.9 C69.2,314.7 65.0,316.7 62.0,318.4 C59.0,320.1 56.0,321.9 53.7,323.3 C51.4,324.7 49.0,326.1 48.1,326.7" fill="none" stroke="#000" stroke-width="2.9" stroke-dasharray="13.6,3.6"/>
<ellipse cx="261.5" cy="316.6" rx="5.3" ry="2" fill="none" stroke="#000" stroke-width="2.9"/>
<path d="M137.6,380.0 C138.0,376.4 139.0,373.4 140.9,370.9 C142.8,368.4 145.0,367.0 149.1,365.2 C153.2,363.4 160.3,361.3 165.5,360.3 C170.7,359.3 174.2,359.9 180.0,359.3 C185.8,358.7 193.7,357.4 200.5,356.5 C207.3,355.6 214.0,354.8 220.6,354.0 C227.2,353.2 234.3,352.3 240.0,351.5 C245.7,350.7 249.2,349.9 255.0,349.0 C260.8,348.1 267.8,346.8 275.0,346.0 C282.2,345.2 290.5,344.8 298.0,344.5 C305.5,344.2 313.8,343.9 320.0,344.0 C326.2,344.1 329.9,343.9 335.5,344.8 C341.1,345.7 349.2,346.9 353.6,349.1 C358.0,351.3 360.4,354.9 361.8,358.2 C363.2,361.5 363.2,365.5 361.8,369.1 C360.4,372.7 358.0,376.5 353.6,380.0 C349.2,383.5 343.1,387.4 335.5,390.1 C327.9,392.9 315.8,395.1 308.2,396.5 C300.6,397.9 298.9,397.8 290.0,398.4 C281.1,399.0 263.3,399.7 255.0,400.4 C246.7,401.1 249.1,401.6 240.0,402.5 C230.9,403.4 212.1,404.9 200.5,405.6 C188.9,406.3 177.9,406.7 170.2,406.6 C162.4,406.6 158.6,406.3 154.0,405.3 C149.4,404.3 145.2,402.6 142.6,400.4 C140.0,398.2 139.3,395.6 138.5,392.2 C137.7,388.8 137.2,383.6 137.6,380.0Z" fill="none" stroke="#000" stroke-width="2.9"/>
<path d="M172.3,379.4 C173.0,377.0 175.3,374.0 178.3,371.3 C181.3,368.6 185.0,365.4 190.4,363.2 C195.8,361.0 202.3,359.6 210.6,358.2 C218.9,356.8 232.6,355.9 240.0,355.0 C247.4,354.1 249.2,353.8 255.0,353.0 C260.8,352.2 267.8,351.1 275.0,350.5 C282.2,349.9 289.4,349.9 298.0,349.4 C306.6,348.9 318.9,347.1 326.4,347.5 C333.8,347.9 338.8,349.4 342.7,351.5 C346.6,353.6 349.1,356.5 350.0,360.0 C350.9,363.5 350.6,369.1 348.2,372.7 C345.8,376.3 341.6,379.1 335.5,381.8 C329.4,384.5 319.4,387.4 311.8,389.1 C304.2,390.8 299.5,391.2 290.0,391.8 C280.5,392.4 263.3,392.2 255.0,392.5 C246.7,392.8 247.4,393.5 240.0,393.5 C232.6,393.5 219.9,393.2 210.6,392.5 C201.3,391.8 190.4,390.6 184.4,389.4 C178.4,388.2 176.3,387.1 174.3,385.4 C172.3,383.7 171.6,381.8 172.3,379.4Z" fill="none" stroke="#000" stroke-width="2.9"/>
<path d="M198.5,374.3 C198.8,372.1 199.5,369.7 202.5,367.3 C205.5,364.9 210.3,361.8 216.6,360.2 C222.8,358.6 233.6,357.9 240.0,357.5 C246.4,357.1 249.2,358.0 255.0,357.6 C260.8,357.2 267.8,355.8 275.0,355.0 C282.2,354.2 290.9,353.4 298.0,352.6 C305.1,351.9 311.7,350.1 317.3,350.5 C322.9,350.9 328.5,352.8 331.8,355.0 C335.1,357.2 337.0,360.7 337.3,363.6 C337.6,366.6 336.9,370.3 333.6,372.7 C330.3,375.1 324.6,376.7 317.3,378.2 C310.0,379.7 300.4,380.4 290.0,381.8 C279.6,383.2 263.3,385.7 255.0,386.5 C246.7,387.3 247.1,386.8 240.0,386.4 C232.9,386.0 219.2,385.4 212.6,384.4 C206.0,383.4 202.8,382.1 200.5,380.4 C198.2,378.7 198.2,376.5 198.5,374.3Z" fill="none" stroke="#000" stroke-width="2.9"/>
<path d="M214.6,372.3 C214.4,371.0 214.9,369.8 216.6,368.3 C218.3,366.8 220.8,364.4 224.7,363.2 C228.6,362.0 234.1,361.7 240.0,361.3 C245.9,360.9 253.3,361.2 260.0,361.0 C266.7,360.8 273.7,360.7 280.0,360.3 C286.3,359.9 293.4,358.6 298.0,358.5 C302.6,358.4 304.7,358.7 307.6,359.5 C310.5,360.3 314.1,361.9 315.6,363.2 C317.1,364.5 317.4,365.8 316.7,367.3 C316.0,368.8 315.1,370.6 311.6,372.3 C308.1,374.0 303.2,376.0 295.5,377.3 C287.8,378.6 274.4,379.8 265.2,380.4 C255.9,380.9 246.4,380.8 240.0,380.6 C233.6,380.4 230.4,380.1 226.7,379.4 C223.0,378.7 219.6,377.5 217.6,376.3 C215.6,375.1 214.8,373.6 214.6,372.3Z" fill="none" stroke="#000" stroke-width="2.9"/>
<path d="M48.1,353.7 C50.1,353.8 56.5,353.7 60.4,354.5 C64.3,355.3 68.9,356.7 71.8,358.6 C74.7,360.5 76.5,363.4 77.6,366.0 C78.7,368.6 78.8,371.5 78.4,374.2 C78.0,376.9 77.0,379.9 75.1,382.4 C73.2,384.8 69.9,387.0 66.9,388.9 C63.9,390.8 60.2,392.3 57.1,393.8 C54.0,395.3 49.6,397.2 48.1,397.9" fill="none" stroke="#000" stroke-width="2.9"/>
<path d="M474.0,296.4 C471.5,296.8 463.8,297.4 459.1,298.8 C454.4,300.2 449.6,302.4 446.0,304.5 C442.4,306.6 439.7,308.9 437.8,311.1 C435.9,313.3 434.8,315.2 434.5,317.6 C434.2,320.1 434.8,322.8 436.2,325.8 C437.6,328.8 440.0,332.3 442.7,335.6 C445.4,338.9 449.1,342.5 452.6,345.5 C456.2,348.5 460.4,351.4 464.0,353.6 C467.6,355.8 472.3,357.8 474.0,358.6" fill="none" stroke="#000" stroke-width="2.9"/>
<path d="M474.0,312.7 C472.1,313.0 465.0,313.3 462.4,314.4 C459.8,315.5 458.6,317.1 458.3,319.3 C458.0,321.5 459.2,325.1 460.7,327.5 C462.2,329.9 465.1,332.4 467.3,334.0 C469.5,335.6 472.9,336.8 474.0,337.3" fill="none" stroke="#000" stroke-width="2.9"/>
</g>
<rect x="48.5" y="259.8" width="424.7" height="210.0" fill="none" stroke="#000" stroke-width="1.8"/>
<line x1="43.2" y1="259.8" x2="48.5" y2="259.8" stroke="#000" stroke-width="1.5"/>
<text transform="translate(39.0,266.1) scale(0.92,1)" font-size="17.3" text-anchor="end" font-family="Liberation Sans, sans-serif" fill="#111">90N</text>
<line x1="43.2" y1="294.8" x2="48.5" y2="294.8" stroke="#000" stroke-width="1.5"/>
<text transform="translate(39.0,301.1) scale(0.92,1)" font-size="17.3" text-anchor="end" font-family="Liberation Sans, sans-serif" fill="#111">75N</text>
<line x1="43.2" y1="329.8" x2="48.5" y2="329.8" stroke="#000" stroke-width="1.5"/>
<text transform="translate(39.0,336.1) scale(0.92,1)" font-size="17.3" text-anchor="end" font-family="Liberation Sans, sans-serif" fill="#111">60N</text>
<line x1="43.2" y1="364.8" x2="48.5" y2="364.8" stroke="#000" stroke-width="1.5"/>
<text transform="translate(39.0,371.1) scale(0.92,1)" font-size="17.3" text-anchor="end" font-family="Liberation Sans, sans-serif" fill="#111">45N</text>
<line x1="43.2" y1="399.8" x2="48.5" y2="399.8" stroke="#000" stroke-width="1.5"/>
<text transform="translate(39.0,406.1) scale(0.92,1)" font-size="17.3" text-anchor="end" font-family="Liberation Sans, sans-serif" fill="#111">30N</text>
<line x1="43.2" y1="434.8" x2="48.5" y2="434.8" stroke="#000" stroke-width="1.5"/>
<text transform="translate(39.0,441.1) scale(0.92,1)" font-size="17.3" text-anchor="end" font-family="Liberation Sans, sans-serif" fill="#111">15N</text>
<line x1="43.2" y1="469.8" x2="48.5" y2="469.8" stroke="#000" stroke-width="1.5"/>
<text transform="translate(39.0,476.1) scale(0.82,1)" font-size="17.3" text-anchor="end" font-family="Liberation Sans, sans-serif" fill="#111">EQ</text>
<line x1="48.5" y1="469.8" x2="48.5" y2="474.6" stroke="#000" stroke-width="1.2"/>
<text transform="translate(48.5,490.2) scale(0.9,1)" font-size="17" text-anchor="middle" font-family="Liberation Sans, sans-serif" fill="#111">150W</text>
<line x1="101.6" y1="469.8" x2="101.6" y2="474.6" stroke="#000" stroke-width="1.2"/>
<text transform="translate(101.6,490.2) scale(0.9,1)" font-size="17" text-anchor="middle" font-family="Liberation Sans, sans-serif" fill="#111">120W</text>
<line x1="154.7" y1="469.8" x2="154.7" y2="474.6" stroke="#000" stroke-width="1.2"/>
<text transform="translate(154.7,490.2) scale(0.9,1)" font-size="17" text-anchor="middle" font-family="Liberation Sans, sans-serif" fill="#111">90W</text>
<line x1="207.8" y1="469.8" x2="207.8" y2="474.6" stroke="#000" stroke-width="1.2"/>
<text transform="translate(207.8,490.2) scale(0.9,1)" font-size="17" text-anchor="middle" font-family="Liberation Sans, sans-serif" fill="#111">60W</text>
<line x1="260.9" y1="469.8" x2="260.9" y2="474.6" stroke="#000" stroke-width="1.2"/>
<text transform="translate(260.9,490.2) scale(0.9,1)" font-size="17" text-anchor="middle" font-family="Liberation Sans, sans-serif" fill="#111">30W</text>
<line x1="313.9" y1="469.8" x2="313.9" y2="474.6" stroke="#000" stroke-width="1.2"/>
<text transform="translate(313.9,490.2) scale(0.9,1)" font-size="17" text-anchor="middle" font-family="Liberation Sans, sans-serif" fill="#111">0</text>
<line x1="367.0" y1="469.8" x2="367.0" y2="474.6" stroke="#000" stroke-width="1.2"/>
<text transform="translate(367.0,490.2) scale(0.9,1)" font-size="17" text-anchor="middle" font-family="Liberation Sans, sans-serif" fill="#111">30E</text>
<line x1="420.1" y1="469.8" x2="420.1" y2="474.6" stroke="#000" stroke-width="1.2"/>
<text transform="translate(420.1,490.2) scale(0.9,1)" font-size="17" text-anchor="middle" font-family="Liberation Sans, sans-serif" fill="#111">60E</text>
<line x1="473.2" y1="469.8" x2="473.2" y2="474.6" stroke="#000" stroke-width="1.2"/>
<text transform="translate(473.2,490.2) scale(0.9,1)" font-size="17" text-anchor="middle" font-family="Liberation Sans, sans-serif" fill="#111">90E</text>
<text x="66.9" y="277.6" font-size="23" font-family="Liberation Sans, sans-serif" fill="#111">(</text>
<text x="76.7" y="277.3" font-size="21" font-family="Liberation Sans, sans-serif" fill="#111">b</text>
<text x="91.6" y="277.6" font-size="23" font-family="Liberation Sans, sans-serif" fill="#111">)</text>
<g shape-rendering="crispEdges">
<rect x="43.20" y="516.2" width="10.43" height="9.8" fill="#0f1e82"/>
<rect x="53.33" y="516.2" width="10.43" height="9.8" fill="#1228a0"/>
<rect x="63.47" y="516.2" width="10.43" height="9.8" fill="#1432b4"/>
<rect x="73.60" y="516.2" width="10.43" height="9.8" fill="#143cc3"/>
<rect x="83.73" y="516.2" width="10.43" height="9.8" fill="#1648d2"/>
<rect x="93.87" y="516.2" width="10.43" height="9.8" fill="#1955dc"/>
<rect x="104.00" y="516.2" width="10.43" height="9.8" fill="#1e6ee6"/>
<rect x="114.13" y="516.2" width="10.43" height="9.8" fill="#2480ee"/>
<rect x="124.27" y="516.2" width="10.43" height="9.8" fill="#2a91f2"/>
<rect x="134.40" y="516.2" width="10.43" height="9.8" fill="#349ef5"/>
<rect x="144.53" y="516.2" width="10.43" height="9.8" fill="#46aaf8"/>
<rect x="154.67" y="516.2" width="10.43" height="9.8" fill="#5fb9fa"/>
<rect x="164.80" y="516.2" width="10.43" height="9.8" fill="#76c6fb"/>
<rect x="174.93" y="516.2" width="10.43" height="9.8" fill="#8ad0fc"/>
<rect x="185.07" y="516.2" width="10.43" height="9.8" fill="#9bd8fd"/>
<rect x="195.20" y="516.2" width="10.43" height="9.8" fill="#aae0fd"/>
<rect x="205.33" y="516.2" width="10.43" height="9.8" fill="#b8e7fe"/>
<rect x="215.47" y="516.2" width="10.43" height="9.8" fill="#c6eefe"/>
<rect x="225.60" y="516.2" width="10.43" height="9.8" fill="#d4f3ff"/>
<rect x="235.73" y="516.2" width="10.43" height="9.8" fill="#e4f8ff"/>
<rect x="245.87" y="516.2" width="10.43" height="9.8" fill="#ffffff"/>
<rect x="256.00" y="516.2" width="10.43" height="9.8" fill="#ffffff"/>
<rect x="266.13" y="516.2" width="10.43" height="9.8" fill="#fffadc"/>
<rect x="276.27" y="516.2" width="10.43" height="9.8" fill="#fff2be"/>
<rect x="286.40" y="516.2" width="10.43" height="9.8" fill="#ffeaa0"/>
<rect x="296.53" y="516.2" width="10.43" height="9.8" fill="#ffe282"/>
<rect x="306.67" y="516.2" width="10.43" height="9.8" fill="#ffd864"/>
<rect x="316.80" y="516.2" width="10.43" height="9.8" fill="#ffcd46"/>
<rect x="326.93" y="516.2" width="10.43" height="9.8" fill="#ffc02d"/>
<rect x="337.07" y="516.2" width="10.43" height="9.8" fill="#ffb219"/>
<rect x="347.20" y="516.2" width="10.43" height="9.8" fill="#ffa30a"/>
<rect x="357.33" y="516.2" width="10.43" height="9.8" fill="#ff9400"/>
<rect x="367.47" y="516.2" width="10.43" height="9.8" fill="#ff8200"/>
<rect x="377.60" y="516.2" width="10.43" height="9.8" fill="#ff7000"/>
<rect x="387.73" y="516.2" width="10.43" height="9.8" fill="#fc5c00"/>
<rect x="397.87" y="516.2" width="10.43" height="9.8" fill="#f84800"/>
<rect x="408.00" y="516.2" width="10.43" height="9.8" fill="#f43405"/>
<rect x="418.13" y="516.2" width="10.43" height="9.8" fill="#ee240a"/>
<rect x="428.27" y="516.2" width="10.43" height="9.8" fill="#ee180c"/>
<rect x="438.40" y="516.2" width="10.43" height="9.8" fill="#e6100e"/>
<rect x="448.53" y="516.2" width="10.43" height="9.8" fill="#d40a0e"/>
<rect x="458.67" y="516.2" width="10.43" height="9.8" fill="#be050e"/>
</g>
<rect x="43.2" y="516.2" width="425.6" height="9.8" fill="none" stroke="#000" stroke-width="1.2"/>
<line x1="53.3" y1="516.2" x2="53.3" y2="526.0" stroke="#000" stroke-width="0.8"/>
<text transform="translate(53.3,538.9) scale(1.2,1)" font-size="15.5" text-anchor="middle" font-family="Liberation Sans, sans-serif" fill="#111">−2</text>
<line x1="104.0" y1="516.2" x2="104.0" y2="526.0" stroke="#000" stroke-width="0.8"/>
<text transform="translate(104.0,538.9) scale(1.2,1)" font-size="15.5" text-anchor="middle" font-family="Liberation Sans, sans-serif" fill="#111">−1.5</text>
<line x1="154.7" y1="516.2" x2="154.7" y2="526.0" stroke="#000" stroke-width="0.8"/>
<text transform="translate(154.7,538.9) scale(1.2,1)" font-size="15.5" text-anchor="middle" font-family="Liberation Sans, sans-serif" fill="#111">−1</text>
<line x1="205.3" y1="516.2" x2="205.3" y2="526.0" stroke="#000" stroke-width="0.8"/>
<text transform="translate(205.3,538.9) scale(1.2,1)" font-size="15.5" text-anchor="middle" font-family="Liberation Sans, sans-serif" fill="#111">−0.5</text>
<line x1="256.0" y1="516.2" x2="256.0" y2="526.0" stroke="#000" stroke-width="0.8"/>
<text transform="translate(256.0,538.9) scale(1.2,1)" font-size="15.5" text-anchor="middle" font-family="Liberation Sans, sans-serif" fill="#111">0</text>
<line x1="306.7" y1="516.2" x2="306.7" y2="526.0" stroke="#000" stroke-width="0.8"/>
<text transform="translate(306.7,538.9) scale(1.2,1)" font-size="15.5" text-anchor="middle" font-family="Liberation Sans, sans-serif" fill="#111">0.5</text>
<line x1="357.3" y1="516.2" x2="357.3" y2="526.0" stroke="#000" stroke-width="0.8"/>
<text transform="translate(357.3,538.9) scale(1.2,1)" font-size="15.5" text-anchor="middle" font-family="Liberation Sans, sans-serif" fill="#111">1</text>
<line x1="408.0" y1="516.2" x2="408.0" y2="526.0" stroke="#000" stroke-width="0.8"/>
<text transform="translate(408.0,538.9) scale(1.2,1)" font-size="15.5" text-anchor="middle" font-family="Liberation Sans, sans-serif" fill="#111">1.5</text>
<line x1="458.7" y1="516.2" x2="458.7" y2="526.0" stroke="#000" stroke-width="0.8"/>
<text transform="translate(458.7,538.9) scale(1.2,1)" font-size="15.5" text-anchor="middle" font-family="Liberation Sans, sans-serif" fill="#111">2</text>
<text transform="translate(409.2,511.8) scale(1.1,1)" font-size="11.8" font-family="Liberation Sans, sans-serif" fill="#111">K(std</text>
<text transform="translate(446.5,511.8) scale(1.1,1)" font-size="11.8" font-family="Liberation Sans, sans-serif" fill="#111">dev)</text>
<text transform="translate(474.8,506.4) scale(1.1,1)" font-size="8" font-family="Liberation Sans, sans-serif" fill="#111">−1</text>
</svg>
</body></html>
